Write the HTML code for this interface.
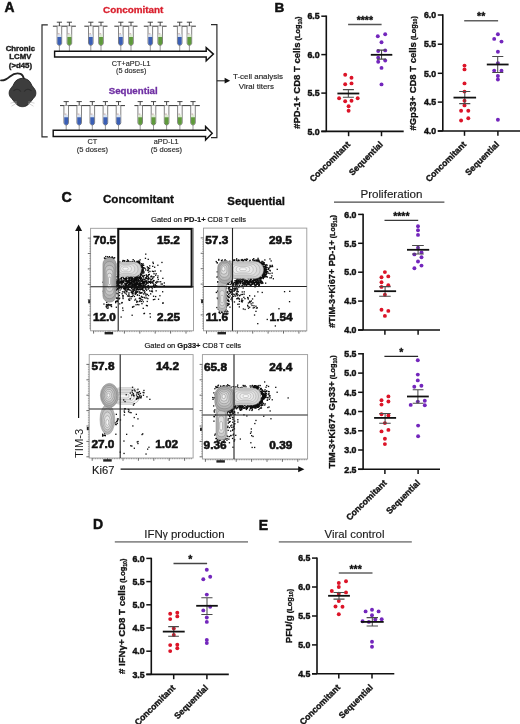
<!DOCTYPE html>
<html><head><meta charset="utf-8"><title>Figure</title>
<style>
html,body{margin:0;padding:0;background:#fff;}
body{width:520px;height:724px;overflow:hidden;}
svg{display:block;font-family:"Liberation Sans", Arial, Helvetica, sans-serif;}
</style></head><body>
<svg width="520" height="724" viewBox="0 0 520 724">
<defs>
<filter id="soft" x="-20%" y="-20%" width="140%" height="140%"><feGaussianBlur stdDeviation="0.45"/></filter>
</defs>
<rect width="520" height="724" fill="#fff"/>
<text x="4.6" y="12.4" font-size="13.8" font-weight="bold" text-anchor="start" fill="#111" stroke="#111" stroke-width="0.5" >A</text>
<text x="133.2" y="12.6" font-size="9.9" font-weight="bold" text-anchor="middle" fill="#d91f2d" stroke="#d91f2d" stroke-width="0.32" >Concomitant</text>
<text x="133.2" y="93.9" font-size="9.7" font-weight="bold" text-anchor="middle" fill="#6f2fa3" stroke="#6f2fa3" stroke-width="0.32" >Sequential</text>
<text x="20.4" y="50.6" font-size="7.8" font-weight="bold" text-anchor="middle" fill="#1a1a1a" stroke="#1a1a1a" stroke-width="0.4" >Chronic</text>
<text x="20.4" y="59.3" font-size="7.8" font-weight="bold" text-anchor="middle" fill="#1a1a1a" stroke="#1a1a1a" stroke-width="0.4" >LCMV</text>
<text x="20.4" y="67.8" font-size="7.8" font-weight="bold" text-anchor="middle" fill="#1a1a1a" stroke="#1a1a1a" stroke-width="0.4" >(&gt;d45)</text>
<path d="M1,80.4 C4,80.9 7,79 10,76.5 C13,74 17,72.6 20.5,73.8 C22,74.4 23.3,76 24,79" fill="none" stroke="#222" stroke-width="1.8" stroke-linecap="round"/>
<path d="M22.5,78.3 C26.5,78.3 29.8,80.5 31.2,84 C32,86.5 34.6,88 35.6,91 C36.4,93.8 35.6,96.6 33.5,98.2 C31.5,100.6 29.6,103.6 27,105.4 C25.5,106.4 23.8,106.7 22.5,106.7 C21.2,106.7 19.5,106.4 18,105.4 C15.4,103.6 13.5,100.6 11.5,98.2 C9.4,96.6 8.6,93.8 9.4,91 C10.4,88 13,86.5 13.8,84 C15.2,80.5 18.5,78.3 22.5,78.3 Z" fill="#3d3d3d" stroke="#1f1f1f" stroke-width="0.8"/>
<path d="M13.5,91 C15.5,88.5 19,88.8 20.8,91.5 M31.5,91 C29.5,88.5 26,88.8 24.2,91.5" fill="none" stroke="#2c2c2c" stroke-width="1.1"/>
<path d="M16.5,101.8 L10.5,103.2 M17,103 L11.5,106.2 M28.5,101.8 L34.5,103.2 M28,103 L33.5,106.2" stroke="#b8b8b8" stroke-width="0.6" fill="none"/>
<path d="M47.8,24.8 H42 V136.8 H47.7" fill="none" stroke="#2b2b2b" stroke-width="1.2"/>
<path d="M211,24.6 H216.9 V137.7 H211" fill="none" stroke="#2b2b2b" stroke-width="1.2"/>
<path d="M216.9,80.8 H225.5" stroke="#222" stroke-width="1.1"/>
<path d="M224.6,77.8 L230.2,80.7 L224.6,83.6 Z" fill="#111"/>
<text x="258.0" y="79.3" font-size="7.95" text-anchor="middle" fill="#222" stroke="#222" stroke-width="0.14" >T-cell analysis</text>
<text x="256.4" y="88.9" font-size="7.95" text-anchor="middle" fill="#222" stroke="#222" stroke-width="0.14" >Viral titers</text>
<path d="M52.9,26.2 H75.9" stroke="#333" stroke-width="1"/>
<path d="M56.8,22.2 H62.0 M59.4,22.2 V26.2" stroke="#333" stroke-width="0.9" fill="none"/>
<path d="M57.1,26.2 V43.3 Q57.1,44.8 59.4,45.599999999999994 Q61.699999999999996,44.8 61.699999999999996,43.3 V26.2" fill="#fbfbfb" stroke="#5a5a5a" stroke-width="0.75"/>
<rect x="57.50" y="34.40" width="3.80" height="2.8" fill="#d6e2f2"/>
<path d="M57.45,37.0 V43.3 Q57.45,44.599999999999994 59.4,45.3 Q61.349999999999994,44.599999999999994 61.349999999999994,43.3 V37.0 Z" fill="#3b5fb5"/>
<path d="M57.9,33.8 H59.6" stroke="#8a4a4a" stroke-width="0.5"/>
<path d="M59.4,45.599999999999994 V51" stroke="#555" stroke-width="0.6"/>
<path d="M66.80000000000001,22.2 H72.0 M69.4,22.2 V26.2" stroke="#333" stroke-width="0.9" fill="none"/>
<path d="M67.10000000000001,26.2 V43.3 Q67.10000000000001,44.8 69.4,45.599999999999994 Q71.7,44.8 71.7,43.3 V26.2" fill="#fbfbfb" stroke="#5a5a5a" stroke-width="0.75"/>
<rect x="67.50" y="34.40" width="3.80" height="2.8" fill="#dcebd2"/>
<path d="M67.45,37.0 V43.3 Q67.45,44.599999999999994 69.4,45.3 Q71.35000000000001,44.599999999999994 71.35000000000001,43.3 V37.0 Z" fill="#5f9a3c"/>
<path d="M67.9,33.8 H69.60000000000001" stroke="#8a4a4a" stroke-width="0.5"/>
<path d="M69.4,45.599999999999994 V51" stroke="#555" stroke-width="0.6"/>
<path d="M84.3,26.2 H107.5" stroke="#333" stroke-width="1"/>
<path d="M88.2,22.2 H93.39999999999999 M90.8,22.2 V26.2" stroke="#333" stroke-width="0.9" fill="none"/>
<path d="M88.5,26.2 V43.3 Q88.5,44.8 90.8,45.599999999999994 Q93.1,44.8 93.1,43.3 V26.2" fill="#fbfbfb" stroke="#5a5a5a" stroke-width="0.75"/>
<rect x="88.90" y="34.40" width="3.80" height="2.8" fill="#d6e2f2"/>
<path d="M88.85,37.0 V43.3 Q88.85,44.599999999999994 90.8,45.3 Q92.75,44.599999999999994 92.75,43.3 V37.0 Z" fill="#3b5fb5"/>
<path d="M89.3,33.8 H91.0" stroke="#8a4a4a" stroke-width="0.5"/>
<path d="M90.8,45.599999999999994 V51" stroke="#555" stroke-width="0.6"/>
<path d="M98.4,22.2 H103.6 M101.0,22.2 V26.2" stroke="#333" stroke-width="0.9" fill="none"/>
<path d="M98.7,26.2 V43.3 Q98.7,44.8 101.0,45.599999999999994 Q103.3,44.8 103.3,43.3 V26.2" fill="#fbfbfb" stroke="#5a5a5a" stroke-width="0.75"/>
<rect x="99.10" y="34.40" width="3.80" height="2.8" fill="#dcebd2"/>
<path d="M99.05,37.0 V43.3 Q99.05,44.599999999999994 101.0,45.3 Q102.95,44.599999999999994 102.95,43.3 V37.0 Z" fill="#5f9a3c"/>
<path d="M99.5,33.8 H101.2" stroke="#8a4a4a" stroke-width="0.5"/>
<path d="M101.0,45.599999999999994 V51" stroke="#555" stroke-width="0.6"/>
<path d="M114.3,26.2 H137.5" stroke="#333" stroke-width="1"/>
<path d="M118.2,22.2 H123.39999999999999 M120.8,22.2 V26.2" stroke="#333" stroke-width="0.9" fill="none"/>
<path d="M118.5,26.2 V43.3 Q118.5,44.8 120.8,45.599999999999994 Q123.1,44.8 123.1,43.3 V26.2" fill="#fbfbfb" stroke="#5a5a5a" stroke-width="0.75"/>
<rect x="118.90" y="34.40" width="3.80" height="2.8" fill="#d6e2f2"/>
<path d="M118.85,37.0 V43.3 Q118.85,44.599999999999994 120.8,45.3 Q122.75,44.599999999999994 122.75,43.3 V37.0 Z" fill="#3b5fb5"/>
<path d="M119.3,33.8 H121.0" stroke="#8a4a4a" stroke-width="0.5"/>
<path d="M120.8,45.599999999999994 V51" stroke="#555" stroke-width="0.6"/>
<path d="M128.4,22.2 H133.6 M131.0,22.2 V26.2" stroke="#333" stroke-width="0.9" fill="none"/>
<path d="M128.7,26.2 V43.3 Q128.7,44.8 131.0,45.599999999999994 Q133.3,44.8 133.3,43.3 V26.2" fill="#fbfbfb" stroke="#5a5a5a" stroke-width="0.75"/>
<rect x="129.10" y="34.40" width="3.80" height="2.8" fill="#dcebd2"/>
<path d="M129.04999999999998,37.0 V43.3 Q129.04999999999998,44.599999999999994 131.0,45.3 Q132.95000000000002,44.599999999999994 132.95000000000002,43.3 V37.0 Z" fill="#5f9a3c"/>
<path d="M129.5,33.8 H131.2" stroke="#8a4a4a" stroke-width="0.5"/>
<path d="M131.0,45.599999999999994 V51" stroke="#555" stroke-width="0.6"/>
<path d="M143.8,26.2 H166.7" stroke="#333" stroke-width="1"/>
<path d="M147.70000000000002,22.2 H152.9 M150.3,22.2 V26.2" stroke="#333" stroke-width="0.9" fill="none"/>
<path d="M148.0,26.2 V43.3 Q148.0,44.8 150.3,45.599999999999994 Q152.60000000000002,44.8 152.60000000000002,43.3 V26.2" fill="#fbfbfb" stroke="#5a5a5a" stroke-width="0.75"/>
<rect x="148.40" y="34.40" width="3.80" height="2.8" fill="#d6e2f2"/>
<path d="M148.35,37.0 V43.3 Q148.35,44.599999999999994 150.3,45.3 Q152.25000000000003,44.599999999999994 152.25000000000003,43.3 V37.0 Z" fill="#3b5fb5"/>
<path d="M148.8,33.8 H150.5" stroke="#8a4a4a" stroke-width="0.5"/>
<path d="M150.3,45.599999999999994 V51" stroke="#555" stroke-width="0.6"/>
<path d="M157.6,22.2 H162.79999999999998 M160.2,22.2 V26.2" stroke="#333" stroke-width="0.9" fill="none"/>
<path d="M157.89999999999998,26.2 V43.3 Q157.89999999999998,44.8 160.2,45.599999999999994 Q162.5,44.8 162.5,43.3 V26.2" fill="#fbfbfb" stroke="#5a5a5a" stroke-width="0.75"/>
<rect x="158.30" y="34.40" width="3.80" height="2.8" fill="#dcebd2"/>
<path d="M158.24999999999997,37.0 V43.3 Q158.24999999999997,44.599999999999994 160.2,45.3 Q162.15,44.599999999999994 162.15,43.3 V37.0 Z" fill="#5f9a3c"/>
<path d="M158.7,33.8 H160.39999999999998" stroke="#8a4a4a" stroke-width="0.5"/>
<path d="M160.2,45.599999999999994 V51" stroke="#555" stroke-width="0.6"/>
<path d="M173.2,26.2 H195.9" stroke="#333" stroke-width="1"/>
<path d="M177.1,22.2 H182.29999999999998 M179.7,22.2 V26.2" stroke="#333" stroke-width="0.9" fill="none"/>
<path d="M177.39999999999998,26.2 V43.3 Q177.39999999999998,44.8 179.7,45.599999999999994 Q182.0,44.8 182.0,43.3 V26.2" fill="#fbfbfb" stroke="#5a5a5a" stroke-width="0.75"/>
<rect x="177.80" y="34.40" width="3.80" height="2.8" fill="#d6e2f2"/>
<path d="M177.74999999999997,37.0 V43.3 Q177.74999999999997,44.599999999999994 179.7,45.3 Q181.65,44.599999999999994 181.65,43.3 V37.0 Z" fill="#3b5fb5"/>
<path d="M178.2,33.8 H179.89999999999998" stroke="#8a4a4a" stroke-width="0.5"/>
<path d="M179.7,45.599999999999994 V51" stroke="#555" stroke-width="0.6"/>
<path d="M186.8,22.2 H192.0 M189.4,22.2 V26.2" stroke="#333" stroke-width="0.9" fill="none"/>
<path d="M187.1,26.2 V43.3 Q187.1,44.8 189.4,45.599999999999994 Q191.70000000000002,44.8 191.70000000000002,43.3 V26.2" fill="#fbfbfb" stroke="#5a5a5a" stroke-width="0.75"/>
<rect x="187.50" y="34.40" width="3.80" height="2.8" fill="#dcebd2"/>
<path d="M187.45,37.0 V43.3 Q187.45,44.599999999999994 189.4,45.3 Q191.35000000000002,44.599999999999994 191.35000000000002,43.3 V37.0 Z" fill="#5f9a3c"/>
<path d="M187.9,33.8 H189.6" stroke="#8a4a4a" stroke-width="0.5"/>
<path d="M189.4,45.599999999999994 V51" stroke="#555" stroke-width="0.6"/>
<path d="M60,105.6 H125" stroke="#333" stroke-width="1"/>
<path d="M134.4,105.6 H199.8" stroke="#333" stroke-width="1"/>
<path d="M63.6,101.6 H68.8 M66.2,101.6 V105.6" stroke="#333" stroke-width="0.9" fill="none"/>
<path d="M63.900000000000006,105.6 V122.9 Q63.900000000000006,124.4 66.2,125.2 Q68.5,124.4 68.5,122.9 V105.6" fill="#fbfbfb" stroke="#5a5a5a" stroke-width="0.75"/>
<rect x="64.30" y="114.70" width="3.80" height="2.8" fill="#d6e2f2"/>
<path d="M64.25,117.3 V122.9 Q64.25,124.2 66.2,124.9 Q68.15,124.2 68.15,122.9 V117.3 Z" fill="#3b5fb5"/>
<path d="M64.7,114.1 H66.4" stroke="#8a4a4a" stroke-width="0.5"/>
<path d="M66.2,125.2 V130" stroke="#555" stroke-width="0.6"/>
<path d="M76.60000000000001,101.6 H81.8 M79.2,101.6 V105.6" stroke="#333" stroke-width="0.9" fill="none"/>
<path d="M76.9,105.6 V122.9 Q76.9,124.4 79.2,125.2 Q81.5,124.4 81.5,122.9 V105.6" fill="#fbfbfb" stroke="#5a5a5a" stroke-width="0.75"/>
<rect x="77.30" y="114.70" width="3.80" height="2.8" fill="#d6e2f2"/>
<path d="M77.25,117.3 V122.9 Q77.25,124.2 79.2,124.9 Q81.15,124.2 81.15,122.9 V117.3 Z" fill="#3b5fb5"/>
<path d="M77.7,114.1 H79.4" stroke="#8a4a4a" stroke-width="0.5"/>
<path d="M79.2,125.2 V130" stroke="#555" stroke-width="0.6"/>
<path d="M89.7,101.6 H94.89999999999999 M92.3,101.6 V105.6" stroke="#333" stroke-width="0.9" fill="none"/>
<path d="M90.0,105.6 V122.9 Q90.0,124.4 92.3,125.2 Q94.6,124.4 94.6,122.9 V105.6" fill="#fbfbfb" stroke="#5a5a5a" stroke-width="0.75"/>
<rect x="90.40" y="114.70" width="3.80" height="2.8" fill="#d6e2f2"/>
<path d="M90.35,117.3 V122.9 Q90.35,124.2 92.3,124.9 Q94.25,124.2 94.25,122.9 V117.3 Z" fill="#3b5fb5"/>
<path d="M90.8,114.1 H92.5" stroke="#8a4a4a" stroke-width="0.5"/>
<path d="M92.3,125.2 V130" stroke="#555" stroke-width="0.6"/>
<path d="M102.80000000000001,101.6 H108.0 M105.4,101.6 V105.6" stroke="#333" stroke-width="0.9" fill="none"/>
<path d="M103.10000000000001,105.6 V122.9 Q103.10000000000001,124.4 105.4,125.2 Q107.7,124.4 107.7,122.9 V105.6" fill="#fbfbfb" stroke="#5a5a5a" stroke-width="0.75"/>
<rect x="103.50" y="114.70" width="3.80" height="2.8" fill="#d6e2f2"/>
<path d="M103.45,117.3 V122.9 Q103.45,124.2 105.4,124.9 Q107.35000000000001,124.2 107.35000000000001,122.9 V117.3 Z" fill="#3b5fb5"/>
<path d="M103.9,114.1 H105.60000000000001" stroke="#8a4a4a" stroke-width="0.5"/>
<path d="M105.4,125.2 V130" stroke="#555" stroke-width="0.6"/>
<path d="M115.9,101.6 H121.1 M118.5,101.6 V105.6" stroke="#333" stroke-width="0.9" fill="none"/>
<path d="M116.2,105.6 V122.9 Q116.2,124.4 118.5,125.2 Q120.8,124.4 120.8,122.9 V105.6" fill="#fbfbfb" stroke="#5a5a5a" stroke-width="0.75"/>
<rect x="116.60" y="114.70" width="3.80" height="2.8" fill="#d6e2f2"/>
<path d="M116.55,117.3 V122.9 Q116.55,124.2 118.5,124.9 Q120.45,124.2 120.45,122.9 V117.3 Z" fill="#3b5fb5"/>
<path d="M117.0,114.1 H118.7" stroke="#8a4a4a" stroke-width="0.5"/>
<path d="M118.5,125.2 V130" stroke="#555" stroke-width="0.6"/>
<path d="M137.6,101.6 H142.79999999999998 M140.2,101.6 V105.6" stroke="#333" stroke-width="0.9" fill="none"/>
<path d="M137.89999999999998,105.6 V122.9 Q137.89999999999998,124.4 140.2,125.2 Q142.5,124.4 142.5,122.9 V105.6" fill="#fbfbfb" stroke="#5a5a5a" stroke-width="0.75"/>
<rect x="138.30" y="114.70" width="3.80" height="2.8" fill="#dcebd2"/>
<path d="M138.24999999999997,117.3 V122.9 Q138.24999999999997,124.2 140.2,124.9 Q142.15,124.2 142.15,122.9 V117.3 Z" fill="#5f9a3c"/>
<path d="M138.7,114.1 H140.39999999999998" stroke="#8a4a4a" stroke-width="0.5"/>
<path d="M140.2,125.2 V130" stroke="#555" stroke-width="0.6"/>
<path d="M150.9,101.6 H156.1 M153.5,101.6 V105.6" stroke="#333" stroke-width="0.9" fill="none"/>
<path d="M151.2,105.6 V122.9 Q151.2,124.4 153.5,125.2 Q155.8,124.4 155.8,122.9 V105.6" fill="#fbfbfb" stroke="#5a5a5a" stroke-width="0.75"/>
<rect x="151.60" y="114.70" width="3.80" height="2.8" fill="#dcebd2"/>
<path d="M151.54999999999998,117.3 V122.9 Q151.54999999999998,124.2 153.5,124.9 Q155.45000000000002,124.2 155.45000000000002,122.9 V117.3 Z" fill="#5f9a3c"/>
<path d="M152.0,114.1 H153.7" stroke="#8a4a4a" stroke-width="0.5"/>
<path d="M153.5,125.2 V130" stroke="#555" stroke-width="0.6"/>
<path d="M164.0,101.6 H169.2 M166.6,101.6 V105.6" stroke="#333" stroke-width="0.9" fill="none"/>
<path d="M164.29999999999998,105.6 V122.9 Q164.29999999999998,124.4 166.6,125.2 Q168.9,124.4 168.9,122.9 V105.6" fill="#fbfbfb" stroke="#5a5a5a" stroke-width="0.75"/>
<rect x="164.70" y="114.70" width="3.80" height="2.8" fill="#dcebd2"/>
<path d="M164.64999999999998,117.3 V122.9 Q164.64999999999998,124.2 166.6,124.9 Q168.55,124.2 168.55,122.9 V117.3 Z" fill="#5f9a3c"/>
<path d="M165.1,114.1 H166.79999999999998" stroke="#8a4a4a" stroke-width="0.5"/>
<path d="M166.6,125.2 V130" stroke="#555" stroke-width="0.6"/>
<path d="M177.3,101.6 H182.5 M179.9,101.6 V105.6" stroke="#333" stroke-width="0.9" fill="none"/>
<path d="M177.6,105.6 V122.9 Q177.6,124.4 179.9,125.2 Q182.20000000000002,124.4 182.20000000000002,122.9 V105.6" fill="#fbfbfb" stroke="#5a5a5a" stroke-width="0.75"/>
<rect x="178.00" y="114.70" width="3.80" height="2.8" fill="#dcebd2"/>
<path d="M177.95,117.3 V122.9 Q177.95,124.2 179.9,124.9 Q181.85000000000002,124.2 181.85000000000002,122.9 V117.3 Z" fill="#5f9a3c"/>
<path d="M178.4,114.1 H180.1" stroke="#8a4a4a" stroke-width="0.5"/>
<path d="M179.9,125.2 V130" stroke="#555" stroke-width="0.6"/>
<path d="M190.4,101.6 H195.6 M193.0,101.6 V105.6" stroke="#333" stroke-width="0.9" fill="none"/>
<path d="M190.7,105.6 V122.9 Q190.7,124.4 193.0,125.2 Q195.3,124.4 195.3,122.9 V105.6" fill="#fbfbfb" stroke="#5a5a5a" stroke-width="0.75"/>
<rect x="191.10" y="114.70" width="3.80" height="2.8" fill="#dcebd2"/>
<path d="M191.04999999999998,117.3 V122.9 Q191.04999999999998,124.2 193.0,124.9 Q194.95000000000002,124.2 194.95000000000002,122.9 V117.3 Z" fill="#5f9a3c"/>
<path d="M191.5,114.1 H193.2" stroke="#8a4a4a" stroke-width="0.5"/>
<path d="M193.0,125.2 V130" stroke="#555" stroke-width="0.6"/>
<path d="M54.6,51.2 H206.2 V47.6 L213.4,54.1 L206.2,60.8 V57.0 H54.6 Z" fill="#fff" stroke="#111" stroke-width="1.45" stroke-linejoin="miter"/>
<path d="M53.2,130.2 H205.6 V126.6 L212.2,133.3 L205.6,140.0 V136.4 H53.2 Z" fill="#fff" stroke="#111" stroke-width="1.45" stroke-linejoin="miter"/>
<text x="131.2" y="65.5" font-size="7.3" text-anchor="middle" fill="#2a2a2a" stroke="#2a2a2a" stroke-width="0.14" >CT+aPD-L1</text>
<text x="131.2" y="73.2" font-size="7.3" text-anchor="middle" fill="#2a2a2a" stroke="#2a2a2a" stroke-width="0.14" >(5 doses)</text>
<text x="92.3" y="144.2" font-size="7.3" text-anchor="middle" fill="#2a2a2a" stroke="#2a2a2a" stroke-width="0.14" >CT</text>
<text x="92.4" y="152.3" font-size="7.55" text-anchor="middle" fill="#2a2a2a" stroke="#2a2a2a" stroke-width="0.14" >(5 doses)</text>
<text x="166.2" y="144.4" font-size="7.3" text-anchor="middle" fill="#2a2a2a" stroke="#2a2a2a" stroke-width="0.14" >aPD-L1</text>
<text x="166.4" y="152.3" font-size="7.55" text-anchor="middle" fill="#2a2a2a" stroke="#2a2a2a" stroke-width="0.14" >(5 doses)</text>
<text x="274.4" y="12.2" font-size="13.6" font-weight="bold" text-anchor="start" fill="#111" stroke="#111" stroke-width="0.5" >B</text>
<path d="M326.3,15.5 V131.4 M321.3,131.4 H403.7" stroke="#111" stroke-width="1.6" fill="none"/>
<path d="M321.3,16.2 H326.3" stroke="#111" stroke-width="1.5"/>
<text x="319.7" y="19.4" font-size="8.8" font-weight="bold" text-anchor="end" fill="#111" stroke="#111" stroke-width="0.45" >6.5</text>
<path d="M321.3,54.6 H326.3" stroke="#111" stroke-width="1.5"/>
<text x="319.7" y="57.800000000000004" font-size="8.8" font-weight="bold" text-anchor="end" fill="#111" stroke="#111" stroke-width="0.45" >6.0</text>
<path d="M321.3,93.1 H326.3" stroke="#111" stroke-width="1.5"/>
<text x="319.7" y="96.3" font-size="8.8" font-weight="bold" text-anchor="end" fill="#111" stroke="#111" stroke-width="0.45" >5.5</text>
<path d="M321.3,131.4 H326.3" stroke="#111" stroke-width="1.5"/>
<text x="319.7" y="134.6" font-size="8.8" font-weight="bold" text-anchor="end" fill="#111" stroke="#111" stroke-width="0.45" >5.0</text>
<path d="M348.6,131.4 V136.20000000000002" stroke="#111" stroke-width="1.5"/>
<path d="M381.5,131.4 V136.20000000000002" stroke="#111" stroke-width="1.5"/>
<path d="M348.1,24.5 H381.6" stroke="#555" stroke-width="1.4"/>
<text x="364.85" y="24.00" font-size="10.5" font-weight="bold" text-anchor="middle" fill="#0a0a0a" stroke="#0a0a0a" stroke-width="0.3" stroke-linejoin="round">****</text>
<circle cx="345.2" cy="74.8" r="1.95" fill="#dc1428"/>
<circle cx="351.5" cy="77.8" r="1.95" fill="#dc1428"/>
<circle cx="345.2" cy="84.2" r="1.95" fill="#dc1428"/>
<circle cx="351.5" cy="83.4" r="1.95" fill="#dc1428"/>
<circle cx="339.1" cy="98.2" r="1.95" fill="#dc1428"/>
<circle cx="357.7" cy="98.2" r="1.95" fill="#dc1428"/>
<circle cx="345.2" cy="101.3" r="1.95" fill="#dc1428"/>
<circle cx="351.5" cy="100.7" r="1.95" fill="#dc1428"/>
<circle cx="348.6" cy="106.3" r="1.95" fill="#dc1428"/>
<circle cx="348.6" cy="110.8" r="1.95" fill="#dc1428"/>
<circle cx="377.8" cy="36.2" r="1.95" fill="#7326bc"/>
<circle cx="385.2" cy="34.2" r="1.95" fill="#7326bc"/>
<circle cx="381.5" cy="42.3" r="1.95" fill="#7326bc"/>
<circle cx="378.2" cy="51.0" r="1.95" fill="#7326bc"/>
<circle cx="385.2" cy="50.4" r="1.95" fill="#7326bc"/>
<circle cx="378.2" cy="57.8" r="1.95" fill="#7326bc"/>
<circle cx="385.2" cy="60.5" r="1.95" fill="#7326bc"/>
<circle cx="378.2" cy="61.8" r="1.95" fill="#7326bc"/>
<circle cx="381.5" cy="67.9" r="1.95" fill="#7326bc"/>
<circle cx="381.5" cy="84.4" r="1.95" fill="#7326bc"/>
<path d="M348.35,89.6 V97.3 M342.9,89.6 H353.9 M342.9,97.3 H353.9" stroke="#4a4a4a" stroke-width="1.05" fill="none"/>
<path d="M337.4,93.5 H359.3" stroke="#111" stroke-width="1.8"/>
<path d="M381.55,50.1 V59.1 M377.0,50.1 H386.0 M377.0,59.1 H386.0" stroke="#4a4a4a" stroke-width="1.05" fill="none"/>
<path d="M370.8,54.8 H392.3" stroke="#111" stroke-width="1.8"/>
<text transform="translate(300.2,128.8) rotate(-90)" font-size="9.5" font-weight="bold" fill="#111" stroke="#111" stroke-width="0.3">#PD-1+ CD8 T cells<tspan font-size="7.32"> (Log</tspan><tspan font-size="5.13" dy="1.8">10</tspan><tspan font-size="7.32" dy="-1.8">)</tspan></text>
<text transform="translate(350.70,145.00) rotate(-45)" font-size="8.7" font-weight="bold" text-anchor="end" fill="#111" stroke="#111" stroke-width="0.35">Concomitant</text>
<text transform="translate(383.50,145.00) rotate(-45)" font-size="8.7" font-weight="bold" text-anchor="end" fill="#111" stroke="#111" stroke-width="0.35">Sequential</text>
<path d="M442.8,14.3 V131.0 M437.8,131.0 H520" stroke="#111" stroke-width="1.6" fill="none"/>
<path d="M437.8,15.0 H442.8" stroke="#111" stroke-width="1.5"/>
<text x="436.2" y="18.2" font-size="8.8" font-weight="bold" text-anchor="end" fill="#111" stroke="#111" stroke-width="0.45" >6.0</text>
<path d="M437.8,44.2 H442.8" stroke="#111" stroke-width="1.5"/>
<text x="436.2" y="47.400000000000006" font-size="8.8" font-weight="bold" text-anchor="end" fill="#111" stroke="#111" stroke-width="0.45" >5.5</text>
<path d="M437.8,73.3 H442.8" stroke="#111" stroke-width="1.5"/>
<text x="436.2" y="76.5" font-size="8.8" font-weight="bold" text-anchor="end" fill="#111" stroke="#111" stroke-width="0.45" >5.0</text>
<path d="M437.8,102.1 H442.8" stroke="#111" stroke-width="1.5"/>
<text x="436.2" y="105.3" font-size="8.8" font-weight="bold" text-anchor="end" fill="#111" stroke="#111" stroke-width="0.45" >4.5</text>
<path d="M437.8,131.0 H442.8" stroke="#111" stroke-width="1.5"/>
<text x="436.2" y="134.2" font-size="8.8" font-weight="bold" text-anchor="end" fill="#111" stroke="#111" stroke-width="0.45" >4.0</text>
<path d="M464.5,131.0 V135.8" stroke="#111" stroke-width="1.5"/>
<path d="M497.9,131.0 V135.8" stroke="#111" stroke-width="1.5"/>
<path d="M464.2,20.7 H498.1" stroke="#606060" stroke-width="1.4"/>
<text x="481.15" y="20.20" font-size="10.5" font-weight="bold" text-anchor="middle" fill="#0a0a0a" stroke="#0a0a0a" stroke-width="0.3" stroke-linejoin="round">**</text>
<circle cx="464.5" cy="65.6" r="1.95" fill="#dc1428"/>
<circle cx="464.5" cy="69.4" r="1.95" fill="#dc1428"/>
<circle cx="464.5" cy="83.4" r="1.95" fill="#dc1428"/>
<circle cx="464.5" cy="91.6" r="1.95" fill="#dc1428"/>
<circle cx="464.5" cy="100.7" r="1.95" fill="#dc1428"/>
<circle cx="464.5" cy="105.4" r="1.95" fill="#dc1428"/>
<circle cx="461.1" cy="110.8" r="1.95" fill="#dc1428"/>
<circle cx="468.3" cy="110.8" r="1.95" fill="#dc1428"/>
<circle cx="468.3" cy="118.2" r="1.95" fill="#dc1428"/>
<circle cx="461.1" cy="120.5" r="1.95" fill="#dc1428"/>
<circle cx="497.9" cy="34.2" r="1.95" fill="#7326bc"/>
<circle cx="494.2" cy="38.9" r="1.95" fill="#7326bc"/>
<circle cx="501.5" cy="41.6" r="1.95" fill="#7326bc"/>
<circle cx="497.9" cy="51.8" r="1.95" fill="#7326bc"/>
<circle cx="497.9" cy="63.1" r="1.95" fill="#7326bc"/>
<circle cx="494.2" cy="70.6" r="1.95" fill="#7326bc"/>
<circle cx="501.5" cy="70.8" r="1.95" fill="#7326bc"/>
<circle cx="497.9" cy="76.0" r="1.95" fill="#7326bc"/>
<circle cx="497.9" cy="79.5" r="1.95" fill="#7326bc"/>
<circle cx="497.9" cy="119.8" r="1.95" fill="#7326bc"/>
<path d="M464.8,91.5 V103.6 M459.2,91.5 H470.3 M459.2,103.6 H470.3" stroke="#4a4a4a" stroke-width="1.05" fill="none"/>
<path d="M453.5,97.6 H476.1" stroke="#111" stroke-width="1.8"/>
<path d="M497.70000000000005,56.4 V72.4 M492.2,56.4 H503.3 M492.2,72.4 H503.3" stroke="#4a4a4a" stroke-width="1.05" fill="none"/>
<path d="M486.8,64.5 H508.6" stroke="#111" stroke-width="1.8"/>
<text transform="translate(415.6,130.6) rotate(-90)" font-size="9.5" font-weight="bold" fill="#111" stroke="#111" stroke-width="0.3">#Gp33+ CD8 T cells<tspan font-size="7.32"> (Log</tspan><tspan font-size="5.13" dy="1.8">10</tspan><tspan font-size="7.32" dy="-1.8">)</tspan></text>
<text transform="translate(466.70,145.00) rotate(-45)" font-size="8.7" font-weight="bold" text-anchor="end" fill="#111" stroke="#111" stroke-width="0.35">Concomitant</text>
<text transform="translate(499.70,145.00) rotate(-45)" font-size="8.7" font-weight="bold" text-anchor="end" fill="#111" stroke="#111" stroke-width="0.35">Sequential</text>
<text x="61.4" y="202.4" font-size="14.2" font-weight="bold" text-anchor="start" fill="#111" stroke="#111" stroke-width="0.5" >C</text>
<text x="103.0" y="203.0" font-size="11.6" font-weight="bold" text-anchor="start" fill="#111" stroke="#111" stroke-width="0.32" >Concomitant</text>
<text x="227.3" y="204.6" font-size="11.4" font-weight="bold" text-anchor="start" fill="#111" stroke="#111" stroke-width="0.32" >Sequential</text>
<text x="151.1" y="222.3" font-size="7.5" fill="#151515" stroke="#151515" stroke-width="0.18">Gated on <tspan font-weight="bold">PD-1+</tspan> CD8 T cells</text>
<text x="144.4" y="347.6" font-size="7.5" fill="#151515" stroke="#151515" stroke-width="0.18">Gated on <tspan font-weight="bold">Gp33+</tspan> CD8 T cells</text>
<path d="M78.6,418 V229" stroke="#111" stroke-width="1.2"/>
<path d="M78.6,224.6 L82.1,231 L75.1,231 Z" fill="#111"/>
<path d="M120.6,469.2 H299" stroke="#111" stroke-width="1.2"/>
<path d="M304.4,469.2 L298.2,466.2 L298.2,472.2 Z" fill="#111"/>
<text transform="translate(82.9,458) rotate(-90)" font-size="11.2" fill="#1a1a1a">TIM-3</text>
<text x="92.0" y="474.0" font-size="11.2" text-anchor="start" fill="#1a1a1a" stroke="#1a1a1a" stroke-width="0.14" >Ki67</text>
<rect x="90.6" y="228.3" width="102.90" height="102.50" fill="#fff" stroke="#9a9a9a" stroke-width="0.9"/>
<path d="M87.80,238.10 H90.6" stroke="#444" stroke-width="0.8"/>
<path d="M89.30,239.80 H90.6" stroke="#666" stroke-width="0.55"/>
<path d="M89.30,241.50 H90.6" stroke="#666" stroke-width="0.55"/>
<path d="M89.30,243.20 H90.6" stroke="#666" stroke-width="0.55"/>
<path d="M89.30,244.90 H90.6" stroke="#666" stroke-width="0.55"/>
<path d="M89.30,246.60 H90.6" stroke="#666" stroke-width="0.55"/>
<path d="M89.30,248.30 H90.6" stroke="#666" stroke-width="0.55"/>
<path d="M89.30,250.00 H90.6" stroke="#666" stroke-width="0.55"/>
<path d="M89.30,251.70 H90.6" stroke="#666" stroke-width="0.55"/>
<path d="M87.80,253.50 H90.6" stroke="#444" stroke-width="0.8"/>
<path d="M89.30,255.20 H90.6" stroke="#666" stroke-width="0.55"/>
<path d="M89.30,256.90 H90.6" stroke="#666" stroke-width="0.55"/>
<path d="M89.30,258.60 H90.6" stroke="#666" stroke-width="0.55"/>
<path d="M89.30,260.30 H90.6" stroke="#666" stroke-width="0.55"/>
<path d="M89.30,262.00 H90.6" stroke="#666" stroke-width="0.55"/>
<path d="M89.30,263.70 H90.6" stroke="#666" stroke-width="0.55"/>
<path d="M89.30,265.40 H90.6" stroke="#666" stroke-width="0.55"/>
<path d="M89.30,267.10 H90.6" stroke="#666" stroke-width="0.55"/>
<path d="M87.80,268.90 H90.6" stroke="#444" stroke-width="0.8"/>
<path d="M89.30,270.60 H90.6" stroke="#666" stroke-width="0.55"/>
<path d="M89.30,272.30 H90.6" stroke="#666" stroke-width="0.55"/>
<path d="M89.30,274.00 H90.6" stroke="#666" stroke-width="0.55"/>
<path d="M89.30,275.70 H90.6" stroke="#666" stroke-width="0.55"/>
<path d="M89.30,277.40 H90.6" stroke="#666" stroke-width="0.55"/>
<path d="M89.30,279.10 H90.6" stroke="#666" stroke-width="0.55"/>
<path d="M89.30,280.80 H90.6" stroke="#666" stroke-width="0.55"/>
<path d="M89.30,282.50 H90.6" stroke="#666" stroke-width="0.55"/>
<path d="M87.80,284.30 H90.6" stroke="#444" stroke-width="0.8"/>
<path d="M89.30,286.00 H90.6" stroke="#666" stroke-width="0.55"/>
<path d="M89.30,287.70 H90.6" stroke="#666" stroke-width="0.55"/>
<path d="M89.30,289.40 H90.6" stroke="#666" stroke-width="0.55"/>
<path d="M89.30,291.10 H90.6" stroke="#666" stroke-width="0.55"/>
<path d="M89.30,292.80 H90.6" stroke="#666" stroke-width="0.55"/>
<path d="M89.30,294.50 H90.6" stroke="#666" stroke-width="0.55"/>
<path d="M89.30,296.20 H90.6" stroke="#666" stroke-width="0.55"/>
<path d="M89.30,297.90 H90.6" stroke="#666" stroke-width="0.55"/>
<path d="M87.80,299.70 H90.6" stroke="#444" stroke-width="0.8"/>
<path d="M89.30,301.40 H90.6" stroke="#666" stroke-width="0.55"/>
<path d="M89.30,303.10 H90.6" stroke="#666" stroke-width="0.55"/>
<path d="M89.30,304.80 H90.6" stroke="#666" stroke-width="0.55"/>
<path d="M89.30,306.50 H90.6" stroke="#666" stroke-width="0.55"/>
<path d="M89.30,308.20 H90.6" stroke="#666" stroke-width="0.55"/>
<path d="M89.30,309.90 H90.6" stroke="#666" stroke-width="0.55"/>
<path d="M89.30,311.60 H90.6" stroke="#666" stroke-width="0.55"/>
<path d="M89.30,313.30 H90.6" stroke="#666" stroke-width="0.55"/>
<path d="M87.80,315.10 H90.6" stroke="#444" stroke-width="0.8"/>
<path d="M89.30,316.80 H90.6" stroke="#666" stroke-width="0.55"/>
<path d="M89.30,318.50 H90.6" stroke="#666" stroke-width="0.55"/>
<path d="M89.30,320.20 H90.6" stroke="#666" stroke-width="0.55"/>
<path d="M89.30,321.90 H90.6" stroke="#666" stroke-width="0.55"/>
<path d="M89.30,323.60 H90.6" stroke="#666" stroke-width="0.55"/>
<path d="M89.30,325.30 H90.6" stroke="#666" stroke-width="0.55"/>
<path d="M89.30,327.00 H90.6" stroke="#666" stroke-width="0.55"/>
<path d="M89.30,328.70 H90.6" stroke="#666" stroke-width="0.55"/>
<path d="M93.60,330.8 V333.60" stroke="#444" stroke-width="0.8"/>
<path d="M95.30,330.8 V332.10" stroke="#666" stroke-width="0.55"/>
<path d="M97.00,330.8 V332.10" stroke="#666" stroke-width="0.55"/>
<path d="M98.70,330.8 V332.10" stroke="#666" stroke-width="0.55"/>
<path d="M100.40,330.8 V332.10" stroke="#666" stroke-width="0.55"/>
<path d="M102.10,330.8 V332.10" stroke="#666" stroke-width="0.55"/>
<path d="M103.80,330.8 V332.10" stroke="#666" stroke-width="0.55"/>
<path d="M105.50,330.8 V332.10" stroke="#666" stroke-width="0.55"/>
<path d="M107.20,330.8 V332.10" stroke="#666" stroke-width="0.55"/>
<path d="M109.00,330.8 V333.60" stroke="#444" stroke-width="0.8"/>
<path d="M110.70,330.8 V332.10" stroke="#666" stroke-width="0.55"/>
<path d="M112.40,330.8 V332.10" stroke="#666" stroke-width="0.55"/>
<path d="M114.10,330.8 V332.10" stroke="#666" stroke-width="0.55"/>
<path d="M115.80,330.8 V332.10" stroke="#666" stroke-width="0.55"/>
<path d="M117.50,330.8 V332.10" stroke="#666" stroke-width="0.55"/>
<path d="M119.20,330.8 V332.10" stroke="#666" stroke-width="0.55"/>
<path d="M120.90,330.8 V332.10" stroke="#666" stroke-width="0.55"/>
<path d="M122.60,330.8 V332.10" stroke="#666" stroke-width="0.55"/>
<path d="M124.40,330.8 V333.60" stroke="#444" stroke-width="0.8"/>
<path d="M126.10,330.8 V332.10" stroke="#666" stroke-width="0.55"/>
<path d="M127.80,330.8 V332.10" stroke="#666" stroke-width="0.55"/>
<path d="M129.50,330.8 V332.10" stroke="#666" stroke-width="0.55"/>
<path d="M131.20,330.8 V332.10" stroke="#666" stroke-width="0.55"/>
<path d="M132.90,330.8 V332.10" stroke="#666" stroke-width="0.55"/>
<path d="M134.60,330.8 V332.10" stroke="#666" stroke-width="0.55"/>
<path d="M136.30,330.8 V332.10" stroke="#666" stroke-width="0.55"/>
<path d="M138.00,330.8 V332.10" stroke="#666" stroke-width="0.55"/>
<path d="M139.80,330.8 V333.60" stroke="#444" stroke-width="0.8"/>
<path d="M141.50,330.8 V332.10" stroke="#666" stroke-width="0.55"/>
<path d="M143.20,330.8 V332.10" stroke="#666" stroke-width="0.55"/>
<path d="M144.90,330.8 V332.10" stroke="#666" stroke-width="0.55"/>
<path d="M146.60,330.8 V332.10" stroke="#666" stroke-width="0.55"/>
<path d="M148.30,330.8 V332.10" stroke="#666" stroke-width="0.55"/>
<path d="M150.00,330.8 V332.10" stroke="#666" stroke-width="0.55"/>
<path d="M151.70,330.8 V332.10" stroke="#666" stroke-width="0.55"/>
<path d="M153.40,330.8 V332.10" stroke="#666" stroke-width="0.55"/>
<path d="M155.20,330.8 V333.60" stroke="#444" stroke-width="0.8"/>
<path d="M156.90,330.8 V332.10" stroke="#666" stroke-width="0.55"/>
<path d="M158.60,330.8 V332.10" stroke="#666" stroke-width="0.55"/>
<path d="M160.30,330.8 V332.10" stroke="#666" stroke-width="0.55"/>
<path d="M162.00,330.8 V332.10" stroke="#666" stroke-width="0.55"/>
<path d="M163.70,330.8 V332.10" stroke="#666" stroke-width="0.55"/>
<path d="M165.40,330.8 V332.10" stroke="#666" stroke-width="0.55"/>
<path d="M167.10,330.8 V332.10" stroke="#666" stroke-width="0.55"/>
<path d="M168.80,330.8 V332.10" stroke="#666" stroke-width="0.55"/>
<path d="M170.60,330.8 V333.60" stroke="#444" stroke-width="0.8"/>
<path d="M172.30,330.8 V332.10" stroke="#666" stroke-width="0.55"/>
<path d="M174.00,330.8 V332.10" stroke="#666" stroke-width="0.55"/>
<path d="M175.70,330.8 V332.10" stroke="#666" stroke-width="0.55"/>
<path d="M177.40,330.8 V332.10" stroke="#666" stroke-width="0.55"/>
<path d="M179.10,330.8 V332.10" stroke="#666" stroke-width="0.55"/>
<path d="M180.80,330.8 V332.10" stroke="#666" stroke-width="0.55"/>
<path d="M182.50,330.8 V332.10" stroke="#666" stroke-width="0.55"/>
<path d="M184.20,330.8 V332.10" stroke="#666" stroke-width="0.55"/>
<path d="M186.00,330.8 V333.60" stroke="#444" stroke-width="0.8"/>
<path d="M187.70,330.8 V332.10" stroke="#666" stroke-width="0.55"/>
<path d="M189.40,330.8 V332.10" stroke="#666" stroke-width="0.55"/>
<path d="M191.10,330.8 V332.10" stroke="#666" stroke-width="0.55"/>
<rect x="88.19999999999999" y="300.1" width="1.9" height="3.2" fill="#222"/>
<rect x="104.6" y="332.0" width="8.5" height="2.4" fill="#222"/>
<rect x="120.7" y="284.2" width="1.3" height="1.3" fill="#0d0d0d"/>
<rect x="141.8" y="280.3" width="1.3" height="1.3" fill="#0d0d0d"/>
<rect x="119.7" y="282.3" width="1.3" height="1.3" fill="#0d0d0d"/>
<rect x="136.9" y="287.3" width="1.3" height="1.3" fill="#0d0d0d"/>
<rect x="120.8" y="277.0" width="1.3" height="1.3" fill="#0d0d0d"/>
<rect x="139.1" y="284.6" width="1.3" height="1.3" fill="#0d0d0d"/>
<rect x="146.9" y="286.8" width="1.3" height="1.3" fill="#0d0d0d"/>
<rect x="131.4" y="281.4" width="1.3" height="1.3" fill="#0d0d0d"/>
<rect x="156.8" y="281.3" width="1.3" height="1.3" fill="#0d0d0d"/>
<rect x="124.9" y="277.7" width="1.3" height="1.3" fill="#0d0d0d"/>
<rect x="133.3" y="283.2" width="1.3" height="1.3" fill="#0d0d0d"/>
<rect x="129.1" y="282.3" width="1.3" height="1.3" fill="#0d0d0d"/>
<rect x="134.9" y="285.5" width="1.3" height="1.3" fill="#0d0d0d"/>
<rect x="142.8" y="283.5" width="1.3" height="1.3" fill="#0d0d0d"/>
<rect x="115.3" y="285.6" width="1.3" height="1.3" fill="#0d0d0d"/>
<rect x="118.9" y="281.8" width="1.3" height="1.3" fill="#0d0d0d"/>
<rect x="118.3" y="282.6" width="1.3" height="1.3" fill="#0d0d0d"/>
<rect x="125.0" y="283.5" width="1.3" height="1.3" fill="#0d0d0d"/>
<rect x="163.7" y="282.3" width="1.3" height="1.3" fill="#0d0d0d"/>
<rect x="140.4" y="276.9" width="1.3" height="1.3" fill="#0d0d0d"/>
<rect x="129.6" y="285.4" width="1.3" height="1.3" fill="#0d0d0d"/>
<rect x="131.5" y="284.1" width="1.3" height="1.3" fill="#0d0d0d"/>
<rect x="133.3" y="278.2" width="1.3" height="1.3" fill="#0d0d0d"/>
<rect x="137.7" y="279.1" width="1.3" height="1.3" fill="#0d0d0d"/>
<rect x="150.1" y="280.4" width="1.3" height="1.3" fill="#0d0d0d"/>
<rect x="138.9" y="282.6" width="1.3" height="1.3" fill="#0d0d0d"/>
<rect x="141.4" y="280.0" width="1.3" height="1.3" fill="#0d0d0d"/>
<rect x="141.8" y="282.0" width="1.3" height="1.3" fill="#0d0d0d"/>
<rect x="144.4" y="285.2" width="1.3" height="1.3" fill="#0d0d0d"/>
<rect x="133.7" y="279.2" width="1.3" height="1.3" fill="#0d0d0d"/>
<rect x="139.6" y="284.6" width="1.3" height="1.3" fill="#0d0d0d"/>
<rect x="147.9" y="280.9" width="1.3" height="1.3" fill="#0d0d0d"/>
<rect x="137.6" y="284.7" width="1.3" height="1.3" fill="#0d0d0d"/>
<rect x="135.0" y="283.4" width="1.3" height="1.3" fill="#0d0d0d"/>
<rect x="134.1" y="280.0" width="1.3" height="1.3" fill="#0d0d0d"/>
<rect x="122.7" y="280.8" width="1.3" height="1.3" fill="#0d0d0d"/>
<rect x="138.0" y="289.0" width="1.3" height="1.3" fill="#0d0d0d"/>
<rect x="141.6" y="287.1" width="1.3" height="1.3" fill="#0d0d0d"/>
<rect x="139.7" y="285.6" width="1.3" height="1.3" fill="#0d0d0d"/>
<rect x="134.1" y="285.9" width="1.3" height="1.3" fill="#0d0d0d"/>
<rect x="149.2" y="281.1" width="1.3" height="1.3" fill="#0d0d0d"/>
<rect x="125.8" y="291.0" width="1.3" height="1.3" fill="#0d0d0d"/>
<rect x="134.7" y="286.7" width="1.3" height="1.3" fill="#0d0d0d"/>
<rect x="140.7" y="277.7" width="1.3" height="1.3" fill="#0d0d0d"/>
<rect x="155.5" y="290.2" width="1.3" height="1.3" fill="#0d0d0d"/>
<rect x="134.0" y="285.8" width="1.3" height="1.3" fill="#0d0d0d"/>
<rect x="133.6" y="278.7" width="1.3" height="1.3" fill="#0d0d0d"/>
<rect x="131.3" y="284.2" width="1.3" height="1.3" fill="#0d0d0d"/>
<rect x="143.0" y="285.6" width="1.3" height="1.3" fill="#0d0d0d"/>
<rect x="132.9" y="288.4" width="1.3" height="1.3" fill="#0d0d0d"/>
<rect x="125.1" y="286.0" width="1.3" height="1.3" fill="#0d0d0d"/>
<rect x="142.9" y="281.3" width="1.3" height="1.3" fill="#0d0d0d"/>
<rect x="115.3" y="278.7" width="1.3" height="1.3" fill="#0d0d0d"/>
<rect x="134.6" y="284.8" width="1.3" height="1.3" fill="#0d0d0d"/>
<rect x="147.1" y="278.2" width="1.3" height="1.3" fill="#0d0d0d"/>
<rect x="132.4" y="285.3" width="1.3" height="1.3" fill="#0d0d0d"/>
<rect x="140.0" y="292.5" width="1.3" height="1.3" fill="#0d0d0d"/>
<rect x="141.9" y="278.6" width="1.3" height="1.3" fill="#0d0d0d"/>
<rect x="128.4" y="283.5" width="1.3" height="1.3" fill="#0d0d0d"/>
<rect x="156.0" y="285.2" width="1.3" height="1.3" fill="#0d0d0d"/>
<rect x="133.4" y="289.2" width="1.3" height="1.3" fill="#0d0d0d"/>
<rect x="131.6" y="290.6" width="1.3" height="1.3" fill="#0d0d0d"/>
<rect x="125.8" y="280.5" width="1.3" height="1.3" fill="#0d0d0d"/>
<rect x="139.2" y="288.7" width="1.3" height="1.3" fill="#0d0d0d"/>
<rect x="138.6" y="283.8" width="1.3" height="1.3" fill="#0d0d0d"/>
<rect x="115.0" y="279.5" width="1.3" height="1.3" fill="#0d0d0d"/>
<rect x="126.5" y="280.3" width="1.3" height="1.3" fill="#0d0d0d"/>
<rect x="137.9" y="281.1" width="1.3" height="1.3" fill="#0d0d0d"/>
<rect x="139.8" y="282.9" width="1.3" height="1.3" fill="#0d0d0d"/>
<rect x="129.2" y="283.1" width="1.3" height="1.3" fill="#0d0d0d"/>
<rect x="136.4" y="286.2" width="1.3" height="1.3" fill="#0d0d0d"/>
<rect x="127.8" y="281.5" width="1.3" height="1.3" fill="#0d0d0d"/>
<rect x="119.4" y="289.4" width="1.3" height="1.3" fill="#0d0d0d"/>
<rect x="146.1" y="281.8" width="1.3" height="1.3" fill="#0d0d0d"/>
<rect x="127.8" y="277.2" width="1.3" height="1.3" fill="#0d0d0d"/>
<rect x="134.0" y="283.4" width="1.3" height="1.3" fill="#0d0d0d"/>
<rect x="153.1" y="283.6" width="1.3" height="1.3" fill="#0d0d0d"/>
<rect x="145.7" y="283.4" width="1.3" height="1.3" fill="#0d0d0d"/>
<rect x="117.1" y="283.3" width="1.3" height="1.3" fill="#0d0d0d"/>
<rect x="117.1" y="297.5" width="1.3" height="1.3" fill="#0d0d0d"/>
<rect x="143.0" y="285.0" width="1.3" height="1.3" fill="#0d0d0d"/>
<rect x="131.1" y="275.9" width="1.3" height="1.3" fill="#0d0d0d"/>
<rect x="123.7" y="287.8" width="1.3" height="1.3" fill="#0d0d0d"/>
<rect x="148.0" y="277.5" width="1.3" height="1.3" fill="#0d0d0d"/>
<rect x="117.8" y="286.3" width="1.3" height="1.3" fill="#0d0d0d"/>
<rect x="140.5" y="278.3" width="1.3" height="1.3" fill="#0d0d0d"/>
<rect x="125.8" y="279.6" width="1.3" height="1.3" fill="#0d0d0d"/>
<rect x="121.1" y="279.6" width="1.3" height="1.3" fill="#0d0d0d"/>
<rect x="144.2" y="285.5" width="1.3" height="1.3" fill="#0d0d0d"/>
<rect x="151.9" y="282.2" width="1.3" height="1.3" fill="#0d0d0d"/>
<rect x="131.1" y="278.3" width="1.3" height="1.3" fill="#0d0d0d"/>
<rect x="131.2" y="276.9" width="1.3" height="1.3" fill="#0d0d0d"/>
<rect x="115.5" y="285.5" width="1.3" height="1.3" fill="#0d0d0d"/>
<rect x="146.0" y="286.1" width="1.3" height="1.3" fill="#0d0d0d"/>
<rect x="145.0" y="283.6" width="1.3" height="1.3" fill="#0d0d0d"/>
<rect x="125.5" y="282.9" width="1.3" height="1.3" fill="#0d0d0d"/>
<rect x="128.8" y="277.8" width="1.3" height="1.3" fill="#0d0d0d"/>
<rect x="116.3" y="276.2" width="1.3" height="1.3" fill="#0d0d0d"/>
<rect x="132.3" y="283.2" width="1.3" height="1.3" fill="#0d0d0d"/>
<rect x="127.8" y="288.7" width="1.3" height="1.3" fill="#0d0d0d"/>
<rect x="134.1" y="285.1" width="1.3" height="1.3" fill="#0d0d0d"/>
<rect x="143.9" y="279.0" width="1.3" height="1.3" fill="#0d0d0d"/>
<rect x="113.6" y="285.8" width="1.3" height="1.3" fill="#0d0d0d"/>
<rect x="125.8" y="288.2" width="1.3" height="1.3" fill="#0d0d0d"/>
<rect x="135.6" y="286.9" width="1.3" height="1.3" fill="#0d0d0d"/>
<rect x="139.2" y="279.7" width="1.3" height="1.3" fill="#0d0d0d"/>
<rect x="125.2" y="280.7" width="1.3" height="1.3" fill="#0d0d0d"/>
<rect x="139.6" y="286.4" width="1.3" height="1.3" fill="#0d0d0d"/>
<rect x="142.0" y="275.4" width="1.3" height="1.3" fill="#0d0d0d"/>
<rect x="131.4" y="285.1" width="1.3" height="1.3" fill="#0d0d0d"/>
<rect x="125.1" y="283.6" width="1.3" height="1.3" fill="#0d0d0d"/>
<rect x="134.5" y="286.9" width="1.3" height="1.3" fill="#0d0d0d"/>
<rect x="124.5" y="279.0" width="1.3" height="1.3" fill="#0d0d0d"/>
<rect x="125.1" y="290.1" width="1.3" height="1.3" fill="#0d0d0d"/>
<rect x="142.7" y="282.0" width="1.3" height="1.3" fill="#0d0d0d"/>
<rect x="134.5" y="283.0" width="1.3" height="1.3" fill="#0d0d0d"/>
<rect x="134.3" y="281.7" width="1.3" height="1.3" fill="#0d0d0d"/>
<rect x="129.2" y="277.1" width="1.3" height="1.3" fill="#0d0d0d"/>
<rect x="126.3" y="289.6" width="1.3" height="1.3" fill="#0d0d0d"/>
<rect x="137.4" y="282.8" width="1.3" height="1.3" fill="#0d0d0d"/>
<rect x="130.3" y="282.8" width="1.3" height="1.3" fill="#0d0d0d"/>
<rect x="135.7" y="279.8" width="1.3" height="1.3" fill="#0d0d0d"/>
<rect x="134.2" y="283.6" width="1.3" height="1.3" fill="#0d0d0d"/>
<rect x="125.2" y="279.2" width="1.3" height="1.3" fill="#0d0d0d"/>
<rect x="122.9" y="278.0" width="1.3" height="1.3" fill="#0d0d0d"/>
<rect x="140.8" y="272.4" width="1.3" height="1.3" fill="#0d0d0d"/>
<rect x="129.8" y="279.9" width="1.3" height="1.3" fill="#0d0d0d"/>
<rect x="126.5" y="283.0" width="1.3" height="1.3" fill="#0d0d0d"/>
<rect x="143.1" y="282.9" width="1.3" height="1.3" fill="#0d0d0d"/>
<rect x="131.0" y="279.9" width="1.3" height="1.3" fill="#0d0d0d"/>
<rect x="131.1" y="286.5" width="1.3" height="1.3" fill="#0d0d0d"/>
<rect x="128.6" y="277.6" width="1.3" height="1.3" fill="#0d0d0d"/>
<rect x="120.3" y="277.8" width="1.3" height="1.3" fill="#0d0d0d"/>
<rect x="119.1" y="287.3" width="1.3" height="1.3" fill="#0d0d0d"/>
<rect x="135.7" y="281.5" width="1.3" height="1.3" fill="#0d0d0d"/>
<rect x="146.2" y="279.7" width="1.3" height="1.3" fill="#0d0d0d"/>
<rect x="139.5" y="286.0" width="1.3" height="1.3" fill="#0d0d0d"/>
<rect x="117.7" y="275.9" width="1.3" height="1.3" fill="#0d0d0d"/>
<rect x="123.5" y="286.4" width="1.3" height="1.3" fill="#0d0d0d"/>
<rect x="144.7" y="277.3" width="1.3" height="1.3" fill="#0d0d0d"/>
<rect x="142.3" y="280.9" width="1.3" height="1.3" fill="#0d0d0d"/>
<rect x="128.6" y="280.2" width="1.3" height="1.3" fill="#0d0d0d"/>
<rect x="122.8" y="277.2" width="1.3" height="1.3" fill="#0d0d0d"/>
<rect x="137.0" y="291.5" width="1.3" height="1.3" fill="#0d0d0d"/>
<rect x="158.3" y="281.1" width="1.3" height="1.3" fill="#0d0d0d"/>
<rect x="116.0" y="280.8" width="1.3" height="1.3" fill="#0d0d0d"/>
<rect x="123.4" y="291.1" width="1.3" height="1.3" fill="#0d0d0d"/>
<rect x="137.8" y="279.4" width="1.3" height="1.3" fill="#0d0d0d"/>
<rect x="141.2" y="284.9" width="1.3" height="1.3" fill="#0d0d0d"/>
<rect x="116.9" y="280.3" width="1.3" height="1.3" fill="#0d0d0d"/>
<rect x="130.1" y="282.6" width="1.3" height="1.3" fill="#0d0d0d"/>
<rect x="133.6" y="281.1" width="1.3" height="1.3" fill="#0d0d0d"/>
<rect x="134.2" y="280.0" width="1.3" height="1.3" fill="#0d0d0d"/>
<rect x="123.8" y="289.1" width="1.3" height="1.3" fill="#0d0d0d"/>
<rect x="135.8" y="284.4" width="1.3" height="1.3" fill="#0d0d0d"/>
<rect x="117.2" y="281.8" width="1.3" height="1.3" fill="#0d0d0d"/>
<rect x="140.1" y="277.0" width="1.3" height="1.3" fill="#0d0d0d"/>
<rect x="142.8" y="280.9" width="1.3" height="1.3" fill="#0d0d0d"/>
<rect x="136.2" y="282.0" width="1.3" height="1.3" fill="#0d0d0d"/>
<rect x="134.4" y="287.7" width="1.3" height="1.3" fill="#0d0d0d"/>
<rect x="128.5" y="289.3" width="1.3" height="1.3" fill="#0d0d0d"/>
<rect x="124.9" y="278.5" width="1.3" height="1.3" fill="#0d0d0d"/>
<rect x="139.1" y="278.0" width="1.3" height="1.3" fill="#0d0d0d"/>
<rect x="128.8" y="286.5" width="1.3" height="1.3" fill="#0d0d0d"/>
<rect x="143.8" y="274.9" width="1.3" height="1.3" fill="#0d0d0d"/>
<rect x="137.2" y="290.7" width="1.3" height="1.3" fill="#0d0d0d"/>
<rect x="143.7" y="281.5" width="1.3" height="1.3" fill="#0d0d0d"/>
<rect x="126.6" y="281.3" width="1.3" height="1.3" fill="#0d0d0d"/>
<rect x="121.4" y="281.4" width="1.3" height="1.3" fill="#0d0d0d"/>
<rect x="130.6" y="281.9" width="1.3" height="1.3" fill="#0d0d0d"/>
<rect x="143.6" y="281.6" width="1.3" height="1.3" fill="#0d0d0d"/>
<rect x="118.5" y="287.1" width="1.3" height="1.3" fill="#0d0d0d"/>
<rect x="122.2" y="280.6" width="1.3" height="1.3" fill="#0d0d0d"/>
<rect x="131.1" y="281.1" width="1.3" height="1.3" fill="#0d0d0d"/>
<rect x="122.8" y="281.5" width="1.3" height="1.3" fill="#0d0d0d"/>
<rect x="153.1" y="279.9" width="1.3" height="1.3" fill="#0d0d0d"/>
<rect x="131.1" y="287.4" width="1.3" height="1.3" fill="#0d0d0d"/>
<rect x="139.4" y="285.8" width="1.3" height="1.3" fill="#0d0d0d"/>
<rect x="140.5" y="274.1" width="1.3" height="1.3" fill="#0d0d0d"/>
<rect x="124.1" y="283.1" width="1.3" height="1.3" fill="#0d0d0d"/>
<rect x="137.1" y="288.1" width="1.3" height="1.3" fill="#0d0d0d"/>
<rect x="136.8" y="281.5" width="1.3" height="1.3" fill="#0d0d0d"/>
<rect x="132.7" y="281.6" width="1.3" height="1.3" fill="#0d0d0d"/>
<rect x="134.7" y="285.4" width="1.3" height="1.3" fill="#0d0d0d"/>
<rect x="129.1" y="279.1" width="1.3" height="1.3" fill="#0d0d0d"/>
<rect x="124.2" y="287.3" width="1.3" height="1.3" fill="#0d0d0d"/>
<rect x="144.5" y="286.8" width="1.3" height="1.3" fill="#0d0d0d"/>
<rect x="140.5" y="286.1" width="1.3" height="1.3" fill="#0d0d0d"/>
<rect x="132.3" y="285.4" width="1.3" height="1.3" fill="#0d0d0d"/>
<rect x="122.4" y="281.7" width="1.3" height="1.3" fill="#0d0d0d"/>
<rect x="125.4" y="285.7" width="1.3" height="1.3" fill="#0d0d0d"/>
<rect x="126.8" y="282.1" width="1.3" height="1.3" fill="#0d0d0d"/>
<rect x="136.2" y="288.4" width="1.3" height="1.3" fill="#0d0d0d"/>
<rect x="124.8" y="278.5" width="1.3" height="1.3" fill="#0d0d0d"/>
<rect x="140.1" y="277.8" width="1.3" height="1.3" fill="#0d0d0d"/>
<rect x="136.6" y="280.1" width="1.3" height="1.3" fill="#0d0d0d"/>
<rect x="139.1" y="280.4" width="1.3" height="1.3" fill="#0d0d0d"/>
<rect x="123.8" y="291.5" width="1.3" height="1.3" fill="#0d0d0d"/>
<rect x="139.1" y="297.6" width="1.3" height="1.3" fill="#0d0d0d"/>
<rect x="136.2" y="281.1" width="1.3" height="1.3" fill="#0d0d0d"/>
<rect x="133.4" y="289.5" width="1.3" height="1.3" fill="#0d0d0d"/>
<rect x="132.1" y="284.5" width="1.3" height="1.3" fill="#0d0d0d"/>
<rect x="137.3" y="278.6" width="1.3" height="1.3" fill="#0d0d0d"/>
<rect x="133.6" y="280.4" width="1.3" height="1.3" fill="#0d0d0d"/>
<rect x="120.5" y="286.3" width="1.3" height="1.3" fill="#0d0d0d"/>
<rect x="138.7" y="282.9" width="1.3" height="1.3" fill="#0d0d0d"/>
<rect x="137.0" y="282.1" width="1.3" height="1.3" fill="#0d0d0d"/>
<rect x="116.4" y="282.3" width="1.3" height="1.3" fill="#0d0d0d"/>
<rect x="117.9" y="282.4" width="1.3" height="1.3" fill="#0d0d0d"/>
<rect x="133.7" y="284.1" width="1.3" height="1.3" fill="#0d0d0d"/>
<rect x="134.4" y="283.3" width="1.3" height="1.3" fill="#0d0d0d"/>
<rect x="121.5" y="280.9" width="1.3" height="1.3" fill="#0d0d0d"/>
<rect x="127.5" y="281.5" width="1.3" height="1.3" fill="#0d0d0d"/>
<rect x="134.9" y="285.2" width="1.3" height="1.3" fill="#0d0d0d"/>
<rect x="147.9" y="271.5" width="1.3" height="1.3" fill="#0d0d0d"/>
<rect x="136.2" y="281.7" width="1.3" height="1.3" fill="#0d0d0d"/>
<rect x="154.0" y="286.6" width="1.3" height="1.3" fill="#0d0d0d"/>
<rect x="116.6" y="284.3" width="1.3" height="1.3" fill="#0d0d0d"/>
<rect x="127.4" y="286.8" width="1.3" height="1.3" fill="#0d0d0d"/>
<rect x="122.3" y="282.1" width="1.3" height="1.3" fill="#0d0d0d"/>
<rect x="131.1" y="282.1" width="1.3" height="1.3" fill="#0d0d0d"/>
<rect x="136.7" y="286.8" width="1.3" height="1.3" fill="#0d0d0d"/>
<rect x="131.7" y="278.2" width="1.3" height="1.3" fill="#0d0d0d"/>
<rect x="134.3" y="285.0" width="1.3" height="1.3" fill="#0d0d0d"/>
<rect x="130.7" y="282.5" width="1.3" height="1.3" fill="#0d0d0d"/>
<rect x="145.7" y="277.7" width="1.3" height="1.3" fill="#0d0d0d"/>
<rect x="125.7" y="279.4" width="1.3" height="1.3" fill="#0d0d0d"/>
<rect x="123.2" y="279.6" width="1.3" height="1.3" fill="#0d0d0d"/>
<rect x="149.4" y="281.7" width="1.3" height="1.3" fill="#0d0d0d"/>
<rect x="131.3" y="292.0" width="1.3" height="1.3" fill="#0d0d0d"/>
<rect x="136.2" y="278.5" width="1.3" height="1.3" fill="#0d0d0d"/>
<rect x="147.9" y="277.2" width="1.3" height="1.3" fill="#0d0d0d"/>
<rect x="126.8" y="275.6" width="1.3" height="1.3" fill="#0d0d0d"/>
<rect x="133.3" y="278.2" width="1.3" height="1.3" fill="#0d0d0d"/>
<rect x="131.7" y="280.9" width="1.3" height="1.3" fill="#0d0d0d"/>
<rect x="126.5" y="286.6" width="1.3" height="1.3" fill="#0d0d0d"/>
<rect x="141.2" y="282.8" width="1.3" height="1.3" fill="#0d0d0d"/>
<rect x="123.8" y="277.9" width="1.3" height="1.3" fill="#0d0d0d"/>
<rect x="134.9" y="292.8" width="1.3" height="1.3" fill="#0d0d0d"/>
<rect x="128.0" y="279.2" width="1.3" height="1.3" fill="#0d0d0d"/>
<rect x="125.7" y="277.8" width="1.3" height="1.3" fill="#0d0d0d"/>
<rect x="123.1" y="281.7" width="1.3" height="1.3" fill="#0d0d0d"/>
<rect x="146.0" y="282.5" width="1.3" height="1.3" fill="#0d0d0d"/>
<rect x="127.5" y="275.6" width="1.3" height="1.3" fill="#0d0d0d"/>
<rect x="134.4" y="282.4" width="1.3" height="1.3" fill="#0d0d0d"/>
<rect x="120.7" y="277.9" width="1.3" height="1.3" fill="#0d0d0d"/>
<rect x="131.9" y="286.9" width="1.3" height="1.3" fill="#0d0d0d"/>
<rect x="138.3" y="283.4" width="1.3" height="1.3" fill="#0d0d0d"/>
<rect x="129.3" y="283.9" width="1.3" height="1.3" fill="#0d0d0d"/>
<rect x="132.2" y="291.9" width="1.3" height="1.3" fill="#0d0d0d"/>
<rect x="121.6" y="281.0" width="1.3" height="1.3" fill="#0d0d0d"/>
<rect x="144.4" y="281.4" width="1.3" height="1.3" fill="#0d0d0d"/>
<rect x="145.9" y="282.4" width="1.3" height="1.3" fill="#0d0d0d"/>
<rect x="133.7" y="281.0" width="1.3" height="1.3" fill="#0d0d0d"/>
<rect x="119.2" y="278.4" width="1.3" height="1.3" fill="#0d0d0d"/>
<rect x="153.4" y="285.3" width="1.3" height="1.3" fill="#0d0d0d"/>
<rect x="138.1" y="286.7" width="1.3" height="1.3" fill="#0d0d0d"/>
<rect x="137.8" y="286.9" width="1.3" height="1.3" fill="#0d0d0d"/>
<rect x="129.8" y="281.6" width="1.3" height="1.3" fill="#0d0d0d"/>
<rect x="141.7" y="281.0" width="1.3" height="1.3" fill="#0d0d0d"/>
<rect x="119.7" y="281.6" width="1.3" height="1.3" fill="#0d0d0d"/>
<rect x="127.2" y="285.2" width="1.3" height="1.3" fill="#0d0d0d"/>
<rect x="125.5" y="278.0" width="1.3" height="1.3" fill="#0d0d0d"/>
<rect x="129.2" y="289.2" width="1.3" height="1.3" fill="#0d0d0d"/>
<rect x="131.9" y="283.2" width="1.3" height="1.3" fill="#0d0d0d"/>
<rect x="132.4" y="283.8" width="1.3" height="1.3" fill="#0d0d0d"/>
<rect x="141.2" y="288.6" width="1.3" height="1.3" fill="#0d0d0d"/>
<rect x="116.7" y="288.4" width="1.3" height="1.3" fill="#0d0d0d"/>
<rect x="132.3" y="281.2" width="1.3" height="1.3" fill="#0d0d0d"/>
<rect x="155.1" y="281.8" width="1.3" height="1.3" fill="#0d0d0d"/>
<rect x="150.8" y="286.7" width="1.3" height="1.3" fill="#0d0d0d"/>
<rect x="122.6" y="284.6" width="1.3" height="1.3" fill="#0d0d0d"/>
<rect x="139.3" y="282.0" width="1.3" height="1.3" fill="#0d0d0d"/>
<rect x="110.2" y="281.1" width="1.3" height="1.3" fill="#0d0d0d"/>
<rect x="130.5" y="277.8" width="1.3" height="1.3" fill="#0d0d0d"/>
<rect x="149.7" y="281.5" width="1.3" height="1.3" fill="#0d0d0d"/>
<rect x="128.6" y="281.3" width="1.3" height="1.3" fill="#0d0d0d"/>
<rect x="124.9" y="279.2" width="1.3" height="1.3" fill="#0d0d0d"/>
<rect x="133.2" y="283.9" width="1.3" height="1.3" fill="#0d0d0d"/>
<rect x="127.5" y="282.2" width="1.3" height="1.3" fill="#0d0d0d"/>
<rect x="119.1" y="284.8" width="1.3" height="1.3" fill="#0d0d0d"/>
<rect x="125.2" y="283.5" width="1.3" height="1.3" fill="#0d0d0d"/>
<rect x="123.7" y="280.3" width="1.3" height="1.3" fill="#0d0d0d"/>
<rect x="134.4" y="277.3" width="1.3" height="1.3" fill="#0d0d0d"/>
<rect x="155.8" y="282.4" width="1.3" height="1.3" fill="#0d0d0d"/>
<rect x="131.7" y="279.4" width="1.3" height="1.3" fill="#0d0d0d"/>
<rect x="147.5" y="288.5" width="1.3" height="1.3" fill="#0d0d0d"/>
<rect x="135.2" y="276.7" width="1.3" height="1.3" fill="#0d0d0d"/>
<rect x="127.6" y="285.2" width="1.3" height="1.3" fill="#0d0d0d"/>
<rect x="127.5" y="277.5" width="1.3" height="1.3" fill="#0d0d0d"/>
<rect x="121.1" y="279.2" width="1.3" height="1.3" fill="#0d0d0d"/>
<rect x="132.5" y="279.8" width="1.3" height="1.3" fill="#0d0d0d"/>
<rect x="132.5" y="294.6" width="1.3" height="1.3" fill="#0d0d0d"/>
<rect x="149.2" y="278.1" width="1.3" height="1.3" fill="#0d0d0d"/>
<rect x="135.6" y="282.9" width="1.3" height="1.3" fill="#0d0d0d"/>
<rect x="131.0" y="287.0" width="1.3" height="1.3" fill="#0d0d0d"/>
<rect x="129.2" y="281.2" width="1.3" height="1.3" fill="#0d0d0d"/>
<rect x="128.8" y="282.1" width="1.3" height="1.3" fill="#0d0d0d"/>
<rect x="144.6" y="285.9" width="1.3" height="1.3" fill="#0d0d0d"/>
<rect x="119.6" y="280.7" width="1.3" height="1.3" fill="#0d0d0d"/>
<rect x="124.8" y="286.1" width="1.3" height="1.3" fill="#0d0d0d"/>
<rect x="134.5" y="286.4" width="1.3" height="1.3" fill="#0d0d0d"/>
<rect x="136.6" y="283.5" width="1.3" height="1.3" fill="#0d0d0d"/>
<rect x="137.2" y="276.9" width="1.3" height="1.3" fill="#0d0d0d"/>
<rect x="133.1" y="279.6" width="1.3" height="1.3" fill="#0d0d0d"/>
<rect x="125.8" y="284.1" width="1.3" height="1.3" fill="#0d0d0d"/>
<rect x="135.7" y="278.7" width="1.3" height="1.3" fill="#0d0d0d"/>
<rect x="116.1" y="271.9" width="1.3" height="1.3" fill="#0d0d0d"/>
<rect x="126.9" y="287.4" width="1.3" height="1.3" fill="#0d0d0d"/>
<rect x="124.2" y="284.4" width="1.3" height="1.3" fill="#0d0d0d"/>
<rect x="148.2" y="287.6" width="1.3" height="1.3" fill="#0d0d0d"/>
<rect x="135.8" y="283.4" width="1.3" height="1.3" fill="#0d0d0d"/>
<rect x="122.3" y="280.6" width="1.3" height="1.3" fill="#0d0d0d"/>
<rect x="129.2" y="279.2" width="1.3" height="1.3" fill="#0d0d0d"/>
<rect x="133.0" y="280.9" width="1.3" height="1.3" fill="#0d0d0d"/>
<rect x="135.6" y="288.7" width="1.3" height="1.3" fill="#0d0d0d"/>
<rect x="139.4" y="284.3" width="1.3" height="1.3" fill="#0d0d0d"/>
<rect x="130.1" y="276.0" width="1.3" height="1.3" fill="#0d0d0d"/>
<rect x="131.3" y="284.9" width="1.3" height="1.3" fill="#0d0d0d"/>
<rect x="122.8" y="287.9" width="1.3" height="1.3" fill="#0d0d0d"/>
<rect x="129.2" y="284.1" width="1.3" height="1.3" fill="#0d0d0d"/>
<rect x="129.2" y="277.2" width="1.3" height="1.3" fill="#0d0d0d"/>
<rect x="152.0" y="277.6" width="1.3" height="1.3" fill="#0d0d0d"/>
<rect x="141.1" y="280.2" width="1.3" height="1.3" fill="#0d0d0d"/>
<rect x="135.0" y="279.1" width="1.3" height="1.3" fill="#0d0d0d"/>
<rect x="128.4" y="286.5" width="1.3" height="1.3" fill="#0d0d0d"/>
<rect x="150.8" y="278.9" width="1.3" height="1.3" fill="#0d0d0d"/>
<rect x="132.4" y="286.6" width="1.3" height="1.3" fill="#0d0d0d"/>
<rect x="126.4" y="285.6" width="1.3" height="1.3" fill="#0d0d0d"/>
<rect x="124.9" y="285.1" width="1.3" height="1.3" fill="#0d0d0d"/>
<rect x="136.5" y="287.8" width="1.3" height="1.3" fill="#0d0d0d"/>
<rect x="135.8" y="277.4" width="1.3" height="1.3" fill="#0d0d0d"/>
<rect x="138.7" y="277.8" width="1.3" height="1.3" fill="#0d0d0d"/>
<rect x="139.5" y="289.0" width="1.3" height="1.3" fill="#0d0d0d"/>
<rect x="138.0" y="280.2" width="1.3" height="1.3" fill="#0d0d0d"/>
<rect x="143.7" y="283.3" width="1.3" height="1.3" fill="#0d0d0d"/>
<rect x="120.5" y="281.0" width="1.3" height="1.3" fill="#0d0d0d"/>
<rect x="145.8" y="281.2" width="1.3" height="1.3" fill="#0d0d0d"/>
<rect x="133.5" y="281.1" width="1.3" height="1.3" fill="#0d0d0d"/>
<rect x="116.3" y="280.4" width="1.3" height="1.3" fill="#0d0d0d"/>
<rect x="135.7" y="283.4" width="1.3" height="1.3" fill="#0d0d0d"/>
<rect x="144.0" y="285.6" width="1.3" height="1.3" fill="#0d0d0d"/>
<rect x="142.1" y="288.1" width="1.3" height="1.3" fill="#0d0d0d"/>
<rect x="128.1" y="280.0" width="1.3" height="1.3" fill="#0d0d0d"/>
<rect x="135.3" y="289.7" width="1.3" height="1.3" fill="#0d0d0d"/>
<rect x="116.3" y="281.6" width="1.3" height="1.3" fill="#0d0d0d"/>
<rect x="125.6" y="285.0" width="1.3" height="1.3" fill="#0d0d0d"/>
<rect x="146.3" y="281.3" width="1.3" height="1.3" fill="#0d0d0d"/>
<rect x="120.6" y="282.8" width="1.3" height="1.3" fill="#0d0d0d"/>
<rect x="129.6" y="275.9" width="1.3" height="1.3" fill="#0d0d0d"/>
<rect x="140.8" y="280.3" width="1.3" height="1.3" fill="#0d0d0d"/>
<rect x="138.8" y="276.9" width="1.3" height="1.3" fill="#0d0d0d"/>
<rect x="142.8" y="276.4" width="1.3" height="1.3" fill="#0d0d0d"/>
<rect x="142.4" y="274.8" width="1.3" height="1.3" fill="#0d0d0d"/>
<rect x="145.5" y="280.9" width="1.3" height="1.3" fill="#0d0d0d"/>
<rect x="117.6" y="281.5" width="1.3" height="1.3" fill="#0d0d0d"/>
<rect x="135.6" y="278.3" width="1.3" height="1.3" fill="#0d0d0d"/>
<rect x="127.7" y="283.7" width="1.3" height="1.3" fill="#0d0d0d"/>
<rect x="128.3" y="284.4" width="1.3" height="1.3" fill="#0d0d0d"/>
<rect x="135.2" y="286.9" width="1.3" height="1.3" fill="#0d0d0d"/>
<rect x="125.8" y="293.5" width="1.3" height="1.3" fill="#0d0d0d"/>
<rect x="140.0" y="283.9" width="1.3" height="1.3" fill="#0d0d0d"/>
<rect x="142.7" y="286.7" width="1.3" height="1.3" fill="#0d0d0d"/>
<rect x="133.3" y="279.9" width="1.3" height="1.3" fill="#0d0d0d"/>
<rect x="142.1" y="284.4" width="1.3" height="1.3" fill="#0d0d0d"/>
<rect x="114.4" y="277.8" width="1.3" height="1.3" fill="#0d0d0d"/>
<rect x="136.8" y="283.0" width="1.3" height="1.3" fill="#0d0d0d"/>
<rect x="135.0" y="285.3" width="1.3" height="1.3" fill="#0d0d0d"/>
<rect x="133.7" y="289.4" width="1.3" height="1.3" fill="#0d0d0d"/>
<rect x="126.7" y="280.8" width="1.3" height="1.3" fill="#0d0d0d"/>
<rect x="135.4" y="285.8" width="1.3" height="1.3" fill="#0d0d0d"/>
<rect x="139.8" y="288.9" width="1.3" height="1.3" fill="#0d0d0d"/>
<rect x="127.8" y="287.6" width="1.3" height="1.3" fill="#0d0d0d"/>
<rect x="136.8" y="278.1" width="1.3" height="1.3" fill="#0d0d0d"/>
<rect x="131.0" y="291.5" width="1.3" height="1.3" fill="#0d0d0d"/>
<rect x="139.8" y="280.5" width="1.3" height="1.3" fill="#0d0d0d"/>
<rect x="109.6" y="279.4" width="1.3" height="1.3" fill="#0d0d0d"/>
<rect x="125.7" y="282.9" width="1.3" height="1.3" fill="#0d0d0d"/>
<rect x="154.3" y="285.8" width="1.3" height="1.3" fill="#0d0d0d"/>
<rect x="135.3" y="278.5" width="1.3" height="1.3" fill="#0d0d0d"/>
<rect x="121.1" y="281.7" width="1.3" height="1.3" fill="#0d0d0d"/>
<rect x="127.9" y="295.5" width="1.3" height="1.3" fill="#0d0d0d"/>
<rect x="128.5" y="279.9" width="1.3" height="1.3" fill="#0d0d0d"/>
<rect x="143.1" y="282.9" width="1.3" height="1.3" fill="#0d0d0d"/>
<rect x="120.6" y="288.1" width="1.3" height="1.3" fill="#0d0d0d"/>
<rect x="129.4" y="276.8" width="1.3" height="1.3" fill="#0d0d0d"/>
<rect x="135.4" y="284.6" width="1.3" height="1.3" fill="#0d0d0d"/>
<rect x="129.1" y="285.5" width="1.3" height="1.3" fill="#0d0d0d"/>
<rect x="140.1" y="278.8" width="1.3" height="1.3" fill="#0d0d0d"/>
<rect x="112.8" y="272.3" width="1.3" height="1.3" fill="#0d0d0d"/>
<rect x="131.1" y="287.8" width="1.3" height="1.3" fill="#0d0d0d"/>
<rect x="141.9" y="288.5" width="1.3" height="1.3" fill="#0d0d0d"/>
<rect x="150.0" y="282.6" width="1.3" height="1.3" fill="#0d0d0d"/>
<rect x="142.4" y="276.0" width="1.3" height="1.3" fill="#0d0d0d"/>
<rect x="138.9" y="284.2" width="1.3" height="1.3" fill="#0d0d0d"/>
<rect x="131.5" y="280.6" width="1.3" height="1.3" fill="#0d0d0d"/>
<rect x="121.7" y="283.2" width="1.3" height="1.3" fill="#0d0d0d"/>
<rect x="144.5" y="281.0" width="1.3" height="1.3" fill="#0d0d0d"/>
<rect x="137.4" y="279.7" width="1.3" height="1.3" fill="#0d0d0d"/>
<rect x="134.8" y="278.2" width="1.3" height="1.3" fill="#0d0d0d"/>
<rect x="135.9" y="281.6" width="1.3" height="1.3" fill="#0d0d0d"/>
<rect x="135.3" y="279.9" width="1.3" height="1.3" fill="#0d0d0d"/>
<rect x="121.2" y="281.1" width="1.3" height="1.3" fill="#0d0d0d"/>
<rect x="142.2" y="289.3" width="1.3" height="1.3" fill="#0d0d0d"/>
<rect x="129.3" y="286.0" width="1.3" height="1.3" fill="#0d0d0d"/>
<rect x="139.6" y="284.2" width="1.3" height="1.3" fill="#0d0d0d"/>
<rect x="117.6" y="283.9" width="1.3" height="1.3" fill="#0d0d0d"/>
<rect x="123.1" y="287.6" width="1.3" height="1.3" fill="#0d0d0d"/>
<rect x="139.8" y="285.2" width="1.3" height="1.3" fill="#0d0d0d"/>
<rect x="108.3" y="285.2" width="1.3" height="1.3" fill="#0d0d0d"/>
<rect x="139.0" y="277.1" width="1.3" height="1.3" fill="#0d0d0d"/>
<rect x="141.6" y="282.9" width="1.3" height="1.3" fill="#0d0d0d"/>
<rect x="130.6" y="279.5" width="1.3" height="1.3" fill="#0d0d0d"/>
<rect x="122.7" y="280.7" width="1.3" height="1.3" fill="#0d0d0d"/>
<rect x="161.7" y="283.4" width="1.3" height="1.3" fill="#0d0d0d"/>
<rect x="134.3" y="279.8" width="1.3" height="1.3" fill="#0d0d0d"/>
<rect x="126.5" y="280.2" width="1.3" height="1.3" fill="#0d0d0d"/>
<rect x="123.9" y="286.3" width="1.3" height="1.3" fill="#0d0d0d"/>
<rect x="129.8" y="286.3" width="1.3" height="1.3" fill="#0d0d0d"/>
<rect x="121.4" y="286.5" width="1.3" height="1.3" fill="#0d0d0d"/>
<rect x="132.1" y="285.4" width="1.3" height="1.3" fill="#0d0d0d"/>
<rect x="131.4" y="278.7" width="1.3" height="1.3" fill="#0d0d0d"/>
<rect x="143.8" y="280.7" width="1.3" height="1.3" fill="#0d0d0d"/>
<rect x="131.0" y="278.7" width="1.3" height="1.3" fill="#0d0d0d"/>
<rect x="134.3" y="280.9" width="1.3" height="1.3" fill="#0d0d0d"/>
<rect x="135.0" y="284.0" width="1.3" height="1.3" fill="#0d0d0d"/>
<rect x="125.8" y="276.5" width="1.3" height="1.3" fill="#0d0d0d"/>
<rect x="136.5" y="286.5" width="1.3" height="1.3" fill="#0d0d0d"/>
<rect x="139.0" y="277.6" width="1.3" height="1.3" fill="#0d0d0d"/>
<rect x="138.1" y="284.2" width="1.3" height="1.3" fill="#0d0d0d"/>
<rect x="135.0" y="284.4" width="1.3" height="1.3" fill="#0d0d0d"/>
<rect x="129.3" y="283.5" width="1.3" height="1.3" fill="#0d0d0d"/>
<rect x="141.2" y="280.4" width="1.3" height="1.3" fill="#0d0d0d"/>
<rect x="118.7" y="282.1" width="1.3" height="1.3" fill="#0d0d0d"/>
<rect x="125.9" y="285.1" width="1.3" height="1.3" fill="#0d0d0d"/>
<rect x="130.9" y="282.9" width="1.3" height="1.3" fill="#0d0d0d"/>
<rect x="120.4" y="286.4" width="1.3" height="1.3" fill="#0d0d0d"/>
<rect x="149.0" y="281.7" width="1.3" height="1.3" fill="#0d0d0d"/>
<rect x="125.4" y="277.6" width="1.3" height="1.3" fill="#0d0d0d"/>
<rect x="140.8" y="283.0" width="1.3" height="1.3" fill="#0d0d0d"/>
<rect x="124.8" y="287.8" width="1.3" height="1.3" fill="#0d0d0d"/>
<rect x="139.6" y="285.1" width="1.3" height="1.3" fill="#0d0d0d"/>
<rect x="115.6" y="282.1" width="1.3" height="1.3" fill="#0d0d0d"/>
<rect x="138.3" y="277.3" width="1.3" height="1.3" fill="#0d0d0d"/>
<rect x="141.2" y="288.7" width="1.3" height="1.3" fill="#0d0d0d"/>
<rect x="142.2" y="279.4" width="1.3" height="1.3" fill="#0d0d0d"/>
<rect x="125.6" y="286.6" width="1.3" height="1.3" fill="#0d0d0d"/>
<rect x="141.8" y="287.8" width="1.3" height="1.3" fill="#0d0d0d"/>
<rect x="143.8" y="282.1" width="1.3" height="1.3" fill="#0d0d0d"/>
<rect x="139.8" y="292.3" width="1.3" height="1.3" fill="#0d0d0d"/>
<rect x="127.9" y="280.5" width="1.3" height="1.3" fill="#0d0d0d"/>
<rect x="138.5" y="284.2" width="1.3" height="1.3" fill="#0d0d0d"/>
<rect x="119.3" y="279.5" width="1.3" height="1.3" fill="#0d0d0d"/>
<rect x="121.9" y="291.2" width="1.3" height="1.3" fill="#0d0d0d"/>
<rect x="125.5" y="286.2" width="1.3" height="1.3" fill="#0d0d0d"/>
<rect x="150.6" y="290.7" width="1.3" height="1.3" fill="#0d0d0d"/>
<rect x="145.9" y="289.6" width="1.3" height="1.3" fill="#0d0d0d"/>
<rect x="120.6" y="281.1" width="1.3" height="1.3" fill="#0d0d0d"/>
<rect x="125.4" y="281.3" width="1.3" height="1.3" fill="#0d0d0d"/>
<rect x="157.3" y="275.3" width="1.3" height="1.3" fill="#0d0d0d"/>
<rect x="137.7" y="277.2" width="1.3" height="1.3" fill="#0d0d0d"/>
<rect x="145.1" y="288.1" width="1.3" height="1.3" fill="#0d0d0d"/>
<rect x="133.2" y="305.8" width="1.3" height="1.3" fill="#0d0d0d"/>
<rect x="139.1" y="300.8" width="1.3" height="1.3" fill="#0d0d0d"/>
<rect x="141.5" y="288.7" width="1.3" height="1.3" fill="#0d0d0d"/>
<rect x="134.5" y="291.6" width="1.3" height="1.3" fill="#0d0d0d"/>
<rect x="144.5" y="293.2" width="1.3" height="1.3" fill="#0d0d0d"/>
<rect x="162.0" y="291.1" width="1.3" height="1.3" fill="#0d0d0d"/>
<rect x="133.7" y="287.7" width="1.3" height="1.3" fill="#0d0d0d"/>
<rect x="130.6" y="283.0" width="1.3" height="1.3" fill="#0d0d0d"/>
<rect x="128.5" y="298.2" width="1.3" height="1.3" fill="#0d0d0d"/>
<rect x="139.0" y="291.2" width="1.3" height="1.3" fill="#0d0d0d"/>
<rect x="141.9" y="299.3" width="1.3" height="1.3" fill="#0d0d0d"/>
<rect x="144.5" y="297.4" width="1.3" height="1.3" fill="#0d0d0d"/>
<rect x="132.8" y="290.7" width="1.3" height="1.3" fill="#0d0d0d"/>
<rect x="130.6" y="291.7" width="1.3" height="1.3" fill="#0d0d0d"/>
<rect x="130.2" y="289.9" width="1.3" height="1.3" fill="#0d0d0d"/>
<rect x="136.6" y="290.9" width="1.3" height="1.3" fill="#0d0d0d"/>
<rect x="135.7" y="289.2" width="1.3" height="1.3" fill="#0d0d0d"/>
<rect x="151.4" y="290.1" width="1.3" height="1.3" fill="#0d0d0d"/>
<rect x="128.2" y="293.6" width="1.3" height="1.3" fill="#0d0d0d"/>
<rect x="127.5" y="285.4" width="1.3" height="1.3" fill="#0d0d0d"/>
<rect x="139.2" y="281.5" width="1.3" height="1.3" fill="#0d0d0d"/>
<rect x="106.2" y="294.2" width="1.3" height="1.3" fill="#0d0d0d"/>
<rect x="148.7" y="281.5" width="1.3" height="1.3" fill="#0d0d0d"/>
<rect x="129.4" y="296.1" width="1.3" height="1.3" fill="#0d0d0d"/>
<rect x="118.5" y="286.7" width="1.3" height="1.3" fill="#0d0d0d"/>
<rect x="126.3" y="291.1" width="1.3" height="1.3" fill="#0d0d0d"/>
<rect x="118.6" y="298.2" width="1.3" height="1.3" fill="#0d0d0d"/>
<rect x="136.9" y="294.3" width="1.3" height="1.3" fill="#0d0d0d"/>
<rect x="135.1" y="278.6" width="1.3" height="1.3" fill="#0d0d0d"/>
<rect x="136.8" y="283.6" width="1.3" height="1.3" fill="#0d0d0d"/>
<rect x="138.5" y="286.8" width="1.3" height="1.3" fill="#0d0d0d"/>
<rect x="135.2" y="291.0" width="1.3" height="1.3" fill="#0d0d0d"/>
<rect x="146.1" y="297.3" width="1.3" height="1.3" fill="#0d0d0d"/>
<rect x="128.3" y="292.2" width="1.3" height="1.3" fill="#0d0d0d"/>
<rect x="152.9" y="295.6" width="1.3" height="1.3" fill="#0d0d0d"/>
<rect x="131.1" y="291.6" width="1.3" height="1.3" fill="#0d0d0d"/>
<rect x="134.9" y="298.5" width="1.3" height="1.3" fill="#0d0d0d"/>
<rect x="138.7" y="294.8" width="1.3" height="1.3" fill="#0d0d0d"/>
<rect x="160.5" y="283.4" width="1.3" height="1.3" fill="#0d0d0d"/>
<rect x="128.2" y="281.1" width="1.3" height="1.3" fill="#0d0d0d"/>
<rect x="122.4" y="297.9" width="1.3" height="1.3" fill="#0d0d0d"/>
<rect x="141.3" y="303.0" width="1.3" height="1.3" fill="#0d0d0d"/>
<rect x="118.6" y="286.6" width="1.3" height="1.3" fill="#0d0d0d"/>
<rect x="152.8" y="299.0" width="1.3" height="1.3" fill="#0d0d0d"/>
<rect x="147.2" y="298.0" width="1.3" height="1.3" fill="#0d0d0d"/>
<rect x="138.7" y="292.3" width="1.3" height="1.3" fill="#0d0d0d"/>
<rect x="138.7" y="297.8" width="1.3" height="1.3" fill="#0d0d0d"/>
<rect x="136.7" y="294.4" width="1.3" height="1.3" fill="#0d0d0d"/>
<rect x="152.9" y="285.0" width="1.3" height="1.3" fill="#0d0d0d"/>
<rect x="130.8" y="296.0" width="1.3" height="1.3" fill="#0d0d0d"/>
<rect x="135.7" y="291.3" width="1.3" height="1.3" fill="#0d0d0d"/>
<rect x="159.3" y="295.1" width="1.3" height="1.3" fill="#0d0d0d"/>
<rect x="134.2" y="299.5" width="1.3" height="1.3" fill="#0d0d0d"/>
<rect x="163.5" y="285.1" width="1.3" height="1.3" fill="#0d0d0d"/>
<rect x="131.6" y="293.1" width="1.3" height="1.3" fill="#0d0d0d"/>
<rect x="132.0" y="306.5" width="1.3" height="1.3" fill="#0d0d0d"/>
<rect x="143.6" y="289.8" width="1.3" height="1.3" fill="#0d0d0d"/>
<rect x="143.3" y="287.2" width="1.3" height="1.3" fill="#0d0d0d"/>
<rect x="132.3" y="293.0" width="1.3" height="1.3" fill="#0d0d0d"/>
<rect x="162.2" y="277.7" width="1.3" height="1.3" fill="#0d0d0d"/>
<rect x="142.6" y="301.1" width="1.3" height="1.3" fill="#0d0d0d"/>
<rect x="145.8" y="304.8" width="1.3" height="1.3" fill="#0d0d0d"/>
<rect x="142.9" y="293.3" width="1.3" height="1.3" fill="#0d0d0d"/>
<rect x="137.0" y="286.8" width="1.3" height="1.3" fill="#0d0d0d"/>
<rect x="154.7" y="284.7" width="1.3" height="1.3" fill="#0d0d0d"/>
<rect x="137.1" y="288.9" width="1.3" height="1.3" fill="#0d0d0d"/>
<rect x="130.5" y="277.9" width="1.3" height="1.3" fill="#0d0d0d"/>
<rect x="134.5" y="293.2" width="1.3" height="1.3" fill="#0d0d0d"/>
<rect x="139.8" y="297.8" width="1.3" height="1.3" fill="#0d0d0d"/>
<rect x="136.7" y="288.2" width="1.3" height="1.3" fill="#0d0d0d"/>
<rect x="141.4" y="296.7" width="1.3" height="1.3" fill="#0d0d0d"/>
<rect x="129.3" y="282.5" width="1.3" height="1.3" fill="#0d0d0d"/>
<rect x="128.1" y="299.2" width="1.3" height="1.3" fill="#0d0d0d"/>
<rect x="148.3" y="286.6" width="1.3" height="1.3" fill="#0d0d0d"/>
<rect x="139.5" y="297.8" width="1.3" height="1.3" fill="#0d0d0d"/>
<rect x="151.6" y="288.1" width="1.3" height="1.3" fill="#0d0d0d"/>
<rect x="136.0" y="301.5" width="1.3" height="1.3" fill="#0d0d0d"/>
<rect x="162.5" y="302.3" width="1.3" height="1.3" fill="#0d0d0d"/>
<rect x="126.9" y="295.3" width="1.3" height="1.3" fill="#0d0d0d"/>
<rect x="135.4" y="292.0" width="1.3" height="1.3" fill="#0d0d0d"/>
<rect x="131.7" y="289.2" width="1.3" height="1.3" fill="#0d0d0d"/>
<rect x="138.2" y="304.1" width="1.3" height="1.3" fill="#0d0d0d"/>
<rect x="145.3" y="295.1" width="1.3" height="1.3" fill="#0d0d0d"/>
<rect x="138.6" y="287.5" width="1.3" height="1.3" fill="#0d0d0d"/>
<rect x="136.1" y="300.4" width="1.3" height="1.3" fill="#0d0d0d"/>
<rect x="146.7" y="305.1" width="1.3" height="1.3" fill="#0d0d0d"/>
<rect x="141.0" y="292.2" width="1.3" height="1.3" fill="#0d0d0d"/>
<rect x="122.2" y="294.9" width="1.3" height="1.3" fill="#0d0d0d"/>
<rect x="121.1" y="302.3" width="1.3" height="1.3" fill="#0d0d0d"/>
<rect x="132.1" y="292.4" width="1.3" height="1.3" fill="#0d0d0d"/>
<rect x="124.8" y="289.1" width="1.3" height="1.3" fill="#0d0d0d"/>
<rect x="129.0" y="299.7" width="1.3" height="1.3" fill="#0d0d0d"/>
<rect x="140.8" y="284.7" width="1.3" height="1.3" fill="#0d0d0d"/>
<rect x="119.0" y="291.9" width="1.3" height="1.3" fill="#0d0d0d"/>
<rect x="133.5" y="285.1" width="1.3" height="1.3" fill="#0d0d0d"/>
<rect x="144.2" y="291.1" width="1.3" height="1.3" fill="#0d0d0d"/>
<rect x="139.5" y="288.5" width="1.3" height="1.3" fill="#0d0d0d"/>
<rect x="132.6" y="289.4" width="1.3" height="1.3" fill="#0d0d0d"/>
<rect x="122.3" y="296.4" width="1.3" height="1.3" fill="#0d0d0d"/>
<rect x="142.4" y="281.1" width="1.3" height="1.3" fill="#0d0d0d"/>
<rect x="139.4" y="299.9" width="1.3" height="1.3" fill="#0d0d0d"/>
<rect x="140.7" y="300.8" width="1.3" height="1.3" fill="#0d0d0d"/>
<rect x="135.7" y="292.4" width="1.3" height="1.3" fill="#0d0d0d"/>
<rect x="125.4" y="286.5" width="1.3" height="1.3" fill="#0d0d0d"/>
<rect x="120.1" y="286.5" width="1.3" height="1.3" fill="#0d0d0d"/>
<rect x="140.8" y="295.7" width="1.3" height="1.3" fill="#0d0d0d"/>
<rect x="150.0" y="293.2" width="1.3" height="1.3" fill="#0d0d0d"/>
<rect x="128.5" y="295.2" width="1.3" height="1.3" fill="#0d0d0d"/>
<rect x="136.9" y="303.9" width="1.3" height="1.3" fill="#0d0d0d"/>
<rect x="157.9" y="298.6" width="1.3" height="1.3" fill="#0d0d0d"/>
<rect x="127.0" y="288.9" width="1.3" height="1.3" fill="#0d0d0d"/>
<rect x="140.3" y="287.7" width="1.3" height="1.3" fill="#0d0d0d"/>
<rect x="143.6" y="296.8" width="1.3" height="1.3" fill="#0d0d0d"/>
<rect x="146.7" y="293.8" width="1.3" height="1.3" fill="#0d0d0d"/>
<rect x="129.5" y="286.9" width="1.3" height="1.3" fill="#0d0d0d"/>
<rect x="137.1" y="301.0" width="1.3" height="1.3" fill="#0d0d0d"/>
<rect x="154.1" y="298.7" width="1.3" height="1.3" fill="#0d0d0d"/>
<rect x="142.0" y="296.7" width="1.3" height="1.3" fill="#0d0d0d"/>
<rect x="146.6" y="300.8" width="1.3" height="1.3" fill="#0d0d0d"/>
<rect x="146.9" y="282.4" width="1.3" height="1.3" fill="#0d0d0d"/>
<rect x="147.9" y="294.9" width="1.3" height="1.3" fill="#0d0d0d"/>
<rect x="133.8" y="295.8" width="1.3" height="1.3" fill="#0d0d0d"/>
<rect x="141.2" y="292.0" width="1.3" height="1.3" fill="#0d0d0d"/>
<rect x="121.5" y="293.1" width="1.3" height="1.3" fill="#0d0d0d"/>
<rect x="143.9" y="292.0" width="1.3" height="1.3" fill="#0d0d0d"/>
<rect x="122.5" y="295.3" width="1.3" height="1.3" fill="#0d0d0d"/>
<rect x="145.5" y="293.5" width="1.3" height="1.3" fill="#0d0d0d"/>
<rect x="142.6" y="290.1" width="1.3" height="1.3" fill="#0d0d0d"/>
<rect x="131.8" y="295.8" width="1.3" height="1.3" fill="#0d0d0d"/>
<rect x="134.8" y="293.5" width="1.3" height="1.3" fill="#0d0d0d"/>
<rect x="134.3" y="273.5" width="1.3" height="1.3" fill="#0d0d0d"/>
<rect x="138.2" y="263.2" width="1.3" height="1.3" fill="#0d0d0d"/>
<rect x="134.7" y="276.8" width="1.3" height="1.3" fill="#0d0d0d"/>
<rect x="142.4" y="271.5" width="1.3" height="1.3" fill="#0d0d0d"/>
<rect x="134.1" y="263.4" width="1.3" height="1.3" fill="#0d0d0d"/>
<rect x="142.3" y="269.6" width="1.3" height="1.3" fill="#0d0d0d"/>
<rect x="135.6" y="276.9" width="1.3" height="1.3" fill="#0d0d0d"/>
<rect x="141.3" y="267.0" width="1.3" height="1.3" fill="#0d0d0d"/>
<rect x="138.8" y="264.4" width="1.3" height="1.3" fill="#0d0d0d"/>
<rect x="143.5" y="267.3" width="1.3" height="1.3" fill="#0d0d0d"/>
<rect x="138.0" y="263.2" width="1.3" height="1.3" fill="#0d0d0d"/>
<rect x="140.6" y="265.9" width="1.3" height="1.3" fill="#0d0d0d"/>
<rect x="136.7" y="265.8" width="1.3" height="1.3" fill="#0d0d0d"/>
<rect x="138.9" y="264.5" width="1.3" height="1.3" fill="#0d0d0d"/>
<rect x="140.9" y="263.1" width="1.3" height="1.3" fill="#0d0d0d"/>
<rect x="133.9" y="262.7" width="1.3" height="1.3" fill="#0d0d0d"/>
<rect x="135.5" y="277.7" width="1.3" height="1.3" fill="#0d0d0d"/>
<rect x="134.4" y="262.1" width="1.3" height="1.3" fill="#0d0d0d"/>
<rect x="137.1" y="261.9" width="1.3" height="1.3" fill="#0d0d0d"/>
<rect x="140.4" y="266.7" width="1.3" height="1.3" fill="#0d0d0d"/>
<rect x="139.0" y="261.5" width="1.3" height="1.3" fill="#0d0d0d"/>
<rect x="138.0" y="265.1" width="1.3" height="1.3" fill="#0d0d0d"/>
<rect x="141.6" y="265.3" width="1.3" height="1.3" fill="#0d0d0d"/>
<rect x="140.6" y="265.7" width="1.3" height="1.3" fill="#0d0d0d"/>
<rect x="138.2" y="270.5" width="1.3" height="1.3" fill="#0d0d0d"/>
<rect x="138.3" y="261.4" width="1.3" height="1.3" fill="#0d0d0d"/>
<rect x="138.2" y="269.5" width="1.3" height="1.3" fill="#0d0d0d"/>
<rect x="138.5" y="262.8" width="1.3" height="1.3" fill="#0d0d0d"/>
<rect x="142.3" y="266.8" width="1.3" height="1.3" fill="#0d0d0d"/>
<rect x="141.2" y="269.4" width="1.3" height="1.3" fill="#0d0d0d"/>
<rect x="142.4" y="270.0" width="1.3" height="1.3" fill="#0d0d0d"/>
<rect x="135.3" y="263.0" width="1.3" height="1.3" fill="#0d0d0d"/>
<rect x="140.5" y="268.7" width="1.3" height="1.3" fill="#0d0d0d"/>
<rect x="133.5" y="262.3" width="1.3" height="1.3" fill="#0d0d0d"/>
<rect x="142.7" y="267.1" width="1.3" height="1.3" fill="#0d0d0d"/>
<rect x="140.8" y="269.0" width="1.3" height="1.3" fill="#0d0d0d"/>
<rect x="142.0" y="264.1" width="1.3" height="1.3" fill="#0d0d0d"/>
<rect x="141.0" y="273.9" width="1.3" height="1.3" fill="#0d0d0d"/>
<rect x="133.8" y="277.4" width="1.3" height="1.3" fill="#0d0d0d"/>
<rect x="137.4" y="272.6" width="1.3" height="1.3" fill="#0d0d0d"/>
<rect x="140.6" y="269.5" width="1.3" height="1.3" fill="#0d0d0d"/>
<rect x="141.2" y="265.8" width="1.3" height="1.3" fill="#0d0d0d"/>
<rect x="140.8" y="270.1" width="1.3" height="1.3" fill="#0d0d0d"/>
<rect x="137.7" y="263.2" width="1.3" height="1.3" fill="#0d0d0d"/>
<rect x="140.8" y="263.3" width="1.3" height="1.3" fill="#0d0d0d"/>
<rect x="136.9" y="263.4" width="1.3" height="1.3" fill="#0d0d0d"/>
<rect x="138.2" y="270.4" width="1.3" height="1.3" fill="#0d0d0d"/>
<rect x="138.6" y="267.6" width="1.3" height="1.3" fill="#0d0d0d"/>
<rect x="139.0" y="271.1" width="1.3" height="1.3" fill="#0d0d0d"/>
<rect x="139.0" y="276.6" width="1.3" height="1.3" fill="#0d0d0d"/>
<rect x="140.4" y="271.0" width="1.3" height="1.3" fill="#0d0d0d"/>
<rect x="141.4" y="270.6" width="1.3" height="1.3" fill="#0d0d0d"/>
<rect x="137.1" y="262.4" width="1.3" height="1.3" fill="#0d0d0d"/>
<rect x="137.5" y="262.9" width="1.3" height="1.3" fill="#0d0d0d"/>
<rect x="141.5" y="265.8" width="1.3" height="1.3" fill="#0d0d0d"/>
<rect x="137.4" y="275.0" width="1.3" height="1.3" fill="#0d0d0d"/>
<rect x="141.8" y="267.4" width="1.3" height="1.3" fill="#0d0d0d"/>
<rect x="139.0" y="262.2" width="1.3" height="1.3" fill="#0d0d0d"/>
<rect x="140.6" y="271.6" width="1.3" height="1.3" fill="#0d0d0d"/>
<rect x="140.6" y="264.8" width="1.3" height="1.3" fill="#0d0d0d"/>
<rect x="139.3" y="275.6" width="1.3" height="1.3" fill="#0d0d0d"/>
<rect x="139.0" y="263.4" width="1.3" height="1.3" fill="#0d0d0d"/>
<rect x="136.2" y="275.7" width="1.3" height="1.3" fill="#0d0d0d"/>
<rect x="140.1" y="265.7" width="1.3" height="1.3" fill="#0d0d0d"/>
<rect x="136.6" y="276.7" width="1.3" height="1.3" fill="#0d0d0d"/>
<rect x="134.5" y="263.8" width="1.3" height="1.3" fill="#0d0d0d"/>
<rect x="136.6" y="262.2" width="1.3" height="1.3" fill="#0d0d0d"/>
<rect x="140.4" y="269.2" width="1.3" height="1.3" fill="#0d0d0d"/>
<rect x="137.3" y="276.5" width="1.3" height="1.3" fill="#0d0d0d"/>
<rect x="140.4" y="273.9" width="1.3" height="1.3" fill="#0d0d0d"/>
<rect x="141.5" y="268.9" width="1.3" height="1.3" fill="#0d0d0d"/>
<rect x="137.5" y="261.3" width="1.3" height="1.3" fill="#0d0d0d"/>
<rect x="136.6" y="262.1" width="1.3" height="1.3" fill="#0d0d0d"/>
<rect x="136.4" y="261.2" width="1.3" height="1.3" fill="#0d0d0d"/>
<rect x="140.6" y="269.1" width="1.3" height="1.3" fill="#0d0d0d"/>
<rect x="136.5" y="260.7" width="1.3" height="1.3" fill="#0d0d0d"/>
<rect x="132.9" y="263.1" width="1.3" height="1.3" fill="#0d0d0d"/>
<rect x="135.5" y="275.5" width="1.3" height="1.3" fill="#0d0d0d"/>
<rect x="142.7" y="267.0" width="1.3" height="1.3" fill="#0d0d0d"/>
<rect x="140.2" y="274.9" width="1.3" height="1.3" fill="#0d0d0d"/>
<rect x="131.5" y="276.9" width="1.3" height="1.3" fill="#0d0d0d"/>
<rect x="138.8" y="262.6" width="1.3" height="1.3" fill="#0d0d0d"/>
<rect x="134.2" y="263.5" width="1.3" height="1.3" fill="#0d0d0d"/>
<rect x="142.4" y="269.0" width="1.3" height="1.3" fill="#0d0d0d"/>
<rect x="131.6" y="260.9" width="1.3" height="1.3" fill="#0d0d0d"/>
<rect x="137.3" y="275.2" width="1.3" height="1.3" fill="#0d0d0d"/>
<rect x="139.6" y="274.0" width="1.3" height="1.3" fill="#0d0d0d"/>
<rect x="140.7" y="265.3" width="1.3" height="1.3" fill="#0d0d0d"/>
<rect x="133.6" y="260.9" width="1.3" height="1.3" fill="#0d0d0d"/>
<rect x="139.2" y="263.5" width="1.3" height="1.3" fill="#0d0d0d"/>
<rect x="139.9" y="272.7" width="1.3" height="1.3" fill="#0d0d0d"/>
<rect x="141.4" y="265.5" width="1.3" height="1.3" fill="#0d0d0d"/>
<rect x="138.5" y="261.0" width="1.3" height="1.3" fill="#0d0d0d"/>
<rect x="138.6" y="263.0" width="1.3" height="1.3" fill="#0d0d0d"/>
<rect x="142.9" y="267.2" width="1.3" height="1.3" fill="#0d0d0d"/>
<rect x="136.6" y="263.9" width="1.3" height="1.3" fill="#0d0d0d"/>
<rect x="135.6" y="277.7" width="1.3" height="1.3" fill="#0d0d0d"/>
<rect x="130.9" y="277.6" width="1.3" height="1.3" fill="#0d0d0d"/>
<rect x="140.8" y="265.7" width="1.3" height="1.3" fill="#0d0d0d"/>
<rect x="141.5" y="272.1" width="1.3" height="1.3" fill="#0d0d0d"/>
<rect x="141.5" y="265.4" width="1.3" height="1.3" fill="#0d0d0d"/>
<rect x="140.2" y="265.1" width="1.3" height="1.3" fill="#0d0d0d"/>
<rect x="137.9" y="273.8" width="1.3" height="1.3" fill="#0d0d0d"/>
<rect x="143.3" y="272.1" width="1.3" height="1.3" fill="#0d0d0d"/>
<rect x="140.5" y="266.2" width="1.3" height="1.3" fill="#0d0d0d"/>
<rect x="137.3" y="262.0" width="1.3" height="1.3" fill="#0d0d0d"/>
<rect x="133.7" y="260.2" width="1.3" height="1.3" fill="#0d0d0d"/>
<rect x="141.8" y="270.4" width="1.3" height="1.3" fill="#0d0d0d"/>
<rect x="134.1" y="274.7" width="1.3" height="1.3" fill="#0d0d0d"/>
<rect x="131.8" y="277.7" width="1.3" height="1.3" fill="#0d0d0d"/>
<rect x="133.2" y="276.0" width="1.3" height="1.3" fill="#0d0d0d"/>
<rect x="143.2" y="270.9" width="1.3" height="1.3" fill="#0d0d0d"/>
<rect x="141.9" y="268.9" width="1.3" height="1.3" fill="#0d0d0d"/>
<rect x="139.8" y="275.9" width="1.3" height="1.3" fill="#0d0d0d"/>
<rect x="142.0" y="268.7" width="1.3" height="1.3" fill="#0d0d0d"/>
<rect x="142.3" y="272.7" width="1.3" height="1.3" fill="#0d0d0d"/>
<rect x="141.5" y="271.1" width="1.3" height="1.3" fill="#0d0d0d"/>
<rect x="135.8" y="273.1" width="1.3" height="1.3" fill="#0d0d0d"/>
<rect x="136.9" y="262.7" width="1.3" height="1.3" fill="#0d0d0d"/>
<rect x="142.4" y="263.1" width="1.3" height="1.3" fill="#0d0d0d"/>
<rect x="151.2" y="275.9" width="1.3" height="1.3" fill="#0d0d0d"/>
<rect x="143.4" y="280.9" width="1.3" height="1.3" fill="#0d0d0d"/>
<rect x="143.0" y="264.7" width="1.3" height="1.3" fill="#0d0d0d"/>
<rect x="160.0" y="281.1" width="1.3" height="1.3" fill="#0d0d0d"/>
<rect x="150.9" y="281.5" width="1.3" height="1.3" fill="#0d0d0d"/>
<rect x="154.0" y="266.6" width="1.3" height="1.3" fill="#0d0d0d"/>
<rect x="151.3" y="281.8" width="1.3" height="1.3" fill="#0d0d0d"/>
<rect x="148.7" y="273.8" width="1.3" height="1.3" fill="#0d0d0d"/>
<rect x="147.5" y="277.8" width="1.3" height="1.3" fill="#0d0d0d"/>
<rect x="147.1" y="269.8" width="1.3" height="1.3" fill="#0d0d0d"/>
<rect x="144.4" y="267.8" width="1.3" height="1.3" fill="#0d0d0d"/>
<rect x="150.2" y="276.2" width="1.3" height="1.3" fill="#0d0d0d"/>
<rect x="147.8" y="267.0" width="1.3" height="1.3" fill="#0d0d0d"/>
<rect x="150.7" y="275.5" width="1.3" height="1.3" fill="#0d0d0d"/>
<rect x="154.5" y="270.4" width="1.3" height="1.3" fill="#0d0d0d"/>
<rect x="147.7" y="276.4" width="1.3" height="1.3" fill="#0d0d0d"/>
<rect x="155.5" y="273.1" width="1.3" height="1.3" fill="#0d0d0d"/>
<rect x="149.0" y="267.7" width="1.3" height="1.3" fill="#0d0d0d"/>
<rect x="147.8" y="279.1" width="1.3" height="1.3" fill="#0d0d0d"/>
<rect x="152.8" y="280.1" width="1.3" height="1.3" fill="#0d0d0d"/>
<rect x="142.8" y="278.4" width="1.3" height="1.3" fill="#0d0d0d"/>
<rect x="145.6" y="276.9" width="1.3" height="1.3" fill="#0d0d0d"/>
<rect x="145.8" y="281.0" width="1.3" height="1.3" fill="#0d0d0d"/>
<rect x="149.8" y="281.2" width="1.3" height="1.3" fill="#0d0d0d"/>
<rect x="147.6" y="285.2" width="1.3" height="1.3" fill="#0d0d0d"/>
<rect x="147.6" y="284.8" width="1.3" height="1.3" fill="#0d0d0d"/>
<rect x="147.4" y="267.4" width="1.3" height="1.3" fill="#0d0d0d"/>
<rect x="153.0" y="270.9" width="1.3" height="1.3" fill="#0d0d0d"/>
<rect x="149.1" y="265.2" width="1.3" height="1.3" fill="#0d0d0d"/>
<rect x="148.0" y="274.0" width="1.3" height="1.3" fill="#0d0d0d"/>
<rect x="146.5" y="275.7" width="1.3" height="1.3" fill="#0d0d0d"/>
<rect x="140.1" y="278.8" width="1.3" height="1.3" fill="#0d0d0d"/>
<rect x="147.7" y="282.3" width="1.3" height="1.3" fill="#0d0d0d"/>
<rect x="147.9" y="269.4" width="1.3" height="1.3" fill="#0d0d0d"/>
<rect x="147.5" y="275.0" width="1.3" height="1.3" fill="#0d0d0d"/>
<rect x="151.8" y="270.6" width="1.3" height="1.3" fill="#0d0d0d"/>
<rect x="146.1" y="276.0" width="1.3" height="1.3" fill="#0d0d0d"/>
<rect x="152.7" y="262.8" width="1.3" height="1.3" fill="#0d0d0d"/>
<rect x="145.1" y="269.3" width="1.3" height="1.3" fill="#0d0d0d"/>
<rect x="156.3" y="280.8" width="1.3" height="1.3" fill="#0d0d0d"/>
<rect x="152.6" y="276.4" width="1.3" height="1.3" fill="#0d0d0d"/>
<rect x="144.8" y="280.2" width="1.3" height="1.3" fill="#0d0d0d"/>
<rect x="147.6" y="268.5" width="1.3" height="1.3" fill="#0d0d0d"/>
<rect x="157.2" y="264.6" width="1.3" height="1.3" fill="#0d0d0d"/>
<rect x="155.0" y="274.6" width="1.3" height="1.3" fill="#0d0d0d"/>
<rect x="145.6" y="274.4" width="1.3" height="1.3" fill="#0d0d0d"/>
<rect x="145.9" y="274.5" width="1.3" height="1.3" fill="#0d0d0d"/>
<rect x="146.7" y="266.2" width="1.3" height="1.3" fill="#0d0d0d"/>
<rect x="160.1" y="270.3" width="1.3" height="1.3" fill="#0d0d0d"/>
<rect x="153.4" y="273.1" width="1.3" height="1.3" fill="#0d0d0d"/>
<rect x="152.1" y="265.7" width="1.3" height="1.3" fill="#0d0d0d"/>
<rect x="145.1" y="253.5" width="1.3" height="1.3" fill="#0d0d0d"/>
<rect x="153.4" y="276.1" width="1.3" height="1.3" fill="#0d0d0d"/>
<rect x="144.6" y="278.4" width="1.3" height="1.3" fill="#0d0d0d"/>
<rect x="151.8" y="291.1" width="1.3" height="1.3" fill="#0d0d0d"/>
<rect x="150.3" y="278.9" width="1.3" height="1.3" fill="#0d0d0d"/>
<rect x="151.8" y="278.1" width="1.3" height="1.3" fill="#0d0d0d"/>
<rect x="149.3" y="270.8" width="1.3" height="1.3" fill="#0d0d0d"/>
<rect x="152.2" y="280.9" width="1.3" height="1.3" fill="#0d0d0d"/>
<rect x="133.6" y="262.8" width="1.3" height="1.3" fill="#0d0d0d"/>
<rect x="135.2" y="261.7" width="1.3" height="1.3" fill="#0d0d0d"/>
<rect x="138.3" y="260.2" width="1.3" height="1.3" fill="#0d0d0d"/>
<rect x="123.9" y="260.7" width="1.3" height="1.3" fill="#0d0d0d"/>
<rect x="134.3" y="262.1" width="1.3" height="1.3" fill="#0d0d0d"/>
<rect x="130.1" y="261.3" width="1.3" height="1.3" fill="#0d0d0d"/>
<rect x="123.9" y="260.2" width="1.3" height="1.3" fill="#0d0d0d"/>
<rect x="118.8" y="262.0" width="1.3" height="1.3" fill="#0d0d0d"/>
<rect x="127.7" y="260.6" width="1.3" height="1.3" fill="#0d0d0d"/>
<rect x="122.0" y="260.7" width="1.3" height="1.3" fill="#0d0d0d"/>
<rect x="132.5" y="259.0" width="1.3" height="1.3" fill="#0d0d0d"/>
<rect x="118.6" y="262.5" width="1.3" height="1.3" fill="#0d0d0d"/>
<rect x="133.7" y="262.0" width="1.3" height="1.3" fill="#0d0d0d"/>
<rect x="119.0" y="263.4" width="1.3" height="1.3" fill="#0d0d0d"/>
<rect x="137.0" y="261.2" width="1.3" height="1.3" fill="#0d0d0d"/>
<rect x="124.8" y="262.4" width="1.3" height="1.3" fill="#0d0d0d"/>
<rect x="126.9" y="259.2" width="1.3" height="1.3" fill="#0d0d0d"/>
<rect x="127.7" y="260.9" width="1.3" height="1.3" fill="#0d0d0d"/>
<rect x="123.9" y="260.2" width="1.3" height="1.3" fill="#0d0d0d"/>
<rect x="125.9" y="261.1" width="1.3" height="1.3" fill="#0d0d0d"/>
<rect x="129.1" y="261.5" width="1.3" height="1.3" fill="#0d0d0d"/>
<rect x="128.0" y="260.7" width="1.3" height="1.3" fill="#0d0d0d"/>
<rect x="118.9" y="261.6" width="1.3" height="1.3" fill="#0d0d0d"/>
<rect x="122.4" y="259.8" width="1.3" height="1.3" fill="#0d0d0d"/>
<rect x="126.4" y="260.9" width="1.3" height="1.3" fill="#0d0d0d"/>
<rect x="137.6" y="262.0" width="1.3" height="1.3" fill="#0d0d0d"/>
<rect x="122.9" y="260.1" width="1.3" height="1.3" fill="#0d0d0d"/>
<rect x="126.6" y="260.8" width="1.3" height="1.3" fill="#0d0d0d"/>
<rect x="119.4" y="261.7" width="1.3" height="1.3" fill="#0d0d0d"/>
<rect x="127.4" y="260.2" width="1.3" height="1.3" fill="#0d0d0d"/>
<rect x="130.4" y="298.1" width="1.3" height="1.3" fill="#0d0d0d"/>
<rect x="120.5" y="316.4" width="1.3" height="1.3" fill="#0d0d0d"/>
<rect x="157.1" y="277.0" width="1.3" height="1.3" fill="#0d0d0d"/>
<rect x="131.9" y="306.5" width="1.3" height="1.3" fill="#0d0d0d"/>
<rect x="155.0" y="295.9" width="1.3" height="1.3" fill="#0d0d0d"/>
<rect x="119.1" y="303.2" width="1.3" height="1.3" fill="#0d0d0d"/>
<rect x="118.7" y="294.8" width="1.3" height="1.3" fill="#0d0d0d"/>
<rect x="143.4" y="313.0" width="1.3" height="1.3" fill="#0d0d0d"/>
<rect x="147.6" y="258.7" width="1.3" height="1.3" fill="#0d0d0d"/>
<rect x="162.1" y="302.5" width="1.3" height="1.3" fill="#0d0d0d"/>
<rect x="144.8" y="257.7" width="1.3" height="1.3" fill="#0d0d0d"/>
<rect x="152.5" y="282.5" width="1.3" height="1.3" fill="#0d0d0d"/>
<rect x="149.7" y="316.4" width="1.3" height="1.3" fill="#0d0d0d"/>
<rect x="161.3" y="261.8" width="1.3" height="1.3" fill="#0d0d0d"/>
<rect x="154.6" y="283.8" width="1.3" height="1.3" fill="#0d0d0d"/>
<rect x="153.2" y="280.0" width="1.3" height="1.3" fill="#0d0d0d"/>
<rect x="138.3" y="283.6" width="1.3" height="1.3" fill="#0d0d0d"/>
<rect x="122.1" y="276.5" width="1.3" height="1.3" fill="#0d0d0d"/>
<rect x="152.3" y="261.6" width="1.3" height="1.3" fill="#0d0d0d"/>
<rect x="122.0" y="307.4" width="1.3" height="1.3" fill="#0d0d0d"/>
<rect x="149.0" y="290.2" width="1.3" height="1.3" fill="#0d0d0d"/>
<rect x="131.5" y="314.6" width="1.3" height="1.3" fill="#0d0d0d"/>
<rect x="143.8" y="312.7" width="1.3" height="1.3" fill="#0d0d0d"/>
<rect x="126.7" y="282.2" width="1.3" height="1.3" fill="#0d0d0d"/>
<rect x="142.6" y="307.7" width="1.3" height="1.3" fill="#0d0d0d"/>
<rect x="122.4" y="309.8" width="1.3" height="1.3" fill="#0d0d0d"/>
<rect x="139.5" y="259.2" width="1.3" height="1.3" fill="#0d0d0d"/>
<rect x="137.5" y="280.0" width="1.3" height="1.3" fill="#0d0d0d"/>
<rect x="149.4" y="313.0" width="1.3" height="1.3" fill="#0d0d0d"/>
<rect x="140.5" y="298.7" width="1.3" height="1.3" fill="#0d0d0d"/>
<rect x="135.4" y="304.1" width="1.3" height="1.3" fill="#0d0d0d"/>
<rect x="121.5" y="301.9" width="1.3" height="1.3" fill="#0d0d0d"/>
<rect x="124.5" y="292.5" width="1.3" height="1.3" fill="#0d0d0d"/>
<rect x="126.3" y="278.1" width="1.3" height="1.3" fill="#0d0d0d"/>
<rect x="124.4" y="278.3" width="1.3" height="1.3" fill="#0d0d0d"/>
<rect x="145.3" y="288.5" width="1.3" height="1.3" fill="#0d0d0d"/>
<rect x="135.4" y="291.8" width="1.3" height="1.3" fill="#0d0d0d"/>
<rect x="157.6" y="278.8" width="1.3" height="1.3" fill="#0d0d0d"/>
<rect x="145.0" y="286.2" width="1.3" height="1.3" fill="#0d0d0d"/>
<rect x="109.4" y="304.7" width="1.3" height="1.3" fill="#0d0d0d"/>
<rect x="107.4" y="303.8" width="1.3" height="1.3" fill="#0d0d0d"/>
<rect x="107.6" y="307.3" width="1.3" height="1.3" fill="#0d0d0d"/>
<rect x="106.6" y="304.3" width="1.3" height="1.3" fill="#0d0d0d"/>
<rect x="110.9" y="305.9" width="1.3" height="1.3" fill="#0d0d0d"/>
<rect x="105.8" y="306.5" width="1.3" height="1.3" fill="#0d0d0d"/>
<rect x="105.6" y="305.7" width="1.3" height="1.3" fill="#0d0d0d"/>
<rect x="103.3" y="303.4" width="1.3" height="1.3" fill="#0d0d0d"/>
<rect x="109.5" y="304.0" width="1.3" height="1.3" fill="#0d0d0d"/>
<rect x="106.5" y="304.9" width="1.3" height="1.3" fill="#0d0d0d"/>
<rect x="107.9" y="304.2" width="1.3" height="1.3" fill="#0d0d0d"/>
<rect x="106.6" y="307.6" width="1.3" height="1.3" fill="#0d0d0d"/>
<rect x="110.6" y="305.4" width="1.3" height="1.3" fill="#0d0d0d"/>
<rect x="105.8" y="304.1" width="1.3" height="1.3" fill="#0d0d0d"/>
<rect x="107.3" y="305.6" width="1.3" height="1.3" fill="#0d0d0d"/>
<rect x="110.8" y="304.1" width="1.3" height="1.3" fill="#0d0d0d"/>
<rect x="108.1" y="304.2" width="1.3" height="1.3" fill="#0d0d0d"/>
<rect x="108.1" y="303.8" width="1.3" height="1.3" fill="#0d0d0d"/>
<rect x="116.8" y="300.8" width="1.3" height="1.3" fill="#0d0d0d"/>
<rect x="115.9" y="288.8" width="1.3" height="1.3" fill="#0d0d0d"/>
<rect x="116.5" y="280.8" width="1.3" height="1.3" fill="#0d0d0d"/>
<rect x="118.5" y="280.6" width="1.3" height="1.3" fill="#0d0d0d"/>
<rect x="115.9" y="284.3" width="1.3" height="1.3" fill="#0d0d0d"/>
<rect x="118.2" y="287.5" width="1.3" height="1.3" fill="#0d0d0d"/>
<rect x="115.7" y="306.6" width="1.3" height="1.3" fill="#0d0d0d"/>
<rect x="116.2" y="285.1" width="1.3" height="1.3" fill="#0d0d0d"/>
<rect x="116.4" y="293.0" width="1.3" height="1.3" fill="#0d0d0d"/>
<rect x="115.5" y="289.9" width="1.3" height="1.3" fill="#0d0d0d"/>
<rect x="116.1" y="297.2" width="1.3" height="1.3" fill="#0d0d0d"/>
<rect x="117.3" y="298.1" width="1.3" height="1.3" fill="#0d0d0d"/>
<rect x="116.2" y="297.8" width="1.3" height="1.3" fill="#0d0d0d"/>
<rect x="116.1" y="300.8" width="1.3" height="1.3" fill="#0d0d0d"/>
<rect x="116.8" y="288.0" width="1.3" height="1.3" fill="#0d0d0d"/>
<rect x="117.8" y="279.2" width="1.3" height="1.3" fill="#0d0d0d"/>
<rect x="115.2" y="285.0" width="1.3" height="1.3" fill="#0d0d0d"/>
<rect x="116.2" y="281.5" width="1.3" height="1.3" fill="#0d0d0d"/>
<rect x="114.9" y="276.2" width="1.3" height="1.3" fill="#0d0d0d"/>
<rect x="116.5" y="285.2" width="1.3" height="1.3" fill="#0d0d0d"/>
<rect x="119.0" y="297.6" width="1.3" height="1.3" fill="#0d0d0d"/>
<rect x="115.0" y="302.0" width="1.3" height="1.3" fill="#0d0d0d"/>
<rect x="116.5" y="300.1" width="1.3" height="1.3" fill="#0d0d0d"/>
<rect x="115.0" y="300.8" width="1.3" height="1.3" fill="#0d0d0d"/>
<rect x="117.7" y="288.1" width="1.3" height="1.3" fill="#0d0d0d"/>
<rect x="105.2" y="299.6" width="1.3" height="1.3" fill="#0d0d0d"/>
<rect x="114.9" y="270.9" width="1.3" height="1.3" fill="#0d0d0d"/>
<rect x="113.9" y="292.6" width="1.3" height="1.3" fill="#0d0d0d"/>
<rect x="106.6" y="300.1" width="1.3" height="1.3" fill="#0d0d0d"/>
<rect x="116.0" y="288.9" width="1.3" height="1.3" fill="#0d0d0d"/>
<rect x="107.1" y="257.6" width="1.3" height="1.3" fill="#0d0d0d"/>
<rect x="114.3" y="289.8" width="1.3" height="1.3" fill="#0d0d0d"/>
<rect x="104.2" y="297.2" width="1.3" height="1.3" fill="#0d0d0d"/>
<rect x="102.7" y="290.6" width="1.3" height="1.3" fill="#0d0d0d"/>
<rect x="103.6" y="271.2" width="1.3" height="1.3" fill="#0d0d0d"/>
<rect x="106.1" y="301.8" width="1.3" height="1.3" fill="#0d0d0d"/>
<rect x="117.2" y="275.4" width="1.3" height="1.3" fill="#0d0d0d"/>
<rect x="115.9" y="270.5" width="1.3" height="1.3" fill="#0d0d0d"/>
<rect x="105.4" y="257.9" width="1.3" height="1.3" fill="#0d0d0d"/>
<rect x="112.6" y="290.7" width="1.3" height="1.3" fill="#0d0d0d"/>
<rect x="115.3" y="292.4" width="1.3" height="1.3" fill="#0d0d0d"/>
<rect x="116.0" y="282.8" width="1.3" height="1.3" fill="#0d0d0d"/>
<rect x="103.0" y="267.0" width="1.3" height="1.3" fill="#0d0d0d"/>
<rect x="115.5" y="286.6" width="1.3" height="1.3" fill="#0d0d0d"/>
<rect x="102.9" y="292.3" width="1.3" height="1.3" fill="#0d0d0d"/>
<rect x="109.6" y="258.1" width="1.3" height="1.3" fill="#0d0d0d"/>
<rect x="105.0" y="297.9" width="1.3" height="1.3" fill="#0d0d0d"/>
<rect x="114.0" y="264.5" width="1.3" height="1.3" fill="#0d0d0d"/>
<rect x="102.4" y="281.6" width="1.3" height="1.3" fill="#0d0d0d"/>
<rect x="110.5" y="257.7" width="1.3" height="1.3" fill="#0d0d0d"/>
<rect x="113.2" y="257.3" width="1.3" height="1.3" fill="#0d0d0d"/>
<rect x="106.8" y="256.1" width="1.3" height="1.3" fill="#0d0d0d"/>
<rect x="110.2" y="257.4" width="1.3" height="1.3" fill="#0d0d0d"/>
<rect x="104.2" y="257.9" width="1.3" height="1.3" fill="#0d0d0d"/>
<rect x="108.8" y="256.0" width="1.3" height="1.3" fill="#0d0d0d"/>
<rect x="105.1" y="255.9" width="1.3" height="1.3" fill="#0d0d0d"/>
<rect x="111.7" y="257.3" width="1.3" height="1.3" fill="#0d0d0d"/>
<rect x="110.4" y="257.1" width="1.3" height="1.3" fill="#0d0d0d"/>
<rect x="108.7" y="257.1" width="1.3" height="1.3" fill="#0d0d0d"/>
<rect x="105.3" y="258.1" width="1.3" height="1.3" fill="#0d0d0d"/>
<rect x="112.8" y="258.1" width="1.3" height="1.3" fill="#0d0d0d"/>
<rect x="111.6" y="256.8" width="1.3" height="1.3" fill="#0d0d0d"/>
<rect x="111.5" y="256.3" width="1.3" height="1.3" fill="#0d0d0d"/>
<rect x="108.1" y="257.2" width="1.3" height="1.3" fill="#0d0d0d"/>
<rect x="114.0" y="257.1" width="1.3" height="1.3" fill="#0d0d0d"/>
<rect x="103.8" y="257.3" width="1.3" height="1.3" fill="#0d0d0d"/>
<rect x="108.4" y="256.8" width="1.3" height="1.3" fill="#0d0d0d"/>
<g filter="url(#soft)">
<rect x="114.00" y="262.00" width="27.30" height="14.60" rx="7.00" fill="rgb(212,212,212)" stroke="#9a9a9a" stroke-width="0.45"/>
<rect x="116.20" y="263.30" width="21.84" height="11.68" rx="5.60" fill="rgb(221,221,221)" stroke="#9a9a9a" stroke-width="0.45"/>
<rect x="118.40" y="264.60" width="16.38" height="8.76" rx="4.20" fill="rgb(230,230,230)" stroke="#9a9a9a" stroke-width="0.45"/>
<rect x="120.60" y="265.90" width="10.92" height="5.84" rx="2.80" fill="rgb(239,239,239)" stroke="#9a9a9a" stroke-width="0.45"/>
<rect x="122.80" y="267.20" width="5.46" height="2.92" rx="1.40" fill="rgb(248,248,248)" stroke="#9a9a9a" stroke-width="0.45"/>
</g>
<g filter="url(#soft)">
<rect x="102.90" y="257.60" width="13.20" height="44.60" rx="6.40" fill="rgb(168,168,168)" stroke="#777777" stroke-width="0.45"/>
<rect x="104.02" y="261.50" width="11.00" height="37.17" rx="5.33" fill="rgb(182,182,182)" stroke="#777777" stroke-width="0.45"/>
<rect x="105.13" y="265.40" width="8.80" height="29.73" rx="4.27" fill="rgb(197,197,197)" stroke="#777777" stroke-width="0.45"/>
<rect x="106.25" y="269.30" width="6.60" height="22.30" rx="3.20" fill="rgb(212,212,212)" stroke="#777777" stroke-width="0.45"/>
<rect x="107.37" y="273.20" width="4.40" height="14.87" rx="2.13" fill="rgb(227,227,227)" stroke="#777777" stroke-width="0.45"/>
<rect x="108.48" y="277.10" width="2.20" height="7.43" rx="1.07" fill="rgb(242,242,242)" stroke="#777777" stroke-width="0.45"/>
</g>
<path d="M118.2,228.3 V330.8 M90.6,286.7 H193.5" stroke="#222" stroke-width="1.1"/>
<text x="93.2" y="243.8" font-size="11.8" font-weight="bold" text-anchor="start" fill="#111" stroke="#111" stroke-width="0.6" >70.5</text>
<text x="156.89999999999998" y="243.8" font-size="11.8" font-weight="bold" text-anchor="start" fill="#111" stroke="#111" stroke-width="0.6" >15.2</text>
<text x="92.9" y="321.0" font-size="11.8" font-weight="bold" text-anchor="start" fill="#111" stroke="#111" stroke-width="0.6" >12.0</text>
<text x="157.1" y="321.0" font-size="11.8" font-weight="bold" text-anchor="start" fill="#111" stroke="#111" stroke-width="0.6" >2.25</text>
<rect x="203.5" y="228.1" width="103.30" height="102.70" fill="#fff" stroke="#9a9a9a" stroke-width="0.9"/>
<path d="M200.70,237.90 H203.5" stroke="#444" stroke-width="0.8"/>
<path d="M202.20,239.60 H203.5" stroke="#666" stroke-width="0.55"/>
<path d="M202.20,241.30 H203.5" stroke="#666" stroke-width="0.55"/>
<path d="M202.20,243.00 H203.5" stroke="#666" stroke-width="0.55"/>
<path d="M202.20,244.70 H203.5" stroke="#666" stroke-width="0.55"/>
<path d="M202.20,246.40 H203.5" stroke="#666" stroke-width="0.55"/>
<path d="M202.20,248.10 H203.5" stroke="#666" stroke-width="0.55"/>
<path d="M202.20,249.80 H203.5" stroke="#666" stroke-width="0.55"/>
<path d="M202.20,251.50 H203.5" stroke="#666" stroke-width="0.55"/>
<path d="M200.70,253.30 H203.5" stroke="#444" stroke-width="0.8"/>
<path d="M202.20,255.00 H203.5" stroke="#666" stroke-width="0.55"/>
<path d="M202.20,256.70 H203.5" stroke="#666" stroke-width="0.55"/>
<path d="M202.20,258.40 H203.5" stroke="#666" stroke-width="0.55"/>
<path d="M202.20,260.10 H203.5" stroke="#666" stroke-width="0.55"/>
<path d="M202.20,261.80 H203.5" stroke="#666" stroke-width="0.55"/>
<path d="M202.20,263.50 H203.5" stroke="#666" stroke-width="0.55"/>
<path d="M202.20,265.20 H203.5" stroke="#666" stroke-width="0.55"/>
<path d="M202.20,266.90 H203.5" stroke="#666" stroke-width="0.55"/>
<path d="M200.70,268.70 H203.5" stroke="#444" stroke-width="0.8"/>
<path d="M202.20,270.40 H203.5" stroke="#666" stroke-width="0.55"/>
<path d="M202.20,272.10 H203.5" stroke="#666" stroke-width="0.55"/>
<path d="M202.20,273.80 H203.5" stroke="#666" stroke-width="0.55"/>
<path d="M202.20,275.50 H203.5" stroke="#666" stroke-width="0.55"/>
<path d="M202.20,277.20 H203.5" stroke="#666" stroke-width="0.55"/>
<path d="M202.20,278.90 H203.5" stroke="#666" stroke-width="0.55"/>
<path d="M202.20,280.60 H203.5" stroke="#666" stroke-width="0.55"/>
<path d="M202.20,282.30 H203.5" stroke="#666" stroke-width="0.55"/>
<path d="M200.70,284.10 H203.5" stroke="#444" stroke-width="0.8"/>
<path d="M202.20,285.80 H203.5" stroke="#666" stroke-width="0.55"/>
<path d="M202.20,287.50 H203.5" stroke="#666" stroke-width="0.55"/>
<path d="M202.20,289.20 H203.5" stroke="#666" stroke-width="0.55"/>
<path d="M202.20,290.90 H203.5" stroke="#666" stroke-width="0.55"/>
<path d="M202.20,292.60 H203.5" stroke="#666" stroke-width="0.55"/>
<path d="M202.20,294.30 H203.5" stroke="#666" stroke-width="0.55"/>
<path d="M202.20,296.00 H203.5" stroke="#666" stroke-width="0.55"/>
<path d="M202.20,297.70 H203.5" stroke="#666" stroke-width="0.55"/>
<path d="M200.70,299.50 H203.5" stroke="#444" stroke-width="0.8"/>
<path d="M202.20,301.20 H203.5" stroke="#666" stroke-width="0.55"/>
<path d="M202.20,302.90 H203.5" stroke="#666" stroke-width="0.55"/>
<path d="M202.20,304.60 H203.5" stroke="#666" stroke-width="0.55"/>
<path d="M202.20,306.30 H203.5" stroke="#666" stroke-width="0.55"/>
<path d="M202.20,308.00 H203.5" stroke="#666" stroke-width="0.55"/>
<path d="M202.20,309.70 H203.5" stroke="#666" stroke-width="0.55"/>
<path d="M202.20,311.40 H203.5" stroke="#666" stroke-width="0.55"/>
<path d="M202.20,313.10 H203.5" stroke="#666" stroke-width="0.55"/>
<path d="M200.70,314.90 H203.5" stroke="#444" stroke-width="0.8"/>
<path d="M202.20,316.60 H203.5" stroke="#666" stroke-width="0.55"/>
<path d="M202.20,318.30 H203.5" stroke="#666" stroke-width="0.55"/>
<path d="M202.20,320.00 H203.5" stroke="#666" stroke-width="0.55"/>
<path d="M202.20,321.70 H203.5" stroke="#666" stroke-width="0.55"/>
<path d="M202.20,323.40 H203.5" stroke="#666" stroke-width="0.55"/>
<path d="M202.20,325.10 H203.5" stroke="#666" stroke-width="0.55"/>
<path d="M202.20,326.80 H203.5" stroke="#666" stroke-width="0.55"/>
<path d="M202.20,328.50 H203.5" stroke="#666" stroke-width="0.55"/>
<path d="M206.50,330.8 V333.60" stroke="#444" stroke-width="0.8"/>
<path d="M208.20,330.8 V332.10" stroke="#666" stroke-width="0.55"/>
<path d="M209.90,330.8 V332.10" stroke="#666" stroke-width="0.55"/>
<path d="M211.60,330.8 V332.10" stroke="#666" stroke-width="0.55"/>
<path d="M213.30,330.8 V332.10" stroke="#666" stroke-width="0.55"/>
<path d="M215.00,330.8 V332.10" stroke="#666" stroke-width="0.55"/>
<path d="M216.70,330.8 V332.10" stroke="#666" stroke-width="0.55"/>
<path d="M218.40,330.8 V332.10" stroke="#666" stroke-width="0.55"/>
<path d="M220.10,330.8 V332.10" stroke="#666" stroke-width="0.55"/>
<path d="M221.90,330.8 V333.60" stroke="#444" stroke-width="0.8"/>
<path d="M223.60,330.8 V332.10" stroke="#666" stroke-width="0.55"/>
<path d="M225.30,330.8 V332.10" stroke="#666" stroke-width="0.55"/>
<path d="M227.00,330.8 V332.10" stroke="#666" stroke-width="0.55"/>
<path d="M228.70,330.8 V332.10" stroke="#666" stroke-width="0.55"/>
<path d="M230.40,330.8 V332.10" stroke="#666" stroke-width="0.55"/>
<path d="M232.10,330.8 V332.10" stroke="#666" stroke-width="0.55"/>
<path d="M233.80,330.8 V332.10" stroke="#666" stroke-width="0.55"/>
<path d="M235.50,330.8 V332.10" stroke="#666" stroke-width="0.55"/>
<path d="M237.30,330.8 V333.60" stroke="#444" stroke-width="0.8"/>
<path d="M239.00,330.8 V332.10" stroke="#666" stroke-width="0.55"/>
<path d="M240.70,330.8 V332.10" stroke="#666" stroke-width="0.55"/>
<path d="M242.40,330.8 V332.10" stroke="#666" stroke-width="0.55"/>
<path d="M244.10,330.8 V332.10" stroke="#666" stroke-width="0.55"/>
<path d="M245.80,330.8 V332.10" stroke="#666" stroke-width="0.55"/>
<path d="M247.50,330.8 V332.10" stroke="#666" stroke-width="0.55"/>
<path d="M249.20,330.8 V332.10" stroke="#666" stroke-width="0.55"/>
<path d="M250.90,330.8 V332.10" stroke="#666" stroke-width="0.55"/>
<path d="M252.70,330.8 V333.60" stroke="#444" stroke-width="0.8"/>
<path d="M254.40,330.8 V332.10" stroke="#666" stroke-width="0.55"/>
<path d="M256.10,330.8 V332.10" stroke="#666" stroke-width="0.55"/>
<path d="M257.80,330.8 V332.10" stroke="#666" stroke-width="0.55"/>
<path d="M259.50,330.8 V332.10" stroke="#666" stroke-width="0.55"/>
<path d="M261.20,330.8 V332.10" stroke="#666" stroke-width="0.55"/>
<path d="M262.90,330.8 V332.10" stroke="#666" stroke-width="0.55"/>
<path d="M264.60,330.8 V332.10" stroke="#666" stroke-width="0.55"/>
<path d="M266.30,330.8 V332.10" stroke="#666" stroke-width="0.55"/>
<path d="M268.10,330.8 V333.60" stroke="#444" stroke-width="0.8"/>
<path d="M269.80,330.8 V332.10" stroke="#666" stroke-width="0.55"/>
<path d="M271.50,330.8 V332.10" stroke="#666" stroke-width="0.55"/>
<path d="M273.20,330.8 V332.10" stroke="#666" stroke-width="0.55"/>
<path d="M274.90,330.8 V332.10" stroke="#666" stroke-width="0.55"/>
<path d="M276.60,330.8 V332.10" stroke="#666" stroke-width="0.55"/>
<path d="M278.30,330.8 V332.10" stroke="#666" stroke-width="0.55"/>
<path d="M280.00,330.8 V332.10" stroke="#666" stroke-width="0.55"/>
<path d="M281.70,330.8 V332.10" stroke="#666" stroke-width="0.55"/>
<path d="M283.50,330.8 V333.60" stroke="#444" stroke-width="0.8"/>
<path d="M285.20,330.8 V332.10" stroke="#666" stroke-width="0.55"/>
<path d="M286.90,330.8 V332.10" stroke="#666" stroke-width="0.55"/>
<path d="M288.60,330.8 V332.10" stroke="#666" stroke-width="0.55"/>
<path d="M290.30,330.8 V332.10" stroke="#666" stroke-width="0.55"/>
<path d="M292.00,330.8 V332.10" stroke="#666" stroke-width="0.55"/>
<path d="M293.70,330.8 V332.10" stroke="#666" stroke-width="0.55"/>
<path d="M295.40,330.8 V332.10" stroke="#666" stroke-width="0.55"/>
<path d="M297.10,330.8 V332.10" stroke="#666" stroke-width="0.55"/>
<path d="M298.90,330.8 V333.60" stroke="#444" stroke-width="0.8"/>
<path d="M300.60,330.8 V332.10" stroke="#666" stroke-width="0.55"/>
<path d="M302.30,330.8 V332.10" stroke="#666" stroke-width="0.55"/>
<path d="M304.00,330.8 V332.10" stroke="#666" stroke-width="0.55"/>
<path d="M305.70,330.8 V332.10" stroke="#666" stroke-width="0.55"/>
<rect x="201.1" y="300.0" width="1.9" height="3.2" fill="#222"/>
<rect x="217.5" y="332.0" width="8.5" height="2.4" fill="#222"/>
<rect x="263.5" y="262.1" width="1.3" height="1.3" fill="#0d0d0d"/>
<rect x="258.0" y="260.3" width="1.3" height="1.3" fill="#0d0d0d"/>
<rect x="262.4" y="262.6" width="1.3" height="1.3" fill="#0d0d0d"/>
<rect x="256.2" y="275.8" width="1.3" height="1.3" fill="#0d0d0d"/>
<rect x="257.9" y="259.6" width="1.3" height="1.3" fill="#0d0d0d"/>
<rect x="261.3" y="260.8" width="1.3" height="1.3" fill="#0d0d0d"/>
<rect x="262.7" y="276.0" width="1.3" height="1.3" fill="#0d0d0d"/>
<rect x="263.6" y="275.7" width="1.3" height="1.3" fill="#0d0d0d"/>
<rect x="262.7" y="276.0" width="1.3" height="1.3" fill="#0d0d0d"/>
<rect x="259.7" y="276.6" width="1.3" height="1.3" fill="#0d0d0d"/>
<rect x="267.0" y="271.0" width="1.3" height="1.3" fill="#0d0d0d"/>
<rect x="262.8" y="271.0" width="1.3" height="1.3" fill="#0d0d0d"/>
<rect x="261.6" y="265.6" width="1.3" height="1.3" fill="#0d0d0d"/>
<rect x="262.7" y="271.9" width="1.3" height="1.3" fill="#0d0d0d"/>
<rect x="267.7" y="272.5" width="1.3" height="1.3" fill="#0d0d0d"/>
<rect x="261.9" y="269.2" width="1.3" height="1.3" fill="#0d0d0d"/>
<rect x="263.9" y="270.2" width="1.3" height="1.3" fill="#0d0d0d"/>
<rect x="258.9" y="261.5" width="1.3" height="1.3" fill="#0d0d0d"/>
<rect x="263.6" y="266.0" width="1.3" height="1.3" fill="#0d0d0d"/>
<rect x="260.2" y="276.1" width="1.3" height="1.3" fill="#0d0d0d"/>
<rect x="254.9" y="261.9" width="1.3" height="1.3" fill="#0d0d0d"/>
<rect x="265.1" y="267.3" width="1.3" height="1.3" fill="#0d0d0d"/>
<rect x="266.0" y="271.8" width="1.3" height="1.3" fill="#0d0d0d"/>
<rect x="261.5" y="274.6" width="1.3" height="1.3" fill="#0d0d0d"/>
<rect x="257.9" y="275.3" width="1.3" height="1.3" fill="#0d0d0d"/>
<rect x="263.6" y="268.7" width="1.3" height="1.3" fill="#0d0d0d"/>
<rect x="261.9" y="275.0" width="1.3" height="1.3" fill="#0d0d0d"/>
<rect x="255.9" y="279.0" width="1.3" height="1.3" fill="#0d0d0d"/>
<rect x="262.3" y="262.7" width="1.3" height="1.3" fill="#0d0d0d"/>
<rect x="257.3" y="261.1" width="1.3" height="1.3" fill="#0d0d0d"/>
<rect x="264.0" y="274.6" width="1.3" height="1.3" fill="#0d0d0d"/>
<rect x="263.9" y="265.9" width="1.3" height="1.3" fill="#0d0d0d"/>
<rect x="262.9" y="270.6" width="1.3" height="1.3" fill="#0d0d0d"/>
<rect x="264.3" y="269.4" width="1.3" height="1.3" fill="#0d0d0d"/>
<rect x="256.8" y="260.1" width="1.3" height="1.3" fill="#0d0d0d"/>
<rect x="264.7" y="274.0" width="1.3" height="1.3" fill="#0d0d0d"/>
<rect x="256.2" y="260.7" width="1.3" height="1.3" fill="#0d0d0d"/>
<rect x="253.1" y="258.0" width="1.3" height="1.3" fill="#0d0d0d"/>
<rect x="260.7" y="262.7" width="1.3" height="1.3" fill="#0d0d0d"/>
<rect x="259.1" y="277.6" width="1.3" height="1.3" fill="#0d0d0d"/>
<rect x="264.5" y="275.3" width="1.3" height="1.3" fill="#0d0d0d"/>
<rect x="262.7" y="272.8" width="1.3" height="1.3" fill="#0d0d0d"/>
<rect x="260.2" y="262.8" width="1.3" height="1.3" fill="#0d0d0d"/>
<rect x="263.6" y="267.7" width="1.3" height="1.3" fill="#0d0d0d"/>
<rect x="258.4" y="263.5" width="1.3" height="1.3" fill="#0d0d0d"/>
<rect x="263.3" y="265.8" width="1.3" height="1.3" fill="#0d0d0d"/>
<rect x="256.1" y="261.3" width="1.3" height="1.3" fill="#0d0d0d"/>
<rect x="257.1" y="279.8" width="1.3" height="1.3" fill="#0d0d0d"/>
<rect x="261.9" y="271.9" width="1.3" height="1.3" fill="#0d0d0d"/>
<rect x="256.0" y="276.4" width="1.3" height="1.3" fill="#0d0d0d"/>
<rect x="258.8" y="261.3" width="1.3" height="1.3" fill="#0d0d0d"/>
<rect x="258.1" y="277.7" width="1.3" height="1.3" fill="#0d0d0d"/>
<rect x="260.3" y="278.5" width="1.3" height="1.3" fill="#0d0d0d"/>
<rect x="263.9" y="274.2" width="1.3" height="1.3" fill="#0d0d0d"/>
<rect x="262.8" y="265.6" width="1.3" height="1.3" fill="#0d0d0d"/>
<rect x="257.3" y="278.6" width="1.3" height="1.3" fill="#0d0d0d"/>
<rect x="257.2" y="261.4" width="1.3" height="1.3" fill="#0d0d0d"/>
<rect x="263.4" y="269.5" width="1.3" height="1.3" fill="#0d0d0d"/>
<rect x="260.4" y="263.8" width="1.3" height="1.3" fill="#0d0d0d"/>
<rect x="266.5" y="266.8" width="1.3" height="1.3" fill="#0d0d0d"/>
<rect x="261.6" y="263.2" width="1.3" height="1.3" fill="#0d0d0d"/>
<rect x="262.8" y="262.6" width="1.3" height="1.3" fill="#0d0d0d"/>
<rect x="256.3" y="261.4" width="1.3" height="1.3" fill="#0d0d0d"/>
<rect x="256.7" y="261.8" width="1.3" height="1.3" fill="#0d0d0d"/>
<rect x="262.4" y="272.3" width="1.3" height="1.3" fill="#0d0d0d"/>
<rect x="263.5" y="272.8" width="1.3" height="1.3" fill="#0d0d0d"/>
<rect x="262.9" y="264.0" width="1.3" height="1.3" fill="#0d0d0d"/>
<rect x="264.4" y="267.4" width="1.3" height="1.3" fill="#0d0d0d"/>
<rect x="263.4" y="273.1" width="1.3" height="1.3" fill="#0d0d0d"/>
<rect x="263.7" y="272.8" width="1.3" height="1.3" fill="#0d0d0d"/>
<rect x="256.6" y="279.4" width="1.3" height="1.3" fill="#0d0d0d"/>
<rect x="257.8" y="263.4" width="1.3" height="1.3" fill="#0d0d0d"/>
<rect x="259.9" y="279.6" width="1.3" height="1.3" fill="#0d0d0d"/>
<rect x="259.4" y="262.4" width="1.3" height="1.3" fill="#0d0d0d"/>
<rect x="264.0" y="273.9" width="1.3" height="1.3" fill="#0d0d0d"/>
<rect x="258.4" y="279.2" width="1.3" height="1.3" fill="#0d0d0d"/>
<rect x="260.7" y="263.1" width="1.3" height="1.3" fill="#0d0d0d"/>
<rect x="255.8" y="260.0" width="1.3" height="1.3" fill="#0d0d0d"/>
<rect x="258.0" y="259.5" width="1.3" height="1.3" fill="#0d0d0d"/>
<rect x="257.7" y="262.5" width="1.3" height="1.3" fill="#0d0d0d"/>
<rect x="253.6" y="261.3" width="1.3" height="1.3" fill="#0d0d0d"/>
<rect x="256.3" y="278.4" width="1.3" height="1.3" fill="#0d0d0d"/>
<rect x="262.9" y="266.1" width="1.3" height="1.3" fill="#0d0d0d"/>
<rect x="264.3" y="270.9" width="1.3" height="1.3" fill="#0d0d0d"/>
<rect x="261.9" y="274.4" width="1.3" height="1.3" fill="#0d0d0d"/>
<rect x="259.8" y="277.9" width="1.3" height="1.3" fill="#0d0d0d"/>
<rect x="257.4" y="276.5" width="1.3" height="1.3" fill="#0d0d0d"/>
<rect x="261.4" y="265.9" width="1.3" height="1.3" fill="#0d0d0d"/>
<rect x="260.3" y="277.1" width="1.3" height="1.3" fill="#0d0d0d"/>
<rect x="265.8" y="273.3" width="1.3" height="1.3" fill="#0d0d0d"/>
<rect x="265.9" y="268.8" width="1.3" height="1.3" fill="#0d0d0d"/>
<rect x="262.2" y="260.9" width="1.3" height="1.3" fill="#0d0d0d"/>
<rect x="265.3" y="267.1" width="1.3" height="1.3" fill="#0d0d0d"/>
<rect x="263.4" y="268.1" width="1.3" height="1.3" fill="#0d0d0d"/>
<rect x="259.6" y="263.5" width="1.3" height="1.3" fill="#0d0d0d"/>
<rect x="259.3" y="279.2" width="1.3" height="1.3" fill="#0d0d0d"/>
<rect x="260.4" y="261.8" width="1.3" height="1.3" fill="#0d0d0d"/>
<rect x="262.0" y="274.4" width="1.3" height="1.3" fill="#0d0d0d"/>
<rect x="263.1" y="272.8" width="1.3" height="1.3" fill="#0d0d0d"/>
<rect x="264.4" y="269.4" width="1.3" height="1.3" fill="#0d0d0d"/>
<rect x="258.2" y="260.2" width="1.3" height="1.3" fill="#0d0d0d"/>
<rect x="264.5" y="275.8" width="1.3" height="1.3" fill="#0d0d0d"/>
<rect x="265.3" y="269.4" width="1.3" height="1.3" fill="#0d0d0d"/>
<rect x="258.6" y="263.7" width="1.3" height="1.3" fill="#0d0d0d"/>
<rect x="258.3" y="261.6" width="1.3" height="1.3" fill="#0d0d0d"/>
<rect x="262.8" y="265.9" width="1.3" height="1.3" fill="#0d0d0d"/>
<rect x="262.6" y="262.2" width="1.3" height="1.3" fill="#0d0d0d"/>
<rect x="260.9" y="277.0" width="1.3" height="1.3" fill="#0d0d0d"/>
<rect x="262.7" y="266.1" width="1.3" height="1.3" fill="#0d0d0d"/>
<rect x="262.4" y="275.4" width="1.3" height="1.3" fill="#0d0d0d"/>
<rect x="264.5" y="266.1" width="1.3" height="1.3" fill="#0d0d0d"/>
<rect x="259.5" y="264.7" width="1.3" height="1.3" fill="#0d0d0d"/>
<rect x="262.6" y="263.2" width="1.3" height="1.3" fill="#0d0d0d"/>
<rect x="256.7" y="262.1" width="1.3" height="1.3" fill="#0d0d0d"/>
<rect x="261.5" y="273.3" width="1.3" height="1.3" fill="#0d0d0d"/>
<rect x="263.6" y="268.5" width="1.3" height="1.3" fill="#0d0d0d"/>
<rect x="261.3" y="263.3" width="1.3" height="1.3" fill="#0d0d0d"/>
<rect x="256.1" y="260.5" width="1.3" height="1.3" fill="#0d0d0d"/>
<rect x="264.4" y="270.3" width="1.3" height="1.3" fill="#0d0d0d"/>
<rect x="262.5" y="273.0" width="1.3" height="1.3" fill="#0d0d0d"/>
<rect x="255.3" y="262.6" width="1.3" height="1.3" fill="#0d0d0d"/>
<rect x="256.2" y="262.1" width="1.3" height="1.3" fill="#0d0d0d"/>
<rect x="256.0" y="261.1" width="1.3" height="1.3" fill="#0d0d0d"/>
<rect x="261.7" y="262.6" width="1.3" height="1.3" fill="#0d0d0d"/>
<rect x="265.3" y="270.4" width="1.3" height="1.3" fill="#0d0d0d"/>
<rect x="261.6" y="264.0" width="1.3" height="1.3" fill="#0d0d0d"/>
<rect x="262.3" y="276.1" width="1.3" height="1.3" fill="#0d0d0d"/>
<rect x="264.0" y="275.2" width="1.3" height="1.3" fill="#0d0d0d"/>
<rect x="262.0" y="273.8" width="1.3" height="1.3" fill="#0d0d0d"/>
<rect x="255.5" y="277.7" width="1.3" height="1.3" fill="#0d0d0d"/>
<rect x="256.3" y="262.5" width="1.3" height="1.3" fill="#0d0d0d"/>
<rect x="264.4" y="269.7" width="1.3" height="1.3" fill="#0d0d0d"/>
<rect x="262.5" y="269.2" width="1.3" height="1.3" fill="#0d0d0d"/>
<rect x="258.9" y="276.3" width="1.3" height="1.3" fill="#0d0d0d"/>
<rect x="254.4" y="277.6" width="1.3" height="1.3" fill="#0d0d0d"/>
<rect x="264.2" y="266.1" width="1.3" height="1.3" fill="#0d0d0d"/>
<rect x="263.9" y="274.9" width="1.3" height="1.3" fill="#0d0d0d"/>
<rect x="265.3" y="266.1" width="1.3" height="1.3" fill="#0d0d0d"/>
<rect x="262.2" y="275.0" width="1.3" height="1.3" fill="#0d0d0d"/>
<rect x="260.4" y="265.4" width="1.3" height="1.3" fill="#0d0d0d"/>
<rect x="265.0" y="268.9" width="1.3" height="1.3" fill="#0d0d0d"/>
<rect x="260.6" y="262.5" width="1.3" height="1.3" fill="#0d0d0d"/>
<rect x="257.4" y="257.7" width="1.3" height="1.3" fill="#0d0d0d"/>
<rect x="265.8" y="271.5" width="1.3" height="1.3" fill="#0d0d0d"/>
<rect x="255.1" y="260.6" width="1.3" height="1.3" fill="#0d0d0d"/>
<rect x="257.6" y="280.5" width="1.3" height="1.3" fill="#0d0d0d"/>
<rect x="261.3" y="277.5" width="1.3" height="1.3" fill="#0d0d0d"/>
<rect x="262.5" y="269.5" width="1.3" height="1.3" fill="#0d0d0d"/>
<rect x="263.9" y="272.5" width="1.3" height="1.3" fill="#0d0d0d"/>
<rect x="259.5" y="276.5" width="1.3" height="1.3" fill="#0d0d0d"/>
<rect x="262.7" y="266.3" width="1.3" height="1.3" fill="#0d0d0d"/>
<rect x="260.8" y="264.5" width="1.3" height="1.3" fill="#0d0d0d"/>
<rect x="265.2" y="272.2" width="1.3" height="1.3" fill="#0d0d0d"/>
<rect x="262.0" y="266.6" width="1.3" height="1.3" fill="#0d0d0d"/>
<rect x="256.2" y="261.2" width="1.3" height="1.3" fill="#0d0d0d"/>
<rect x="264.3" y="268.3" width="1.3" height="1.3" fill="#0d0d0d"/>
<rect x="262.8" y="276.8" width="1.3" height="1.3" fill="#0d0d0d"/>
<rect x="264.3" y="271.8" width="1.3" height="1.3" fill="#0d0d0d"/>
<rect x="263.7" y="263.6" width="1.3" height="1.3" fill="#0d0d0d"/>
<rect x="258.9" y="276.6" width="1.3" height="1.3" fill="#0d0d0d"/>
<rect x="259.3" y="278.0" width="1.3" height="1.3" fill="#0d0d0d"/>
<rect x="262.7" y="274.0" width="1.3" height="1.3" fill="#0d0d0d"/>
<rect x="264.5" y="270.1" width="1.3" height="1.3" fill="#0d0d0d"/>
<rect x="261.1" y="277.2" width="1.3" height="1.3" fill="#0d0d0d"/>
<rect x="263.1" y="276.8" width="1.3" height="1.3" fill="#0d0d0d"/>
<rect x="260.4" y="273.9" width="1.3" height="1.3" fill="#0d0d0d"/>
<rect x="260.5" y="262.5" width="1.3" height="1.3" fill="#0d0d0d"/>
<rect x="256.8" y="261.8" width="1.3" height="1.3" fill="#0d0d0d"/>
<rect x="259.1" y="261.8" width="1.3" height="1.3" fill="#0d0d0d"/>
<rect x="262.0" y="276.4" width="1.3" height="1.3" fill="#0d0d0d"/>
<rect x="264.9" y="264.9" width="1.3" height="1.3" fill="#0d0d0d"/>
<rect x="269.3" y="258.3" width="1.3" height="1.3" fill="#0d0d0d"/>
<rect x="269.1" y="269.6" width="1.3" height="1.3" fill="#0d0d0d"/>
<rect x="265.9" y="270.7" width="1.3" height="1.3" fill="#0d0d0d"/>
<rect x="266.4" y="264.6" width="1.3" height="1.3" fill="#0d0d0d"/>
<rect x="269.4" y="264.8" width="1.3" height="1.3" fill="#0d0d0d"/>
<rect x="267.6" y="268.9" width="1.3" height="1.3" fill="#0d0d0d"/>
<rect x="265.0" y="266.3" width="1.3" height="1.3" fill="#0d0d0d"/>
<rect x="268.0" y="267.9" width="1.3" height="1.3" fill="#0d0d0d"/>
<rect x="271.2" y="275.2" width="1.3" height="1.3" fill="#0d0d0d"/>
<rect x="265.9" y="276.0" width="1.3" height="1.3" fill="#0d0d0d"/>
<rect x="260.2" y="280.2" width="1.3" height="1.3" fill="#0d0d0d"/>
<rect x="263.3" y="262.4" width="1.3" height="1.3" fill="#0d0d0d"/>
<rect x="270.5" y="260.3" width="1.3" height="1.3" fill="#0d0d0d"/>
<rect x="265.0" y="272.0" width="1.3" height="1.3" fill="#0d0d0d"/>
<rect x="269.9" y="265.8" width="1.3" height="1.3" fill="#0d0d0d"/>
<rect x="271.6" y="264.7" width="1.3" height="1.3" fill="#0d0d0d"/>
<rect x="271.5" y="272.5" width="1.3" height="1.3" fill="#0d0d0d"/>
<rect x="267.6" y="268.6" width="1.3" height="1.3" fill="#0d0d0d"/>
<rect x="264.2" y="276.4" width="1.3" height="1.3" fill="#0d0d0d"/>
<rect x="263.7" y="270.0" width="1.3" height="1.3" fill="#0d0d0d"/>
<rect x="269.3" y="272.9" width="1.3" height="1.3" fill="#0d0d0d"/>
<rect x="269.2" y="266.3" width="1.3" height="1.3" fill="#0d0d0d"/>
<rect x="263.4" y="271.4" width="1.3" height="1.3" fill="#0d0d0d"/>
<rect x="266.7" y="276.4" width="1.3" height="1.3" fill="#0d0d0d"/>
<rect x="268.4" y="267.2" width="1.3" height="1.3" fill="#0d0d0d"/>
<rect x="262.3" y="270.1" width="1.3" height="1.3" fill="#0d0d0d"/>
<rect x="270.3" y="265.9" width="1.3" height="1.3" fill="#0d0d0d"/>
<rect x="264.4" y="264.0" width="1.3" height="1.3" fill="#0d0d0d"/>
<rect x="264.2" y="259.3" width="1.3" height="1.3" fill="#0d0d0d"/>
<rect x="276.6" y="268.7" width="1.3" height="1.3" fill="#0d0d0d"/>
<rect x="270.7" y="277.1" width="1.3" height="1.3" fill="#0d0d0d"/>
<rect x="265.5" y="273.5" width="1.3" height="1.3" fill="#0d0d0d"/>
<rect x="272.7" y="278.1" width="1.3" height="1.3" fill="#0d0d0d"/>
<rect x="270.2" y="265.8" width="1.3" height="1.3" fill="#0d0d0d"/>
<rect x="265.3" y="270.4" width="1.3" height="1.3" fill="#0d0d0d"/>
<rect x="271.9" y="265.9" width="1.3" height="1.3" fill="#0d0d0d"/>
<rect x="269.3" y="277.2" width="1.3" height="1.3" fill="#0d0d0d"/>
<rect x="269.7" y="270.2" width="1.3" height="1.3" fill="#0d0d0d"/>
<rect x="265.4" y="274.4" width="1.3" height="1.3" fill="#0d0d0d"/>
<rect x="266.3" y="272.5" width="1.3" height="1.3" fill="#0d0d0d"/>
<rect x="265.8" y="267.1" width="1.3" height="1.3" fill="#0d0d0d"/>
<rect x="265.9" y="264.2" width="1.3" height="1.3" fill="#0d0d0d"/>
<rect x="254.0" y="278.5" width="1.3" height="1.3" fill="#0d0d0d"/>
<rect x="248.8" y="280.6" width="1.3" height="1.3" fill="#0d0d0d"/>
<rect x="249.9" y="277.8" width="1.3" height="1.3" fill="#0d0d0d"/>
<rect x="245.2" y="281.7" width="1.3" height="1.3" fill="#0d0d0d"/>
<rect x="258.6" y="284.0" width="1.3" height="1.3" fill="#0d0d0d"/>
<rect x="248.8" y="281.5" width="1.3" height="1.3" fill="#0d0d0d"/>
<rect x="245.8" y="284.0" width="1.3" height="1.3" fill="#0d0d0d"/>
<rect x="257.7" y="283.0" width="1.3" height="1.3" fill="#0d0d0d"/>
<rect x="256.8" y="278.2" width="1.3" height="1.3" fill="#0d0d0d"/>
<rect x="254.4" y="286.2" width="1.3" height="1.3" fill="#0d0d0d"/>
<rect x="246.6" y="280.3" width="1.3" height="1.3" fill="#0d0d0d"/>
<rect x="258.6" y="277.4" width="1.3" height="1.3" fill="#0d0d0d"/>
<rect x="256.8" y="279.0" width="1.3" height="1.3" fill="#0d0d0d"/>
<rect x="250.1" y="279.1" width="1.3" height="1.3" fill="#0d0d0d"/>
<rect x="259.6" y="281.8" width="1.3" height="1.3" fill="#0d0d0d"/>
<rect x="240.0" y="281.7" width="1.3" height="1.3" fill="#0d0d0d"/>
<rect x="258.6" y="285.2" width="1.3" height="1.3" fill="#0d0d0d"/>
<rect x="247.9" y="281.2" width="1.3" height="1.3" fill="#0d0d0d"/>
<rect x="259.9" y="282.1" width="1.3" height="1.3" fill="#0d0d0d"/>
<rect x="240.4" y="286.1" width="1.3" height="1.3" fill="#0d0d0d"/>
<rect x="230.8" y="282.5" width="1.3" height="1.3" fill="#0d0d0d"/>
<rect x="261.1" y="282.8" width="1.3" height="1.3" fill="#0d0d0d"/>
<rect x="248.5" y="284.0" width="1.3" height="1.3" fill="#0d0d0d"/>
<rect x="237.0" y="281.8" width="1.3" height="1.3" fill="#0d0d0d"/>
<rect x="245.8" y="284.2" width="1.3" height="1.3" fill="#0d0d0d"/>
<rect x="250.6" y="282.1" width="1.3" height="1.3" fill="#0d0d0d"/>
<rect x="258.1" y="284.9" width="1.3" height="1.3" fill="#0d0d0d"/>
<rect x="235.0" y="287.8" width="1.3" height="1.3" fill="#0d0d0d"/>
<rect x="250.0" y="280.8" width="1.3" height="1.3" fill="#0d0d0d"/>
<rect x="262.6" y="276.3" width="1.3" height="1.3" fill="#0d0d0d"/>
<rect x="235.1" y="282.6" width="1.3" height="1.3" fill="#0d0d0d"/>
<rect x="240.3" y="279.3" width="1.3" height="1.3" fill="#0d0d0d"/>
<rect x="244.1" y="285.4" width="1.3" height="1.3" fill="#0d0d0d"/>
<rect x="247.1" y="283.9" width="1.3" height="1.3" fill="#0d0d0d"/>
<rect x="253.7" y="281.9" width="1.3" height="1.3" fill="#0d0d0d"/>
<rect x="247.1" y="280.5" width="1.3" height="1.3" fill="#0d0d0d"/>
<rect x="248.9" y="283.8" width="1.3" height="1.3" fill="#0d0d0d"/>
<rect x="245.0" y="281.9" width="1.3" height="1.3" fill="#0d0d0d"/>
<rect x="251.3" y="282.2" width="1.3" height="1.3" fill="#0d0d0d"/>
<rect x="249.7" y="277.8" width="1.3" height="1.3" fill="#0d0d0d"/>
<rect x="250.4" y="278.3" width="1.3" height="1.3" fill="#0d0d0d"/>
<rect x="252.7" y="281.6" width="1.3" height="1.3" fill="#0d0d0d"/>
<rect x="242.6" y="279.2" width="1.3" height="1.3" fill="#0d0d0d"/>
<rect x="255.3" y="281.0" width="1.3" height="1.3" fill="#0d0d0d"/>
<rect x="242.7" y="277.7" width="1.3" height="1.3" fill="#0d0d0d"/>
<rect x="261.1" y="280.8" width="1.3" height="1.3" fill="#0d0d0d"/>
<rect x="238.9" y="284.6" width="1.3" height="1.3" fill="#0d0d0d"/>
<rect x="245.7" y="285.4" width="1.3" height="1.3" fill="#0d0d0d"/>
<rect x="244.4" y="280.3" width="1.3" height="1.3" fill="#0d0d0d"/>
<rect x="254.3" y="283.7" width="1.3" height="1.3" fill="#0d0d0d"/>
<rect x="238.4" y="280.5" width="1.3" height="1.3" fill="#0d0d0d"/>
<rect x="241.4" y="280.8" width="1.3" height="1.3" fill="#0d0d0d"/>
<rect x="234.8" y="280.4" width="1.3" height="1.3" fill="#0d0d0d"/>
<rect x="252.8" y="278.4" width="1.3" height="1.3" fill="#0d0d0d"/>
<rect x="256.0" y="283.1" width="1.3" height="1.3" fill="#0d0d0d"/>
<rect x="253.5" y="283.7" width="1.3" height="1.3" fill="#0d0d0d"/>
<rect x="238.9" y="278.4" width="1.3" height="1.3" fill="#0d0d0d"/>
<rect x="257.0" y="281.8" width="1.3" height="1.3" fill="#0d0d0d"/>
<rect x="250.5" y="284.1" width="1.3" height="1.3" fill="#0d0d0d"/>
<rect x="234.4" y="281.8" width="1.3" height="1.3" fill="#0d0d0d"/>
<rect x="246.0" y="279.7" width="1.3" height="1.3" fill="#0d0d0d"/>
<rect x="238.3" y="281.9" width="1.3" height="1.3" fill="#0d0d0d"/>
<rect x="249.7" y="284.7" width="1.3" height="1.3" fill="#0d0d0d"/>
<rect x="254.6" y="285.1" width="1.3" height="1.3" fill="#0d0d0d"/>
<rect x="242.1" y="282.5" width="1.3" height="1.3" fill="#0d0d0d"/>
<rect x="245.8" y="281.2" width="1.3" height="1.3" fill="#0d0d0d"/>
<rect x="241.5" y="284.9" width="1.3" height="1.3" fill="#0d0d0d"/>
<rect x="260.0" y="282.0" width="1.3" height="1.3" fill="#0d0d0d"/>
<rect x="221.4" y="279.3" width="1.3" height="1.3" fill="#0d0d0d"/>
<rect x="238.5" y="285.6" width="1.3" height="1.3" fill="#0d0d0d"/>
<rect x="256.4" y="281.3" width="1.3" height="1.3" fill="#0d0d0d"/>
<rect x="253.1" y="282.6" width="1.3" height="1.3" fill="#0d0d0d"/>
<rect x="245.4" y="281.6" width="1.3" height="1.3" fill="#0d0d0d"/>
<rect x="237.6" y="279.6" width="1.3" height="1.3" fill="#0d0d0d"/>
<rect x="244.8" y="279.4" width="1.3" height="1.3" fill="#0d0d0d"/>
<rect x="249.7" y="281.2" width="1.3" height="1.3" fill="#0d0d0d"/>
<rect x="238.3" y="282.6" width="1.3" height="1.3" fill="#0d0d0d"/>
<rect x="239.2" y="281.1" width="1.3" height="1.3" fill="#0d0d0d"/>
<rect x="237.5" y="283.3" width="1.3" height="1.3" fill="#0d0d0d"/>
<rect x="247.4" y="281.4" width="1.3" height="1.3" fill="#0d0d0d"/>
<rect x="244.2" y="282.9" width="1.3" height="1.3" fill="#0d0d0d"/>
<rect x="241.8" y="277.8" width="1.3" height="1.3" fill="#0d0d0d"/>
<rect x="261.9" y="282.1" width="1.3" height="1.3" fill="#0d0d0d"/>
<rect x="253.1" y="279.9" width="1.3" height="1.3" fill="#0d0d0d"/>
<rect x="231.4" y="279.3" width="1.3" height="1.3" fill="#0d0d0d"/>
<rect x="251.4" y="280.9" width="1.3" height="1.3" fill="#0d0d0d"/>
<rect x="244.3" y="280.7" width="1.3" height="1.3" fill="#0d0d0d"/>
<rect x="231.6" y="285.5" width="1.3" height="1.3" fill="#0d0d0d"/>
<rect x="237.2" y="279.6" width="1.3" height="1.3" fill="#0d0d0d"/>
<rect x="235.5" y="282.5" width="1.3" height="1.3" fill="#0d0d0d"/>
<rect x="257.3" y="282.2" width="1.3" height="1.3" fill="#0d0d0d"/>
<rect x="249.8" y="281.2" width="1.3" height="1.3" fill="#0d0d0d"/>
<rect x="258.3" y="282.3" width="1.3" height="1.3" fill="#0d0d0d"/>
<rect x="249.8" y="279.5" width="1.3" height="1.3" fill="#0d0d0d"/>
<rect x="257.2" y="283.3" width="1.3" height="1.3" fill="#0d0d0d"/>
<rect x="241.5" y="280.3" width="1.3" height="1.3" fill="#0d0d0d"/>
<rect x="250.0" y="279.0" width="1.3" height="1.3" fill="#0d0d0d"/>
<rect x="246.9" y="280.0" width="1.3" height="1.3" fill="#0d0d0d"/>
<rect x="236.3" y="284.2" width="1.3" height="1.3" fill="#0d0d0d"/>
<rect x="236.3" y="277.8" width="1.3" height="1.3" fill="#0d0d0d"/>
<rect x="259.6" y="280.4" width="1.3" height="1.3" fill="#0d0d0d"/>
<rect x="256.0" y="281.8" width="1.3" height="1.3" fill="#0d0d0d"/>
<rect x="237.0" y="278.2" width="1.3" height="1.3" fill="#0d0d0d"/>
<rect x="244.0" y="282.4" width="1.3" height="1.3" fill="#0d0d0d"/>
<rect x="239.9" y="280.9" width="1.3" height="1.3" fill="#0d0d0d"/>
<rect x="238.5" y="281.5" width="1.3" height="1.3" fill="#0d0d0d"/>
<rect x="247.1" y="281.3" width="1.3" height="1.3" fill="#0d0d0d"/>
<rect x="227.1" y="280.0" width="1.3" height="1.3" fill="#0d0d0d"/>
<rect x="242.0" y="280.6" width="1.3" height="1.3" fill="#0d0d0d"/>
<rect x="228.4" y="280.4" width="1.3" height="1.3" fill="#0d0d0d"/>
<rect x="231.3" y="278.0" width="1.3" height="1.3" fill="#0d0d0d"/>
<rect x="249.1" y="279.6" width="1.3" height="1.3" fill="#0d0d0d"/>
<rect x="255.7" y="284.1" width="1.3" height="1.3" fill="#0d0d0d"/>
<rect x="227.9" y="282.2" width="1.3" height="1.3" fill="#0d0d0d"/>
<rect x="231.1" y="282.9" width="1.3" height="1.3" fill="#0d0d0d"/>
<rect x="255.2" y="284.7" width="1.3" height="1.3" fill="#0d0d0d"/>
<rect x="256.8" y="278.5" width="1.3" height="1.3" fill="#0d0d0d"/>
<rect x="247.6" y="278.3" width="1.3" height="1.3" fill="#0d0d0d"/>
<rect x="249.4" y="283.5" width="1.3" height="1.3" fill="#0d0d0d"/>
<rect x="243.8" y="283.5" width="1.3" height="1.3" fill="#0d0d0d"/>
<rect x="237.6" y="280.5" width="1.3" height="1.3" fill="#0d0d0d"/>
<rect x="234.5" y="277.6" width="1.3" height="1.3" fill="#0d0d0d"/>
<rect x="246.2" y="281.6" width="1.3" height="1.3" fill="#0d0d0d"/>
<rect x="235.7" y="279.7" width="1.3" height="1.3" fill="#0d0d0d"/>
<rect x="231.3" y="283.2" width="1.3" height="1.3" fill="#0d0d0d"/>
<rect x="250.6" y="280.5" width="1.3" height="1.3" fill="#0d0d0d"/>
<rect x="241.7" y="280.6" width="1.3" height="1.3" fill="#0d0d0d"/>
<rect x="237.1" y="282.4" width="1.3" height="1.3" fill="#0d0d0d"/>
<rect x="253.3" y="279.6" width="1.3" height="1.3" fill="#0d0d0d"/>
<rect x="241.9" y="278.4" width="1.3" height="1.3" fill="#0d0d0d"/>
<rect x="240.4" y="281.3" width="1.3" height="1.3" fill="#0d0d0d"/>
<rect x="242.5" y="287.4" width="1.3" height="1.3" fill="#0d0d0d"/>
<rect x="241.5" y="281.0" width="1.3" height="1.3" fill="#0d0d0d"/>
<rect x="242.2" y="282.6" width="1.3" height="1.3" fill="#0d0d0d"/>
<rect x="251.9" y="283.2" width="1.3" height="1.3" fill="#0d0d0d"/>
<rect x="244.9" y="282.1" width="1.3" height="1.3" fill="#0d0d0d"/>
<rect x="223.5" y="281.8" width="1.3" height="1.3" fill="#0d0d0d"/>
<rect x="236.0" y="282.2" width="1.3" height="1.3" fill="#0d0d0d"/>
<rect x="239.9" y="282.9" width="1.3" height="1.3" fill="#0d0d0d"/>
<rect x="242.4" y="283.0" width="1.3" height="1.3" fill="#0d0d0d"/>
<rect x="226.3" y="283.8" width="1.3" height="1.3" fill="#0d0d0d"/>
<rect x="232.3" y="285.2" width="1.3" height="1.3" fill="#0d0d0d"/>
<rect x="231.8" y="281.7" width="1.3" height="1.3" fill="#0d0d0d"/>
<rect x="235.9" y="281.9" width="1.3" height="1.3" fill="#0d0d0d"/>
<rect x="254.9" y="279.6" width="1.3" height="1.3" fill="#0d0d0d"/>
<rect x="248.3" y="283.5" width="1.3" height="1.3" fill="#0d0d0d"/>
<rect x="235.7" y="283.5" width="1.3" height="1.3" fill="#0d0d0d"/>
<rect x="240.0" y="282.9" width="1.3" height="1.3" fill="#0d0d0d"/>
<rect x="235.3" y="288.5" width="1.3" height="1.3" fill="#0d0d0d"/>
<rect x="249.5" y="280.9" width="1.3" height="1.3" fill="#0d0d0d"/>
<rect x="230.5" y="280.8" width="1.3" height="1.3" fill="#0d0d0d"/>
<rect x="233.7" y="281.9" width="1.3" height="1.3" fill="#0d0d0d"/>
<rect x="236.3" y="279.2" width="1.3" height="1.3" fill="#0d0d0d"/>
<rect x="246.8" y="282.3" width="1.3" height="1.3" fill="#0d0d0d"/>
<rect x="245.0" y="282.3" width="1.3" height="1.3" fill="#0d0d0d"/>
<rect x="244.4" y="282.3" width="1.3" height="1.3" fill="#0d0d0d"/>
<rect x="256.3" y="283.7" width="1.3" height="1.3" fill="#0d0d0d"/>
<rect x="250.4" y="285.1" width="1.3" height="1.3" fill="#0d0d0d"/>
<rect x="229.6" y="283.8" width="1.3" height="1.3" fill="#0d0d0d"/>
<rect x="227.4" y="280.0" width="1.3" height="1.3" fill="#0d0d0d"/>
<rect x="236.5" y="282.7" width="1.3" height="1.3" fill="#0d0d0d"/>
<rect x="258.4" y="280.1" width="1.3" height="1.3" fill="#0d0d0d"/>
<rect x="228.0" y="283.7" width="1.3" height="1.3" fill="#0d0d0d"/>
<rect x="243.5" y="278.4" width="1.3" height="1.3" fill="#0d0d0d"/>
<rect x="265.0" y="282.5" width="1.3" height="1.3" fill="#0d0d0d"/>
<rect x="246.7" y="281.9" width="1.3" height="1.3" fill="#0d0d0d"/>
<rect x="242.0" y="282.9" width="1.3" height="1.3" fill="#0d0d0d"/>
<rect x="246.0" y="284.3" width="1.3" height="1.3" fill="#0d0d0d"/>
<rect x="231.0" y="281.6" width="1.3" height="1.3" fill="#0d0d0d"/>
<rect x="255.1" y="279.0" width="1.3" height="1.3" fill="#0d0d0d"/>
<rect x="252.1" y="279.8" width="1.3" height="1.3" fill="#0d0d0d"/>
<rect x="254.3" y="284.6" width="1.3" height="1.3" fill="#0d0d0d"/>
<rect x="251.1" y="281.6" width="1.3" height="1.3" fill="#0d0d0d"/>
<rect x="238.3" y="280.2" width="1.3" height="1.3" fill="#0d0d0d"/>
<rect x="247.8" y="281.6" width="1.3" height="1.3" fill="#0d0d0d"/>
<rect x="236.5" y="281.9" width="1.3" height="1.3" fill="#0d0d0d"/>
<rect x="234.7" y="284.4" width="1.3" height="1.3" fill="#0d0d0d"/>
<rect x="253.0" y="281.7" width="1.3" height="1.3" fill="#0d0d0d"/>
<rect x="255.7" y="281.1" width="1.3" height="1.3" fill="#0d0d0d"/>
<rect x="258.5" y="281.9" width="1.3" height="1.3" fill="#0d0d0d"/>
<rect x="262.7" y="277.9" width="1.3" height="1.3" fill="#0d0d0d"/>
<rect x="244.6" y="283.7" width="1.3" height="1.3" fill="#0d0d0d"/>
<rect x="242.5" y="279.6" width="1.3" height="1.3" fill="#0d0d0d"/>
<rect x="243.4" y="282.1" width="1.3" height="1.3" fill="#0d0d0d"/>
<rect x="247.0" y="282.8" width="1.3" height="1.3" fill="#0d0d0d"/>
<rect x="235.1" y="284.2" width="1.3" height="1.3" fill="#0d0d0d"/>
<rect x="248.1" y="283.4" width="1.3" height="1.3" fill="#0d0d0d"/>
<rect x="253.8" y="282.8" width="1.3" height="1.3" fill="#0d0d0d"/>
<rect x="234.4" y="280.0" width="1.3" height="1.3" fill="#0d0d0d"/>
<rect x="238.2" y="279.4" width="1.3" height="1.3" fill="#0d0d0d"/>
<rect x="239.7" y="277.8" width="1.3" height="1.3" fill="#0d0d0d"/>
<rect x="245.5" y="281.6" width="1.3" height="1.3" fill="#0d0d0d"/>
<rect x="255.2" y="280.5" width="1.3" height="1.3" fill="#0d0d0d"/>
<rect x="261.4" y="281.5" width="1.3" height="1.3" fill="#0d0d0d"/>
<rect x="242.5" y="281.8" width="1.3" height="1.3" fill="#0d0d0d"/>
<rect x="258.8" y="283.9" width="1.3" height="1.3" fill="#0d0d0d"/>
<rect x="248.4" y="281.7" width="1.3" height="1.3" fill="#0d0d0d"/>
<rect x="241.2" y="278.7" width="1.3" height="1.3" fill="#0d0d0d"/>
<rect x="243.8" y="280.9" width="1.3" height="1.3" fill="#0d0d0d"/>
<rect x="260.6" y="280.7" width="1.3" height="1.3" fill="#0d0d0d"/>
<rect x="257.7" y="281.9" width="1.3" height="1.3" fill="#0d0d0d"/>
<rect x="242.2" y="283.1" width="1.3" height="1.3" fill="#0d0d0d"/>
<rect x="262.2" y="282.5" width="1.3" height="1.3" fill="#0d0d0d"/>
<rect x="249.0" y="281.2" width="1.3" height="1.3" fill="#0d0d0d"/>
<rect x="246.6" y="281.4" width="1.3" height="1.3" fill="#0d0d0d"/>
<rect x="244.4" y="282.1" width="1.3" height="1.3" fill="#0d0d0d"/>
<rect x="247.9" y="282.9" width="1.3" height="1.3" fill="#0d0d0d"/>
<rect x="235.9" y="280.7" width="1.3" height="1.3" fill="#0d0d0d"/>
<rect x="261.0" y="280.9" width="1.3" height="1.3" fill="#0d0d0d"/>
<rect x="248.6" y="282.0" width="1.3" height="1.3" fill="#0d0d0d"/>
<rect x="242.2" y="285.8" width="1.3" height="1.3" fill="#0d0d0d"/>
<rect x="251.2" y="277.5" width="1.3" height="1.3" fill="#0d0d0d"/>
<rect x="255.6" y="278.9" width="1.3" height="1.3" fill="#0d0d0d"/>
<rect x="228.4" y="280.0" width="1.3" height="1.3" fill="#0d0d0d"/>
<rect x="253.1" y="277.8" width="1.3" height="1.3" fill="#0d0d0d"/>
<rect x="253.9" y="279.7" width="1.3" height="1.3" fill="#0d0d0d"/>
<rect x="256.7" y="283.3" width="1.3" height="1.3" fill="#0d0d0d"/>
<rect x="252.6" y="280.6" width="1.3" height="1.3" fill="#0d0d0d"/>
<rect x="256.4" y="280.3" width="1.3" height="1.3" fill="#0d0d0d"/>
<rect x="235.9" y="282.7" width="1.3" height="1.3" fill="#0d0d0d"/>
<rect x="235.5" y="281.7" width="1.3" height="1.3" fill="#0d0d0d"/>
<rect x="244.1" y="279.9" width="1.3" height="1.3" fill="#0d0d0d"/>
<rect x="232.7" y="283.0" width="1.3" height="1.3" fill="#0d0d0d"/>
<rect x="260.5" y="281.0" width="1.3" height="1.3" fill="#0d0d0d"/>
<rect x="236.7" y="280.9" width="1.3" height="1.3" fill="#0d0d0d"/>
<rect x="254.7" y="281.9" width="1.3" height="1.3" fill="#0d0d0d"/>
<rect x="241.9" y="285.5" width="1.3" height="1.3" fill="#0d0d0d"/>
<rect x="245.0" y="281.5" width="1.3" height="1.3" fill="#0d0d0d"/>
<rect x="253.1" y="280.2" width="1.3" height="1.3" fill="#0d0d0d"/>
<rect x="248.1" y="282.5" width="1.3" height="1.3" fill="#0d0d0d"/>
<rect x="251.8" y="282.4" width="1.3" height="1.3" fill="#0d0d0d"/>
<rect x="258.3" y="283.4" width="1.3" height="1.3" fill="#0d0d0d"/>
<rect x="251.9" y="283.5" width="1.3" height="1.3" fill="#0d0d0d"/>
<rect x="239.7" y="279.6" width="1.3" height="1.3" fill="#0d0d0d"/>
<rect x="242.7" y="284.1" width="1.3" height="1.3" fill="#0d0d0d"/>
<rect x="233.3" y="282.4" width="1.3" height="1.3" fill="#0d0d0d"/>
<rect x="238.4" y="280.6" width="1.3" height="1.3" fill="#0d0d0d"/>
<rect x="237.5" y="277.6" width="1.3" height="1.3" fill="#0d0d0d"/>
<rect x="258.3" y="281.0" width="1.3" height="1.3" fill="#0d0d0d"/>
<rect x="245.3" y="281.7" width="1.3" height="1.3" fill="#0d0d0d"/>
<rect x="219.3" y="284.6" width="1.3" height="1.3" fill="#0d0d0d"/>
<rect x="260.2" y="281.4" width="1.3" height="1.3" fill="#0d0d0d"/>
<rect x="247.6" y="283.1" width="1.3" height="1.3" fill="#0d0d0d"/>
<rect x="251.0" y="283.7" width="1.3" height="1.3" fill="#0d0d0d"/>
<rect x="251.6" y="281.2" width="1.3" height="1.3" fill="#0d0d0d"/>
<rect x="250.2" y="279.0" width="1.3" height="1.3" fill="#0d0d0d"/>
<rect x="244.2" y="284.2" width="1.3" height="1.3" fill="#0d0d0d"/>
<rect x="258.1" y="282.7" width="1.3" height="1.3" fill="#0d0d0d"/>
<rect x="252.3" y="280.5" width="1.3" height="1.3" fill="#0d0d0d"/>
<rect x="253.1" y="281.3" width="1.3" height="1.3" fill="#0d0d0d"/>
<rect x="236.5" y="284.5" width="1.3" height="1.3" fill="#0d0d0d"/>
<rect x="245.9" y="282.3" width="1.3" height="1.3" fill="#0d0d0d"/>
<rect x="238.2" y="260.0" width="1.3" height="1.3" fill="#0d0d0d"/>
<rect x="225.9" y="260.5" width="1.3" height="1.3" fill="#0d0d0d"/>
<rect x="242.6" y="260.5" width="1.3" height="1.3" fill="#0d0d0d"/>
<rect x="232.4" y="259.6" width="1.3" height="1.3" fill="#0d0d0d"/>
<rect x="252.0" y="259.3" width="1.3" height="1.3" fill="#0d0d0d"/>
<rect x="249.5" y="259.7" width="1.3" height="1.3" fill="#0d0d0d"/>
<rect x="240.9" y="259.5" width="1.3" height="1.3" fill="#0d0d0d"/>
<rect x="218.1" y="258.8" width="1.3" height="1.3" fill="#0d0d0d"/>
<rect x="244.2" y="258.8" width="1.3" height="1.3" fill="#0d0d0d"/>
<rect x="245.9" y="258.4" width="1.3" height="1.3" fill="#0d0d0d"/>
<rect x="257.4" y="259.8" width="1.3" height="1.3" fill="#0d0d0d"/>
<rect x="240.6" y="259.4" width="1.3" height="1.3" fill="#0d0d0d"/>
<rect x="238.1" y="259.3" width="1.3" height="1.3" fill="#0d0d0d"/>
<rect x="236.9" y="260.6" width="1.3" height="1.3" fill="#0d0d0d"/>
<rect x="244.9" y="259.3" width="1.3" height="1.3" fill="#0d0d0d"/>
<rect x="229.2" y="260.6" width="1.3" height="1.3" fill="#0d0d0d"/>
<rect x="236.0" y="258.2" width="1.3" height="1.3" fill="#0d0d0d"/>
<rect x="233.7" y="259.4" width="1.3" height="1.3" fill="#0d0d0d"/>
<rect x="220.8" y="259.9" width="1.3" height="1.3" fill="#0d0d0d"/>
<rect x="221.7" y="259.4" width="1.3" height="1.3" fill="#0d0d0d"/>
<rect x="238.0" y="260.0" width="1.3" height="1.3" fill="#0d0d0d"/>
<rect x="224.7" y="261.0" width="1.3" height="1.3" fill="#0d0d0d"/>
<rect x="246.8" y="258.6" width="1.3" height="1.3" fill="#0d0d0d"/>
<rect x="252.3" y="258.9" width="1.3" height="1.3" fill="#0d0d0d"/>
<rect x="233.8" y="259.6" width="1.3" height="1.3" fill="#0d0d0d"/>
<rect x="245.9" y="259.8" width="1.3" height="1.3" fill="#0d0d0d"/>
<rect x="256.2" y="259.4" width="1.3" height="1.3" fill="#0d0d0d"/>
<rect x="242.5" y="259.6" width="1.3" height="1.3" fill="#0d0d0d"/>
<rect x="242.3" y="260.1" width="1.3" height="1.3" fill="#0d0d0d"/>
<rect x="221.4" y="261.3" width="1.3" height="1.3" fill="#0d0d0d"/>
<rect x="232.3" y="259.5" width="1.3" height="1.3" fill="#0d0d0d"/>
<rect x="224.5" y="259.2" width="1.3" height="1.3" fill="#0d0d0d"/>
<rect x="236.3" y="259.6" width="1.3" height="1.3" fill="#0d0d0d"/>
<rect x="218.1" y="259.5" width="1.3" height="1.3" fill="#0d0d0d"/>
<rect x="235.6" y="259.3" width="1.3" height="1.3" fill="#0d0d0d"/>
<rect x="232.0" y="260.8" width="1.3" height="1.3" fill="#0d0d0d"/>
<rect x="244.2" y="259.2" width="1.3" height="1.3" fill="#0d0d0d"/>
<rect x="255.2" y="259.5" width="1.3" height="1.3" fill="#0d0d0d"/>
<rect x="253.3" y="260.0" width="1.3" height="1.3" fill="#0d0d0d"/>
<rect x="253.8" y="259.7" width="1.3" height="1.3" fill="#0d0d0d"/>
<rect x="257.2" y="259.2" width="1.3" height="1.3" fill="#0d0d0d"/>
<rect x="248.9" y="260.5" width="1.3" height="1.3" fill="#0d0d0d"/>
<rect x="241.6" y="258.9" width="1.3" height="1.3" fill="#0d0d0d"/>
<rect x="224.2" y="259.7" width="1.3" height="1.3" fill="#0d0d0d"/>
<rect x="242.7" y="259.9" width="1.3" height="1.3" fill="#0d0d0d"/>
<rect x="216.5" y="262.0" width="1.3" height="1.3" fill="#0d0d0d"/>
<rect x="217.7" y="276.0" width="1.3" height="1.3" fill="#0d0d0d"/>
<rect x="216.7" y="262.2" width="1.3" height="1.3" fill="#0d0d0d"/>
<rect x="217.1" y="281.1" width="1.3" height="1.3" fill="#0d0d0d"/>
<rect x="216.3" y="276.4" width="1.3" height="1.3" fill="#0d0d0d"/>
<rect x="216.7" y="297.4" width="1.3" height="1.3" fill="#0d0d0d"/>
<rect x="215.7" y="291.8" width="1.3" height="1.3" fill="#0d0d0d"/>
<rect x="215.6" y="260.9" width="1.3" height="1.3" fill="#0d0d0d"/>
<rect x="217.7" y="290.4" width="1.3" height="1.3" fill="#0d0d0d"/>
<rect x="217.2" y="281.5" width="1.3" height="1.3" fill="#0d0d0d"/>
<rect x="216.2" y="306.9" width="1.3" height="1.3" fill="#0d0d0d"/>
<rect x="216.6" y="271.2" width="1.3" height="1.3" fill="#0d0d0d"/>
<rect x="217.3" y="276.0" width="1.3" height="1.3" fill="#0d0d0d"/>
<rect x="216.9" y="290.9" width="1.3" height="1.3" fill="#0d0d0d"/>
<rect x="217.2" y="290.2" width="1.3" height="1.3" fill="#0d0d0d"/>
<rect x="217.6" y="308.5" width="1.3" height="1.3" fill="#0d0d0d"/>
<rect x="217.0" y="298.0" width="1.3" height="1.3" fill="#0d0d0d"/>
<rect x="218.0" y="303.6" width="1.3" height="1.3" fill="#0d0d0d"/>
<rect x="233.8" y="301.3" width="1.3" height="1.3" fill="#0d0d0d"/>
<rect x="238.7" y="306.2" width="1.3" height="1.3" fill="#0d0d0d"/>
<rect x="228.3" y="303.4" width="1.3" height="1.3" fill="#0d0d0d"/>
<rect x="226.6" y="294.9" width="1.3" height="1.3" fill="#0d0d0d"/>
<rect x="240.9" y="299.6" width="1.3" height="1.3" fill="#0d0d0d"/>
<rect x="232.0" y="293.6" width="1.3" height="1.3" fill="#0d0d0d"/>
<rect x="229.9" y="291.8" width="1.3" height="1.3" fill="#0d0d0d"/>
<rect x="233.8" y="287.5" width="1.3" height="1.3" fill="#0d0d0d"/>
<rect x="241.3" y="298.3" width="1.3" height="1.3" fill="#0d0d0d"/>
<rect x="248.9" y="300.6" width="1.3" height="1.3" fill="#0d0d0d"/>
<rect x="250.5" y="303.2" width="1.3" height="1.3" fill="#0d0d0d"/>
<rect x="256.7" y="307.2" width="1.3" height="1.3" fill="#0d0d0d"/>
<rect x="255.3" y="310.7" width="1.3" height="1.3" fill="#0d0d0d"/>
<rect x="226.0" y="287.6" width="1.3" height="1.3" fill="#0d0d0d"/>
<rect x="237.4" y="297.3" width="1.3" height="1.3" fill="#0d0d0d"/>
<rect x="241.7" y="301.2" width="1.3" height="1.3" fill="#0d0d0d"/>
<rect x="226.8" y="295.3" width="1.3" height="1.3" fill="#0d0d0d"/>
<rect x="233.2" y="293.6" width="1.3" height="1.3" fill="#0d0d0d"/>
<rect x="230.4" y="289.3" width="1.3" height="1.3" fill="#0d0d0d"/>
<rect x="222.5" y="286.0" width="1.3" height="1.3" fill="#0d0d0d"/>
<rect x="233.2" y="290.5" width="1.3" height="1.3" fill="#0d0d0d"/>
<rect x="240.9" y="300.9" width="1.3" height="1.3" fill="#0d0d0d"/>
<rect x="238.8" y="295.1" width="1.3" height="1.3" fill="#0d0d0d"/>
<rect x="241.6" y="291.3" width="1.3" height="1.3" fill="#0d0d0d"/>
<rect x="229.5" y="291.0" width="1.3" height="1.3" fill="#0d0d0d"/>
<rect x="228.2" y="297.1" width="1.3" height="1.3" fill="#0d0d0d"/>
<rect x="233.7" y="290.2" width="1.3" height="1.3" fill="#0d0d0d"/>
<rect x="251.4" y="304.8" width="1.3" height="1.3" fill="#0d0d0d"/>
<rect x="232.5" y="284.3" width="1.3" height="1.3" fill="#0d0d0d"/>
<rect x="224.0" y="295.2" width="1.3" height="1.3" fill="#0d0d0d"/>
<rect x="255.8" y="307.4" width="1.3" height="1.3" fill="#0d0d0d"/>
<rect x="238.4" y="286.4" width="1.3" height="1.3" fill="#0d0d0d"/>
<rect x="236.3" y="290.7" width="1.3" height="1.3" fill="#0d0d0d"/>
<rect x="249.0" y="306.6" width="1.3" height="1.3" fill="#0d0d0d"/>
<rect x="237.1" y="290.8" width="1.3" height="1.3" fill="#0d0d0d"/>
<rect x="230.7" y="289.1" width="1.3" height="1.3" fill="#0d0d0d"/>
<rect x="229.7" y="288.7" width="1.3" height="1.3" fill="#0d0d0d"/>
<rect x="247.8" y="302.3" width="1.3" height="1.3" fill="#0d0d0d"/>
<rect x="240.5" y="293.9" width="1.3" height="1.3" fill="#0d0d0d"/>
<rect x="236.5" y="292.6" width="1.3" height="1.3" fill="#0d0d0d"/>
<rect x="249.1" y="301.8" width="1.3" height="1.3" fill="#0d0d0d"/>
<rect x="228.3" y="288.5" width="1.3" height="1.3" fill="#0d0d0d"/>
<rect x="249.0" y="295.1" width="1.3" height="1.3" fill="#0d0d0d"/>
<rect x="247.0" y="296.9" width="1.3" height="1.3" fill="#0d0d0d"/>
<rect x="247.4" y="305.9" width="1.3" height="1.3" fill="#0d0d0d"/>
<rect x="224.3" y="294.3" width="1.3" height="1.3" fill="#0d0d0d"/>
<rect x="242.7" y="308.3" width="1.3" height="1.3" fill="#0d0d0d"/>
<rect x="244.4" y="308.8" width="1.3" height="1.3" fill="#0d0d0d"/>
<rect x="229.2" y="292.8" width="1.3" height="1.3" fill="#0d0d0d"/>
<rect x="235.7" y="293.5" width="1.3" height="1.3" fill="#0d0d0d"/>
<rect x="247.0" y="304.7" width="1.3" height="1.3" fill="#0d0d0d"/>
<rect x="247.9" y="307.6" width="1.3" height="1.3" fill="#0d0d0d"/>
<rect x="237.5" y="291.1" width="1.3" height="1.3" fill="#0d0d0d"/>
<rect x="251.9" y="298.3" width="1.3" height="1.3" fill="#0d0d0d"/>
<rect x="243.2" y="296.7" width="1.3" height="1.3" fill="#0d0d0d"/>
<rect x="244.3" y="298.0" width="1.3" height="1.3" fill="#0d0d0d"/>
<rect x="253.3" y="305.1" width="1.3" height="1.3" fill="#0d0d0d"/>
<rect x="231.2" y="290.9" width="1.3" height="1.3" fill="#0d0d0d"/>
<rect x="233.5" y="289.0" width="1.3" height="1.3" fill="#0d0d0d"/>
<rect x="227.0" y="283.1" width="1.3" height="1.3" fill="#0d0d0d"/>
<rect x="228.9" y="281.7" width="1.3" height="1.3" fill="#0d0d0d"/>
<rect x="230.5" y="291.6" width="1.3" height="1.3" fill="#0d0d0d"/>
<rect x="241.9" y="293.8" width="1.3" height="1.3" fill="#0d0d0d"/>
<rect x="238.3" y="297.9" width="1.3" height="1.3" fill="#0d0d0d"/>
<rect x="237.2" y="303.7" width="1.3" height="1.3" fill="#0d0d0d"/>
<rect x="239.3" y="294.8" width="1.3" height="1.3" fill="#0d0d0d"/>
<rect x="236.0" y="287.3" width="1.3" height="1.3" fill="#0d0d0d"/>
<rect x="236.0" y="293.4" width="1.3" height="1.3" fill="#0d0d0d"/>
<rect x="242.1" y="299.9" width="1.3" height="1.3" fill="#0d0d0d"/>
<rect x="228.7" y="290.6" width="1.3" height="1.3" fill="#0d0d0d"/>
<rect x="228.2" y="287.1" width="1.3" height="1.3" fill="#0d0d0d"/>
<rect x="243.5" y="293.5" width="1.3" height="1.3" fill="#0d0d0d"/>
<rect x="227.6" y="283.0" width="1.3" height="1.3" fill="#0d0d0d"/>
<rect x="240.8" y="285.7" width="1.3" height="1.3" fill="#0d0d0d"/>
<rect x="234.3" y="289.7" width="1.3" height="1.3" fill="#0d0d0d"/>
<rect x="243.6" y="291.2" width="1.3" height="1.3" fill="#0d0d0d"/>
<rect x="236.9" y="288.3" width="1.3" height="1.3" fill="#0d0d0d"/>
<rect x="250.7" y="300.3" width="1.3" height="1.3" fill="#0d0d0d"/>
<rect x="238.7" y="298.5" width="1.3" height="1.3" fill="#0d0d0d"/>
<rect x="231.6" y="290.5" width="1.3" height="1.3" fill="#0d0d0d"/>
<rect x="229.4" y="295.3" width="1.3" height="1.3" fill="#0d0d0d"/>
<rect x="234.7" y="288.3" width="1.3" height="1.3" fill="#0d0d0d"/>
<rect x="249.9" y="301.1" width="1.3" height="1.3" fill="#0d0d0d"/>
<rect x="237.3" y="294.0" width="1.3" height="1.3" fill="#0d0d0d"/>
<rect x="228.0" y="287.5" width="1.3" height="1.3" fill="#0d0d0d"/>
<rect x="234.9" y="295.4" width="1.3" height="1.3" fill="#0d0d0d"/>
<rect x="236.1" y="298.1" width="1.3" height="1.3" fill="#0d0d0d"/>
<rect x="253.9" y="314.4" width="1.3" height="1.3" fill="#0d0d0d"/>
<rect x="230.9" y="297.4" width="1.3" height="1.3" fill="#0d0d0d"/>
<rect x="228.6" y="290.1" width="1.3" height="1.3" fill="#0d0d0d"/>
<rect x="224.4" y="290.9" width="1.3" height="1.3" fill="#0d0d0d"/>
<rect x="247.6" y="298.4" width="1.3" height="1.3" fill="#0d0d0d"/>
<rect x="235.0" y="286.1" width="1.3" height="1.3" fill="#0d0d0d"/>
<rect x="230.7" y="280.3" width="1.3" height="1.3" fill="#0d0d0d"/>
<rect x="229.0" y="286.7" width="1.3" height="1.3" fill="#0d0d0d"/>
<rect x="235.6" y="292.6" width="1.3" height="1.3" fill="#0d0d0d"/>
<rect x="238.5" y="303.5" width="1.3" height="1.3" fill="#0d0d0d"/>
<rect x="232.7" y="283.4" width="1.3" height="1.3" fill="#0d0d0d"/>
<rect x="236.6" y="295.0" width="1.3" height="1.3" fill="#0d0d0d"/>
<rect x="234.1" y="294.2" width="1.3" height="1.3" fill="#0d0d0d"/>
<rect x="236.6" y="289.3" width="1.3" height="1.3" fill="#0d0d0d"/>
<rect x="238.8" y="300.7" width="1.3" height="1.3" fill="#0d0d0d"/>
<rect x="223.2" y="286.6" width="1.3" height="1.3" fill="#0d0d0d"/>
<rect x="231.7" y="296.6" width="1.3" height="1.3" fill="#0d0d0d"/>
<rect x="237.4" y="286.3" width="1.3" height="1.3" fill="#0d0d0d"/>
<rect x="233.2" y="284.1" width="1.3" height="1.3" fill="#0d0d0d"/>
<rect x="228.6" y="280.3" width="1.3" height="1.3" fill="#0d0d0d"/>
<rect x="233.1" y="295.7" width="1.3" height="1.3" fill="#0d0d0d"/>
<rect x="231.4" y="293.3" width="1.3" height="1.3" fill="#0d0d0d"/>
<rect x="226.0" y="298.0" width="1.3" height="1.3" fill="#0d0d0d"/>
<rect x="228.0" y="293.8" width="1.3" height="1.3" fill="#0d0d0d"/>
<rect x="228.0" y="300.0" width="1.3" height="1.3" fill="#0d0d0d"/>
<rect x="225.7" y="291.7" width="1.3" height="1.3" fill="#0d0d0d"/>
<rect x="230.4" y="298.7" width="1.3" height="1.3" fill="#0d0d0d"/>
<rect x="224.0" y="291.2" width="1.3" height="1.3" fill="#0d0d0d"/>
<rect x="224.4" y="298.8" width="1.3" height="1.3" fill="#0d0d0d"/>
<rect x="225.5" y="305.7" width="1.3" height="1.3" fill="#0d0d0d"/>
<rect x="226.5" y="291.6" width="1.3" height="1.3" fill="#0d0d0d"/>
<rect x="227.3" y="292.5" width="1.3" height="1.3" fill="#0d0d0d"/>
<rect x="225.5" y="294.3" width="1.3" height="1.3" fill="#0d0d0d"/>
<rect x="223.4" y="294.8" width="1.3" height="1.3" fill="#0d0d0d"/>
<rect x="227.8" y="300.5" width="1.3" height="1.3" fill="#0d0d0d"/>
<rect x="227.7" y="304.3" width="1.3" height="1.3" fill="#0d0d0d"/>
<rect x="229.3" y="306.5" width="1.3" height="1.3" fill="#0d0d0d"/>
<rect x="224.7" y="301.5" width="1.3" height="1.3" fill="#0d0d0d"/>
<rect x="227.5" y="295.9" width="1.3" height="1.3" fill="#0d0d0d"/>
<rect x="231.2" y="293.7" width="1.3" height="1.3" fill="#0d0d0d"/>
<rect x="227.2" y="311.1" width="1.3" height="1.3" fill="#0d0d0d"/>
<rect x="227.4" y="299.0" width="1.3" height="1.3" fill="#0d0d0d"/>
<rect x="225.1" y="308.4" width="1.3" height="1.3" fill="#0d0d0d"/>
<rect x="226.6" y="303.1" width="1.3" height="1.3" fill="#0d0d0d"/>
<rect x="226.9" y="305.0" width="1.3" height="1.3" fill="#0d0d0d"/>
<rect x="226.8" y="291.2" width="1.3" height="1.3" fill="#0d0d0d"/>
<rect x="223.3" y="315.5" width="1.3" height="1.3" fill="#0d0d0d"/>
<rect x="225.6" y="306.7" width="1.3" height="1.3" fill="#0d0d0d"/>
<rect x="233.2" y="287.8" width="1.3" height="1.3" fill="#0d0d0d"/>
<rect x="225.2" y="302.6" width="1.3" height="1.3" fill="#0d0d0d"/>
<rect x="225.0" y="293.7" width="1.3" height="1.3" fill="#0d0d0d"/>
<rect x="224.3" y="296.9" width="1.3" height="1.3" fill="#0d0d0d"/>
<rect x="227.9" y="303.3" width="1.3" height="1.3" fill="#0d0d0d"/>
<rect x="225.7" y="297.5" width="1.3" height="1.3" fill="#0d0d0d"/>
<rect x="226.7" y="299.8" width="1.3" height="1.3" fill="#0d0d0d"/>
<rect x="226.4" y="302.6" width="1.3" height="1.3" fill="#0d0d0d"/>
<rect x="222.0" y="300.4" width="1.3" height="1.3" fill="#0d0d0d"/>
<rect x="228.2" y="303.6" width="1.3" height="1.3" fill="#0d0d0d"/>
<rect x="226.3" y="304.3" width="1.3" height="1.3" fill="#0d0d0d"/>
<rect x="228.2" y="300.9" width="1.3" height="1.3" fill="#0d0d0d"/>
<rect x="225.2" y="287.0" width="1.3" height="1.3" fill="#0d0d0d"/>
<rect x="231.6" y="300.1" width="1.3" height="1.3" fill="#0d0d0d"/>
<rect x="228.5" y="288.3" width="1.3" height="1.3" fill="#0d0d0d"/>
<rect x="227.4" y="296.2" width="1.3" height="1.3" fill="#0d0d0d"/>
<rect x="226.0" y="312.5" width="1.3" height="1.3" fill="#0d0d0d"/>
<rect x="223.0" y="298.0" width="1.3" height="1.3" fill="#0d0d0d"/>
<rect x="227.2" y="313.0" width="1.3" height="1.3" fill="#0d0d0d"/>
<rect x="228.5" y="296.7" width="1.3" height="1.3" fill="#0d0d0d"/>
<rect x="274.7" y="325.3" width="1.3" height="1.3" fill="#0d0d0d"/>
<rect x="237.1" y="297.9" width="1.3" height="1.3" fill="#0d0d0d"/>
<rect x="284.2" y="314.5" width="1.3" height="1.3" fill="#0d0d0d"/>
<rect x="254.0" y="295.4" width="1.3" height="1.3" fill="#0d0d0d"/>
<rect x="283.9" y="291.0" width="1.3" height="1.3" fill="#0d0d0d"/>
<rect x="289.1" y="290.7" width="1.3" height="1.3" fill="#0d0d0d"/>
<rect x="252.6" y="307.3" width="1.3" height="1.3" fill="#0d0d0d"/>
<rect x="266.6" y="318.8" width="1.3" height="1.3" fill="#0d0d0d"/>
<rect x="257.1" y="323.0" width="1.3" height="1.3" fill="#0d0d0d"/>
<rect x="252.2" y="302.2" width="1.3" height="1.3" fill="#0d0d0d"/>
<rect x="288.9" y="301.0" width="1.3" height="1.3" fill="#0d0d0d"/>
<rect x="261.6" y="291.8" width="1.3" height="1.3" fill="#0d0d0d"/>
<rect x="278.3" y="308.1" width="1.3" height="1.3" fill="#0d0d0d"/>
<rect x="281.7" y="313.6" width="1.3" height="1.3" fill="#0d0d0d"/>
<rect x="257.2" y="291.2" width="1.3" height="1.3" fill="#0d0d0d"/>
<rect x="253.6" y="306.9" width="1.3" height="1.3" fill="#0d0d0d"/>
<rect x="255.3" y="305.6" width="1.3" height="1.3" fill="#0d0d0d"/>
<rect x="247.5" y="297.4" width="1.3" height="1.3" fill="#0d0d0d"/>
<rect x="224.5" y="309.3" width="1.3" height="1.3" fill="#0d0d0d"/>
<rect x="218.8" y="312.0" width="1.3" height="1.3" fill="#0d0d0d"/>
<rect x="223.9" y="311.2" width="1.3" height="1.3" fill="#0d0d0d"/>
<rect x="221.1" y="311.3" width="1.3" height="1.3" fill="#0d0d0d"/>
<rect x="218.7" y="310.3" width="1.3" height="1.3" fill="#0d0d0d"/>
<rect x="220.9" y="311.2" width="1.3" height="1.3" fill="#0d0d0d"/>
<rect x="218.5" y="311.8" width="1.3" height="1.3" fill="#0d0d0d"/>
<rect x="225.0" y="309.1" width="1.3" height="1.3" fill="#0d0d0d"/>
<rect x="220.7" y="307.3" width="1.3" height="1.3" fill="#0d0d0d"/>
<rect x="225.3" y="311.0" width="1.3" height="1.3" fill="#0d0d0d"/>
<rect x="221.0" y="310.6" width="1.3" height="1.3" fill="#0d0d0d"/>
<rect x="222.4" y="312.7" width="1.3" height="1.3" fill="#0d0d0d"/>
<rect x="220.9" y="309.9" width="1.3" height="1.3" fill="#0d0d0d"/>
<rect x="219.5" y="312.8" width="1.3" height="1.3" fill="#0d0d0d"/>
<rect x="226.5" y="310.3" width="1.3" height="1.3" fill="#0d0d0d"/>
<rect x="224.9" y="308.6" width="1.3" height="1.3" fill="#0d0d0d"/>
<rect x="223.0" y="309.4" width="1.3" height="1.3" fill="#0d0d0d"/>
<rect x="221.3" y="311.9" width="1.3" height="1.3" fill="#0d0d0d"/>
<g filter="url(#soft)">
<rect x="217.80" y="281.00" width="8.80" height="30.50" rx="4.30" fill="rgb(185,185,185)" stroke="#808080" stroke-width="0.45"/>
<rect x="218.85" y="285.75" width="6.60" height="22.88" rx="3.22" fill="rgb(204,204,204)" stroke="#808080" stroke-width="0.45"/>
<rect x="219.90" y="290.50" width="4.40" height="15.25" rx="2.15" fill="rgb(224,224,224)" stroke="#808080" stroke-width="0.45"/>
<rect x="220.95" y="295.25" width="2.20" height="7.62" rx="1.07" fill="rgb(244,244,244)" stroke="#808080" stroke-width="0.45"/>
</g>
<g filter="url(#soft)">
<rect x="222.50" y="261.50" width="41.00" height="17.00" rx="8.50" fill="rgb(212,212,212)" stroke="#9a9a9a" stroke-width="0.45"/>
<rect x="225.92" y="262.75" width="34.17" height="14.17" rx="7.08" fill="rgb(219,219,219)" stroke="#9a9a9a" stroke-width="0.45"/>
<rect x="229.33" y="264.00" width="27.33" height="11.33" rx="5.67" fill="rgb(226,226,226)" stroke="#9a9a9a" stroke-width="0.45"/>
<rect x="232.75" y="265.25" width="20.50" height="8.50" rx="4.25" fill="rgb(233,233,233)" stroke="#9a9a9a" stroke-width="0.45"/>
<rect x="236.17" y="266.50" width="13.67" height="5.67" rx="2.83" fill="rgb(240,240,240)" stroke="#9a9a9a" stroke-width="0.45"/>
<rect x="239.58" y="267.75" width="6.83" height="2.83" rx="1.42" fill="rgb(248,248,248)" stroke="#9a9a9a" stroke-width="0.45"/>
</g>
<g filter="url(#soft)">
<rect x="217.60" y="260.80" width="15.20" height="22.60" rx="7.00" fill="rgb(168,168,168)" stroke="#777777" stroke-width="0.45"/>
<rect x="218.68" y="262.24" width="12.16" height="18.08" rx="5.60" fill="rgb(186,186,186)" stroke="#777777" stroke-width="0.45"/>
<rect x="219.76" y="263.68" width="9.12" height="13.56" rx="4.20" fill="rgb(205,205,205)" stroke="#777777" stroke-width="0.45"/>
<rect x="220.84" y="265.12" width="6.08" height="9.04" rx="2.80" fill="rgb(223,223,223)" stroke="#777777" stroke-width="0.45"/>
<rect x="221.92" y="266.56" width="3.04" height="4.52" rx="1.40" fill="rgb(242,242,242)" stroke="#777777" stroke-width="0.45"/>
</g>
<path d="M232.5,228.1 V330.8 M203.5,286.5 H306.8" stroke="#222" stroke-width="1.1"/>
<text x="205.29999999999998" y="243.8" font-size="11.8" font-weight="bold" text-anchor="start" fill="#111" stroke="#111" stroke-width="0.6" >57.3</text>
<text x="268.9" y="243.8" font-size="11.8" font-weight="bold" text-anchor="start" fill="#111" stroke="#111" stroke-width="0.6" >29.5</text>
<text x="205.7" y="321.3" font-size="11.8" font-weight="bold" text-anchor="start" fill="#111" stroke="#111" stroke-width="0.6" >11.6</text>
<text x="269.59999999999997" y="321.0" font-size="11.8" font-weight="bold" text-anchor="start" fill="#111" stroke="#111" stroke-width="0.6" >1.54</text>
<rect x="89.2" y="354.6" width="103.90" height="103.40" fill="#fff" stroke="#9a9a9a" stroke-width="0.9"/>
<path d="M86.40,364.40 H89.2" stroke="#444" stroke-width="0.8"/>
<path d="M87.90,366.10 H89.2" stroke="#666" stroke-width="0.55"/>
<path d="M87.90,367.80 H89.2" stroke="#666" stroke-width="0.55"/>
<path d="M87.90,369.50 H89.2" stroke="#666" stroke-width="0.55"/>
<path d="M87.90,371.20 H89.2" stroke="#666" stroke-width="0.55"/>
<path d="M87.90,372.90 H89.2" stroke="#666" stroke-width="0.55"/>
<path d="M87.90,374.60 H89.2" stroke="#666" stroke-width="0.55"/>
<path d="M87.90,376.30 H89.2" stroke="#666" stroke-width="0.55"/>
<path d="M87.90,378.00 H89.2" stroke="#666" stroke-width="0.55"/>
<path d="M86.40,379.80 H89.2" stroke="#444" stroke-width="0.8"/>
<path d="M87.90,381.50 H89.2" stroke="#666" stroke-width="0.55"/>
<path d="M87.90,383.20 H89.2" stroke="#666" stroke-width="0.55"/>
<path d="M87.90,384.90 H89.2" stroke="#666" stroke-width="0.55"/>
<path d="M87.90,386.60 H89.2" stroke="#666" stroke-width="0.55"/>
<path d="M87.90,388.30 H89.2" stroke="#666" stroke-width="0.55"/>
<path d="M87.90,390.00 H89.2" stroke="#666" stroke-width="0.55"/>
<path d="M87.90,391.70 H89.2" stroke="#666" stroke-width="0.55"/>
<path d="M87.90,393.40 H89.2" stroke="#666" stroke-width="0.55"/>
<path d="M86.40,395.20 H89.2" stroke="#444" stroke-width="0.8"/>
<path d="M87.90,396.90 H89.2" stroke="#666" stroke-width="0.55"/>
<path d="M87.90,398.60 H89.2" stroke="#666" stroke-width="0.55"/>
<path d="M87.90,400.30 H89.2" stroke="#666" stroke-width="0.55"/>
<path d="M87.90,402.00 H89.2" stroke="#666" stroke-width="0.55"/>
<path d="M87.90,403.70 H89.2" stroke="#666" stroke-width="0.55"/>
<path d="M87.90,405.40 H89.2" stroke="#666" stroke-width="0.55"/>
<path d="M87.90,407.10 H89.2" stroke="#666" stroke-width="0.55"/>
<path d="M87.90,408.80 H89.2" stroke="#666" stroke-width="0.55"/>
<path d="M86.40,410.60 H89.2" stroke="#444" stroke-width="0.8"/>
<path d="M87.90,412.30 H89.2" stroke="#666" stroke-width="0.55"/>
<path d="M87.90,414.00 H89.2" stroke="#666" stroke-width="0.55"/>
<path d="M87.90,415.70 H89.2" stroke="#666" stroke-width="0.55"/>
<path d="M87.90,417.40 H89.2" stroke="#666" stroke-width="0.55"/>
<path d="M87.90,419.10 H89.2" stroke="#666" stroke-width="0.55"/>
<path d="M87.90,420.80 H89.2" stroke="#666" stroke-width="0.55"/>
<path d="M87.90,422.50 H89.2" stroke="#666" stroke-width="0.55"/>
<path d="M87.90,424.20 H89.2" stroke="#666" stroke-width="0.55"/>
<path d="M86.40,426.00 H89.2" stroke="#444" stroke-width="0.8"/>
<path d="M87.90,427.70 H89.2" stroke="#666" stroke-width="0.55"/>
<path d="M87.90,429.40 H89.2" stroke="#666" stroke-width="0.55"/>
<path d="M87.90,431.10 H89.2" stroke="#666" stroke-width="0.55"/>
<path d="M87.90,432.80 H89.2" stroke="#666" stroke-width="0.55"/>
<path d="M87.90,434.50 H89.2" stroke="#666" stroke-width="0.55"/>
<path d="M87.90,436.20 H89.2" stroke="#666" stroke-width="0.55"/>
<path d="M87.90,437.90 H89.2" stroke="#666" stroke-width="0.55"/>
<path d="M87.90,439.60 H89.2" stroke="#666" stroke-width="0.55"/>
<path d="M86.40,441.40 H89.2" stroke="#444" stroke-width="0.8"/>
<path d="M87.90,443.10 H89.2" stroke="#666" stroke-width="0.55"/>
<path d="M87.90,444.80 H89.2" stroke="#666" stroke-width="0.55"/>
<path d="M87.90,446.50 H89.2" stroke="#666" stroke-width="0.55"/>
<path d="M87.90,448.20 H89.2" stroke="#666" stroke-width="0.55"/>
<path d="M87.90,449.90 H89.2" stroke="#666" stroke-width="0.55"/>
<path d="M87.90,451.60 H89.2" stroke="#666" stroke-width="0.55"/>
<path d="M87.90,453.30 H89.2" stroke="#666" stroke-width="0.55"/>
<path d="M87.90,455.00 H89.2" stroke="#666" stroke-width="0.55"/>
<path d="M86.40,456.80 H89.2" stroke="#444" stroke-width="0.8"/>
<path d="M92.20,458.0 V460.80" stroke="#444" stroke-width="0.8"/>
<path d="M93.90,458.0 V459.30" stroke="#666" stroke-width="0.55"/>
<path d="M95.60,458.0 V459.30" stroke="#666" stroke-width="0.55"/>
<path d="M97.30,458.0 V459.30" stroke="#666" stroke-width="0.55"/>
<path d="M99.00,458.0 V459.30" stroke="#666" stroke-width="0.55"/>
<path d="M100.70,458.0 V459.30" stroke="#666" stroke-width="0.55"/>
<path d="M102.40,458.0 V459.30" stroke="#666" stroke-width="0.55"/>
<path d="M104.10,458.0 V459.30" stroke="#666" stroke-width="0.55"/>
<path d="M105.80,458.0 V459.30" stroke="#666" stroke-width="0.55"/>
<path d="M107.60,458.0 V460.80" stroke="#444" stroke-width="0.8"/>
<path d="M109.30,458.0 V459.30" stroke="#666" stroke-width="0.55"/>
<path d="M111.00,458.0 V459.30" stroke="#666" stroke-width="0.55"/>
<path d="M112.70,458.0 V459.30" stroke="#666" stroke-width="0.55"/>
<path d="M114.40,458.0 V459.30" stroke="#666" stroke-width="0.55"/>
<path d="M116.10,458.0 V459.30" stroke="#666" stroke-width="0.55"/>
<path d="M117.80,458.0 V459.30" stroke="#666" stroke-width="0.55"/>
<path d="M119.50,458.0 V459.30" stroke="#666" stroke-width="0.55"/>
<path d="M121.20,458.0 V459.30" stroke="#666" stroke-width="0.55"/>
<path d="M123.00,458.0 V460.80" stroke="#444" stroke-width="0.8"/>
<path d="M124.70,458.0 V459.30" stroke="#666" stroke-width="0.55"/>
<path d="M126.40,458.0 V459.30" stroke="#666" stroke-width="0.55"/>
<path d="M128.10,458.0 V459.30" stroke="#666" stroke-width="0.55"/>
<path d="M129.80,458.0 V459.30" stroke="#666" stroke-width="0.55"/>
<path d="M131.50,458.0 V459.30" stroke="#666" stroke-width="0.55"/>
<path d="M133.20,458.0 V459.30" stroke="#666" stroke-width="0.55"/>
<path d="M134.90,458.0 V459.30" stroke="#666" stroke-width="0.55"/>
<path d="M136.60,458.0 V459.30" stroke="#666" stroke-width="0.55"/>
<path d="M138.40,458.0 V460.80" stroke="#444" stroke-width="0.8"/>
<path d="M140.10,458.0 V459.30" stroke="#666" stroke-width="0.55"/>
<path d="M141.80,458.0 V459.30" stroke="#666" stroke-width="0.55"/>
<path d="M143.50,458.0 V459.30" stroke="#666" stroke-width="0.55"/>
<path d="M145.20,458.0 V459.30" stroke="#666" stroke-width="0.55"/>
<path d="M146.90,458.0 V459.30" stroke="#666" stroke-width="0.55"/>
<path d="M148.60,458.0 V459.30" stroke="#666" stroke-width="0.55"/>
<path d="M150.30,458.0 V459.30" stroke="#666" stroke-width="0.55"/>
<path d="M152.00,458.0 V459.30" stroke="#666" stroke-width="0.55"/>
<path d="M153.80,458.0 V460.80" stroke="#444" stroke-width="0.8"/>
<path d="M155.50,458.0 V459.30" stroke="#666" stroke-width="0.55"/>
<path d="M157.20,458.0 V459.30" stroke="#666" stroke-width="0.55"/>
<path d="M158.90,458.0 V459.30" stroke="#666" stroke-width="0.55"/>
<path d="M160.60,458.0 V459.30" stroke="#666" stroke-width="0.55"/>
<path d="M162.30,458.0 V459.30" stroke="#666" stroke-width="0.55"/>
<path d="M164.00,458.0 V459.30" stroke="#666" stroke-width="0.55"/>
<path d="M165.70,458.0 V459.30" stroke="#666" stroke-width="0.55"/>
<path d="M167.40,458.0 V459.30" stroke="#666" stroke-width="0.55"/>
<path d="M169.20,458.0 V460.80" stroke="#444" stroke-width="0.8"/>
<path d="M170.90,458.0 V459.30" stroke="#666" stroke-width="0.55"/>
<path d="M172.60,458.0 V459.30" stroke="#666" stroke-width="0.55"/>
<path d="M174.30,458.0 V459.30" stroke="#666" stroke-width="0.55"/>
<path d="M176.00,458.0 V459.30" stroke="#666" stroke-width="0.55"/>
<path d="M177.70,458.0 V459.30" stroke="#666" stroke-width="0.55"/>
<path d="M179.40,458.0 V459.30" stroke="#666" stroke-width="0.55"/>
<path d="M181.10,458.0 V459.30" stroke="#666" stroke-width="0.55"/>
<path d="M182.80,458.0 V459.30" stroke="#666" stroke-width="0.55"/>
<path d="M184.60,458.0 V460.80" stroke="#444" stroke-width="0.8"/>
<path d="M186.30,458.0 V459.30" stroke="#666" stroke-width="0.55"/>
<path d="M188.00,458.0 V459.30" stroke="#666" stroke-width="0.55"/>
<path d="M189.70,458.0 V459.30" stroke="#666" stroke-width="0.55"/>
<path d="M191.40,458.0 V459.30" stroke="#666" stroke-width="0.55"/>
<rect x="86.8" y="427.0" width="1.9" height="3.2" fill="#222"/>
<rect x="103.2" y="459.2" width="8.5" height="2.4" fill="#222"/>
<g filter="url(#soft)">
<rect x="112" y="387.80" width="27.80" height="16.40" rx="8.20" fill="#f4f4f4" stroke="#9c9c9c" stroke-width="0.55"/>
<rect x="112" y="389.35" width="25.10" height="13.30" rx="6.65" fill="none" stroke="#9c9c9c" stroke-width="0.55"/>
<rect x="112" y="390.90" width="22.40" height="10.20" rx="5.10" fill="none" stroke="#9c9c9c" stroke-width="0.55"/>
<rect x="112" y="392.45" width="19.70" height="7.10" rx="3.55" fill="none" stroke="#9c9c9c" stroke-width="0.55"/>
<rect x="112" y="394.00" width="17.00" height="4.00" rx="2.00" fill="none" stroke="#9c9c9c" stroke-width="0.55"/>
</g>
<rect x="131.6" y="391.6" width="1.3" height="1.3" fill="#0d0d0d"/>
<rect x="138.8" y="391.0" width="1.3" height="1.3" fill="#0d0d0d"/>
<rect x="131.9" y="386.6" width="1.3" height="1.3" fill="#0d0d0d"/>
<rect x="139.8" y="392.8" width="1.3" height="1.3" fill="#0d0d0d"/>
<rect x="133.7" y="389.3" width="1.3" height="1.3" fill="#0d0d0d"/>
<rect x="125.6" y="394.1" width="1.3" height="1.3" fill="#0d0d0d"/>
<rect x="132.5" y="393.5" width="1.3" height="1.3" fill="#0d0d0d"/>
<rect x="143.3" y="392.1" width="1.3" height="1.3" fill="#0d0d0d"/>
<rect x="136.1" y="398.0" width="1.3" height="1.3" fill="#0d0d0d"/>
<rect x="135.9" y="394.4" width="1.3" height="1.3" fill="#0d0d0d"/>
<rect x="131.6" y="389.8" width="1.3" height="1.3" fill="#0d0d0d"/>
<rect x="129.6" y="398.2" width="1.3" height="1.3" fill="#0d0d0d"/>
<rect x="142.5" y="391.8" width="1.3" height="1.3" fill="#0d0d0d"/>
<rect x="136.4" y="392.3" width="1.3" height="1.3" fill="#0d0d0d"/>
<rect x="149.2" y="398.7" width="1.3" height="1.3" fill="#0d0d0d"/>
<rect x="136.7" y="397.4" width="1.3" height="1.3" fill="#0d0d0d"/>
<rect x="143.3" y="389.8" width="1.3" height="1.3" fill="#0d0d0d"/>
<rect x="140.2" y="397.1" width="1.3" height="1.3" fill="#0d0d0d"/>
<rect x="137.5" y="397.9" width="1.3" height="1.3" fill="#0d0d0d"/>
<rect x="142.8" y="394.6" width="1.3" height="1.3" fill="#0d0d0d"/>
<rect x="135.8" y="398.6" width="1.3" height="1.3" fill="#0d0d0d"/>
<rect x="138.2" y="396.3" width="1.3" height="1.3" fill="#0d0d0d"/>
<rect x="146.3" y="396.2" width="1.3" height="1.3" fill="#0d0d0d"/>
<rect x="137.3" y="388.6" width="1.3" height="1.3" fill="#0d0d0d"/>
<rect x="139.2" y="396.1" width="1.3" height="1.3" fill="#0d0d0d"/>
<rect x="140.2" y="397.0" width="1.3" height="1.3" fill="#0d0d0d"/>
<rect x="140.7" y="395.6" width="1.3" height="1.3" fill="#0d0d0d"/>
<rect x="138.2" y="397.2" width="1.3" height="1.3" fill="#0d0d0d"/>
<rect x="134.5" y="390.3" width="1.3" height="1.3" fill="#0d0d0d"/>
<rect x="133.2" y="395.1" width="1.3" height="1.3" fill="#0d0d0d"/>
<rect x="129.7" y="392.4" width="1.3" height="1.3" fill="#0d0d0d"/>
<rect x="136.7" y="396.0" width="1.3" height="1.3" fill="#0d0d0d"/>
<rect x="133.0" y="394.9" width="1.3" height="1.3" fill="#0d0d0d"/>
<rect x="137.8" y="392.2" width="1.3" height="1.3" fill="#0d0d0d"/>
<rect x="137.9" y="393.8" width="1.3" height="1.3" fill="#0d0d0d"/>
<rect x="132.6" y="393.1" width="1.3" height="1.3" fill="#0d0d0d"/>
<rect x="133.6" y="403.0" width="1.3" height="1.3" fill="#0d0d0d"/>
<rect x="136.6" y="391.8" width="1.3" height="1.3" fill="#0d0d0d"/>
<rect x="131.2" y="394.5" width="1.3" height="1.3" fill="#0d0d0d"/>
<rect x="139.2" y="394.8" width="1.3" height="1.3" fill="#0d0d0d"/>
<rect x="136.6" y="441.3" width="1.3" height="1.3" fill="#0d0d0d"/>
<rect x="132.2" y="425.3" width="1.3" height="1.3" fill="#0d0d0d"/>
<rect x="133.6" y="416.9" width="1.3" height="1.3" fill="#0d0d0d"/>
<rect x="145.4" y="453.4" width="1.3" height="1.3" fill="#0d0d0d"/>
<rect x="132.8" y="404.4" width="1.3" height="1.3" fill="#0d0d0d"/>
<rect x="130.1" y="445.1" width="1.3" height="1.3" fill="#0d0d0d"/>
<rect x="127.7" y="408.8" width="1.3" height="1.3" fill="#0d0d0d"/>
<rect x="123.3" y="440.4" width="1.3" height="1.3" fill="#0d0d0d"/>
<rect x="137.3" y="418.2" width="1.3" height="1.3" fill="#0d0d0d"/>
<rect x="137.3" y="442.9" width="1.3" height="1.3" fill="#0d0d0d"/>
<rect x="148.3" y="446.6" width="1.3" height="1.3" fill="#0d0d0d"/>
<rect x="131.2" y="445.4" width="1.3" height="1.3" fill="#0d0d0d"/>
<rect x="147.0" y="448.5" width="1.3" height="1.3" fill="#0d0d0d"/>
<rect x="141.4" y="433.9" width="1.3" height="1.3" fill="#0d0d0d"/>
<rect x="133.7" y="447.6" width="1.3" height="1.3" fill="#0d0d0d"/>
<rect x="137.4" y="440.9" width="1.3" height="1.3" fill="#0d0d0d"/>
<rect x="124.6" y="408.1" width="1.3" height="1.3" fill="#0d0d0d"/>
<rect x="126.0" y="433.7" width="1.3" height="1.3" fill="#0d0d0d"/>
<rect x="135.7" y="413.7" width="1.3" height="1.3" fill="#0d0d0d"/>
<rect x="123.4" y="452.8" width="1.3" height="1.3" fill="#0d0d0d"/>
<rect x="119.6" y="451.5" width="1.3" height="1.3" fill="#0d0d0d"/>
<rect x="142.1" y="433.2" width="1.3" height="1.3" fill="#0d0d0d"/>
<rect x="127.9" y="411.1" width="1.3" height="1.3" fill="#0d0d0d"/>
<rect x="130.4" y="412.0" width="1.3" height="1.3" fill="#0d0d0d"/>
<rect x="117.6" y="418.3" width="1.3" height="1.3" fill="#0d0d0d"/>
<rect x="124.0" y="408.3" width="1.3" height="1.3" fill="#0d0d0d"/>
<rect x="123.9" y="411.7" width="1.3" height="1.3" fill="#0d0d0d"/>
<rect x="124.4" y="400.9" width="1.3" height="1.3" fill="#0d0d0d"/>
<rect x="123.6" y="414.3" width="1.3" height="1.3" fill="#0d0d0d"/>
<rect x="119.8" y="419.3" width="1.3" height="1.3" fill="#0d0d0d"/>
<rect x="123.0" y="399.3" width="1.3" height="1.3" fill="#0d0d0d"/>
<rect x="128.3" y="409.3" width="1.3" height="1.3" fill="#0d0d0d"/>
<rect x="123.6" y="410.4" width="1.3" height="1.3" fill="#0d0d0d"/>
<rect x="129.3" y="411.8" width="1.3" height="1.3" fill="#0d0d0d"/>
<rect x="102.0" y="433.6" width="1.3" height="1.3" fill="#0d0d0d"/>
<rect x="104.6" y="435.1" width="1.3" height="1.3" fill="#0d0d0d"/>
<rect x="102.1" y="435.5" width="1.3" height="1.3" fill="#0d0d0d"/>
<rect x="102.1" y="434.6" width="1.3" height="1.3" fill="#0d0d0d"/>
<rect x="104.5" y="434.7" width="1.3" height="1.3" fill="#0d0d0d"/>
<rect x="104.0" y="434.7" width="1.3" height="1.3" fill="#0d0d0d"/>
<rect x="102.4" y="434.7" width="1.3" height="1.3" fill="#0d0d0d"/>
<rect x="104.1" y="432.9" width="1.3" height="1.3" fill="#0d0d0d"/>
<rect x="114.5" y="422.2" width="1.3" height="1.3" fill="#0d0d0d"/>
<rect x="115.9" y="421.1" width="1.3" height="1.3" fill="#0d0d0d"/>
<rect x="116.6" y="422.8" width="1.3" height="1.3" fill="#0d0d0d"/>
<rect x="115.4" y="424.0" width="1.3" height="1.3" fill="#0d0d0d"/>
<rect x="115.2" y="433.6" width="1.3" height="1.3" fill="#0d0d0d"/>
<rect x="116.9" y="419.8" width="1.3" height="1.3" fill="#0d0d0d"/>
<rect x="115.2" y="423.7" width="1.3" height="1.3" fill="#0d0d0d"/>
<rect x="115.7" y="413.7" width="1.3" height="1.3" fill="#0d0d0d"/>
<rect x="116.4" y="420.6" width="1.3" height="1.3" fill="#0d0d0d"/>
<rect x="116.8" y="418.4" width="1.3" height="1.3" fill="#0d0d0d"/>
<g filter="url(#soft)">
<ellipse cx="107.40" cy="419.50" rx="7.40" ry="15.00" fill="rgb(185,185,185)" stroke="#808080" stroke-width="0.45"/>
<ellipse cx="107.38" cy="420.20" rx="5.92" ry="12.00" fill="rgb(199,199,199)" stroke="#808080" stroke-width="0.45"/>
<ellipse cx="107.36" cy="420.90" rx="4.44" ry="9.00" fill="rgb(214,214,214)" stroke="#808080" stroke-width="0.45"/>
<ellipse cx="107.34" cy="421.60" rx="2.96" ry="6.00" fill="rgb(229,229,229)" stroke="#808080" stroke-width="0.45"/>
<ellipse cx="107.32" cy="422.30" rx="1.48" ry="3.00" fill="rgb(244,244,244)" stroke="#808080" stroke-width="0.45"/>
</g>
<g filter="url(#soft)">
<ellipse cx="109.40" cy="395.40" rx="9.00" ry="12.00" fill="rgb(168,168,168)" stroke="#777777" stroke-width="0.45"/>
<ellipse cx="109.22" cy="395.37" rx="7.50" ry="10.00" fill="rgb(182,182,182)" stroke="#777777" stroke-width="0.45"/>
<ellipse cx="109.03" cy="395.33" rx="6.00" ry="8.00" fill="rgb(197,197,197)" stroke="#777777" stroke-width="0.45"/>
<ellipse cx="108.85" cy="395.30" rx="4.50" ry="6.00" fill="rgb(212,212,212)" stroke="#777777" stroke-width="0.45"/>
<ellipse cx="108.67" cy="395.27" rx="3.00" ry="4.00" fill="rgb(227,227,227)" stroke="#777777" stroke-width="0.45"/>
<ellipse cx="108.48" cy="395.23" rx="1.50" ry="2.00" fill="rgb(242,242,242)" stroke="#777777" stroke-width="0.45"/>
</g>
<path d="M120.2,354.6 V458.0 M89.2,409.0 H193.1" stroke="#222" stroke-width="1.1"/>
<text x="91.5" y="370.3" font-size="11.8" font-weight="bold" text-anchor="start" fill="#111" stroke="#111" stroke-width="0.6" >57.8</text>
<text x="156.0" y="370.4" font-size="11.8" font-weight="bold" text-anchor="start" fill="#111" stroke="#111" stroke-width="0.6" >14.2</text>
<text x="91.4" y="447.8" font-size="11.8" font-weight="bold" text-anchor="start" fill="#111" stroke="#111" stroke-width="0.6" >27.0</text>
<text x="155.2" y="448.0" font-size="11.8" font-weight="bold" text-anchor="start" fill="#111" stroke="#111" stroke-width="0.6" >1.02</text>
<rect x="202.4" y="354.6" width="105.20" height="104.40" fill="#fff" stroke="#9a9a9a" stroke-width="0.9"/>
<path d="M199.60,364.40 H202.4" stroke="#444" stroke-width="0.8"/>
<path d="M201.10,366.10 H202.4" stroke="#666" stroke-width="0.55"/>
<path d="M201.10,367.80 H202.4" stroke="#666" stroke-width="0.55"/>
<path d="M201.10,369.50 H202.4" stroke="#666" stroke-width="0.55"/>
<path d="M201.10,371.20 H202.4" stroke="#666" stroke-width="0.55"/>
<path d="M201.10,372.90 H202.4" stroke="#666" stroke-width="0.55"/>
<path d="M201.10,374.60 H202.4" stroke="#666" stroke-width="0.55"/>
<path d="M201.10,376.30 H202.4" stroke="#666" stroke-width="0.55"/>
<path d="M201.10,378.00 H202.4" stroke="#666" stroke-width="0.55"/>
<path d="M199.60,379.80 H202.4" stroke="#444" stroke-width="0.8"/>
<path d="M201.10,381.50 H202.4" stroke="#666" stroke-width="0.55"/>
<path d="M201.10,383.20 H202.4" stroke="#666" stroke-width="0.55"/>
<path d="M201.10,384.90 H202.4" stroke="#666" stroke-width="0.55"/>
<path d="M201.10,386.60 H202.4" stroke="#666" stroke-width="0.55"/>
<path d="M201.10,388.30 H202.4" stroke="#666" stroke-width="0.55"/>
<path d="M201.10,390.00 H202.4" stroke="#666" stroke-width="0.55"/>
<path d="M201.10,391.70 H202.4" stroke="#666" stroke-width="0.55"/>
<path d="M201.10,393.40 H202.4" stroke="#666" stroke-width="0.55"/>
<path d="M199.60,395.20 H202.4" stroke="#444" stroke-width="0.8"/>
<path d="M201.10,396.90 H202.4" stroke="#666" stroke-width="0.55"/>
<path d="M201.10,398.60 H202.4" stroke="#666" stroke-width="0.55"/>
<path d="M201.10,400.30 H202.4" stroke="#666" stroke-width="0.55"/>
<path d="M201.10,402.00 H202.4" stroke="#666" stroke-width="0.55"/>
<path d="M201.10,403.70 H202.4" stroke="#666" stroke-width="0.55"/>
<path d="M201.10,405.40 H202.4" stroke="#666" stroke-width="0.55"/>
<path d="M201.10,407.10 H202.4" stroke="#666" stroke-width="0.55"/>
<path d="M201.10,408.80 H202.4" stroke="#666" stroke-width="0.55"/>
<path d="M199.60,410.60 H202.4" stroke="#444" stroke-width="0.8"/>
<path d="M201.10,412.30 H202.4" stroke="#666" stroke-width="0.55"/>
<path d="M201.10,414.00 H202.4" stroke="#666" stroke-width="0.55"/>
<path d="M201.10,415.70 H202.4" stroke="#666" stroke-width="0.55"/>
<path d="M201.10,417.40 H202.4" stroke="#666" stroke-width="0.55"/>
<path d="M201.10,419.10 H202.4" stroke="#666" stroke-width="0.55"/>
<path d="M201.10,420.80 H202.4" stroke="#666" stroke-width="0.55"/>
<path d="M201.10,422.50 H202.4" stroke="#666" stroke-width="0.55"/>
<path d="M201.10,424.20 H202.4" stroke="#666" stroke-width="0.55"/>
<path d="M199.60,426.00 H202.4" stroke="#444" stroke-width="0.8"/>
<path d="M201.10,427.70 H202.4" stroke="#666" stroke-width="0.55"/>
<path d="M201.10,429.40 H202.4" stroke="#666" stroke-width="0.55"/>
<path d="M201.10,431.10 H202.4" stroke="#666" stroke-width="0.55"/>
<path d="M201.10,432.80 H202.4" stroke="#666" stroke-width="0.55"/>
<path d="M201.10,434.50 H202.4" stroke="#666" stroke-width="0.55"/>
<path d="M201.10,436.20 H202.4" stroke="#666" stroke-width="0.55"/>
<path d="M201.10,437.90 H202.4" stroke="#666" stroke-width="0.55"/>
<path d="M201.10,439.60 H202.4" stroke="#666" stroke-width="0.55"/>
<path d="M199.60,441.40 H202.4" stroke="#444" stroke-width="0.8"/>
<path d="M201.10,443.10 H202.4" stroke="#666" stroke-width="0.55"/>
<path d="M201.10,444.80 H202.4" stroke="#666" stroke-width="0.55"/>
<path d="M201.10,446.50 H202.4" stroke="#666" stroke-width="0.55"/>
<path d="M201.10,448.20 H202.4" stroke="#666" stroke-width="0.55"/>
<path d="M201.10,449.90 H202.4" stroke="#666" stroke-width="0.55"/>
<path d="M201.10,451.60 H202.4" stroke="#666" stroke-width="0.55"/>
<path d="M201.10,453.30 H202.4" stroke="#666" stroke-width="0.55"/>
<path d="M201.10,455.00 H202.4" stroke="#666" stroke-width="0.55"/>
<path d="M199.60,456.80 H202.4" stroke="#444" stroke-width="0.8"/>
<path d="M205.40,459.0 V461.80" stroke="#444" stroke-width="0.8"/>
<path d="M207.10,459.0 V460.30" stroke="#666" stroke-width="0.55"/>
<path d="M208.80,459.0 V460.30" stroke="#666" stroke-width="0.55"/>
<path d="M210.50,459.0 V460.30" stroke="#666" stroke-width="0.55"/>
<path d="M212.20,459.0 V460.30" stroke="#666" stroke-width="0.55"/>
<path d="M213.90,459.0 V460.30" stroke="#666" stroke-width="0.55"/>
<path d="M215.60,459.0 V460.30" stroke="#666" stroke-width="0.55"/>
<path d="M217.30,459.0 V460.30" stroke="#666" stroke-width="0.55"/>
<path d="M219.00,459.0 V460.30" stroke="#666" stroke-width="0.55"/>
<path d="M220.80,459.0 V461.80" stroke="#444" stroke-width="0.8"/>
<path d="M222.50,459.0 V460.30" stroke="#666" stroke-width="0.55"/>
<path d="M224.20,459.0 V460.30" stroke="#666" stroke-width="0.55"/>
<path d="M225.90,459.0 V460.30" stroke="#666" stroke-width="0.55"/>
<path d="M227.60,459.0 V460.30" stroke="#666" stroke-width="0.55"/>
<path d="M229.30,459.0 V460.30" stroke="#666" stroke-width="0.55"/>
<path d="M231.00,459.0 V460.30" stroke="#666" stroke-width="0.55"/>
<path d="M232.70,459.0 V460.30" stroke="#666" stroke-width="0.55"/>
<path d="M234.40,459.0 V460.30" stroke="#666" stroke-width="0.55"/>
<path d="M236.20,459.0 V461.80" stroke="#444" stroke-width="0.8"/>
<path d="M237.90,459.0 V460.30" stroke="#666" stroke-width="0.55"/>
<path d="M239.60,459.0 V460.30" stroke="#666" stroke-width="0.55"/>
<path d="M241.30,459.0 V460.30" stroke="#666" stroke-width="0.55"/>
<path d="M243.00,459.0 V460.30" stroke="#666" stroke-width="0.55"/>
<path d="M244.70,459.0 V460.30" stroke="#666" stroke-width="0.55"/>
<path d="M246.40,459.0 V460.30" stroke="#666" stroke-width="0.55"/>
<path d="M248.10,459.0 V460.30" stroke="#666" stroke-width="0.55"/>
<path d="M249.80,459.0 V460.30" stroke="#666" stroke-width="0.55"/>
<path d="M251.60,459.0 V461.80" stroke="#444" stroke-width="0.8"/>
<path d="M253.30,459.0 V460.30" stroke="#666" stroke-width="0.55"/>
<path d="M255.00,459.0 V460.30" stroke="#666" stroke-width="0.55"/>
<path d="M256.70,459.0 V460.30" stroke="#666" stroke-width="0.55"/>
<path d="M258.40,459.0 V460.30" stroke="#666" stroke-width="0.55"/>
<path d="M260.10,459.0 V460.30" stroke="#666" stroke-width="0.55"/>
<path d="M261.80,459.0 V460.30" stroke="#666" stroke-width="0.55"/>
<path d="M263.50,459.0 V460.30" stroke="#666" stroke-width="0.55"/>
<path d="M265.20,459.0 V460.30" stroke="#666" stroke-width="0.55"/>
<path d="M267.00,459.0 V461.80" stroke="#444" stroke-width="0.8"/>
<path d="M268.70,459.0 V460.30" stroke="#666" stroke-width="0.55"/>
<path d="M270.40,459.0 V460.30" stroke="#666" stroke-width="0.55"/>
<path d="M272.10,459.0 V460.30" stroke="#666" stroke-width="0.55"/>
<path d="M273.80,459.0 V460.30" stroke="#666" stroke-width="0.55"/>
<path d="M275.50,459.0 V460.30" stroke="#666" stroke-width="0.55"/>
<path d="M277.20,459.0 V460.30" stroke="#666" stroke-width="0.55"/>
<path d="M278.90,459.0 V460.30" stroke="#666" stroke-width="0.55"/>
<path d="M280.60,459.0 V460.30" stroke="#666" stroke-width="0.55"/>
<path d="M282.40,459.0 V461.80" stroke="#444" stroke-width="0.8"/>
<path d="M284.10,459.0 V460.30" stroke="#666" stroke-width="0.55"/>
<path d="M285.80,459.0 V460.30" stroke="#666" stroke-width="0.55"/>
<path d="M287.50,459.0 V460.30" stroke="#666" stroke-width="0.55"/>
<path d="M289.20,459.0 V460.30" stroke="#666" stroke-width="0.55"/>
<path d="M290.90,459.0 V460.30" stroke="#666" stroke-width="0.55"/>
<path d="M292.60,459.0 V460.30" stroke="#666" stroke-width="0.55"/>
<path d="M294.30,459.0 V460.30" stroke="#666" stroke-width="0.55"/>
<path d="M296.00,459.0 V460.30" stroke="#666" stroke-width="0.55"/>
<path d="M297.80,459.0 V461.80" stroke="#444" stroke-width="0.8"/>
<path d="M299.50,459.0 V460.30" stroke="#666" stroke-width="0.55"/>
<path d="M301.20,459.0 V460.30" stroke="#666" stroke-width="0.55"/>
<path d="M302.90,459.0 V460.30" stroke="#666" stroke-width="0.55"/>
<path d="M304.60,459.0 V460.30" stroke="#666" stroke-width="0.55"/>
<path d="M306.30,459.0 V460.30" stroke="#666" stroke-width="0.55"/>
<rect x="200.0" y="427.7" width="1.9" height="3.2" fill="#222"/>
<rect x="216.4" y="460.2" width="8.5" height="2.4" fill="#222"/>
<rect x="262.8" y="396.6" width="1.3" height="1.3" fill="#0d0d0d"/>
<rect x="254.3" y="387.1" width="1.3" height="1.3" fill="#0d0d0d"/>
<rect x="264.2" y="396.2" width="1.3" height="1.3" fill="#0d0d0d"/>
<rect x="261.6" y="392.3" width="1.3" height="1.3" fill="#0d0d0d"/>
<rect x="257.2" y="403.5" width="1.3" height="1.3" fill="#0d0d0d"/>
<rect x="256.5" y="387.2" width="1.3" height="1.3" fill="#0d0d0d"/>
<rect x="255.4" y="405.2" width="1.3" height="1.3" fill="#0d0d0d"/>
<rect x="256.0" y="405.5" width="1.3" height="1.3" fill="#0d0d0d"/>
<rect x="253.7" y="385.1" width="1.3" height="1.3" fill="#0d0d0d"/>
<rect x="254.0" y="385.1" width="1.3" height="1.3" fill="#0d0d0d"/>
<rect x="261.9" y="389.9" width="1.3" height="1.3" fill="#0d0d0d"/>
<rect x="262.4" y="398.4" width="1.3" height="1.3" fill="#0d0d0d"/>
<rect x="259.6" y="402.7" width="1.3" height="1.3" fill="#0d0d0d"/>
<rect x="255.0" y="387.7" width="1.3" height="1.3" fill="#0d0d0d"/>
<rect x="258.7" y="401.2" width="1.3" height="1.3" fill="#0d0d0d"/>
<rect x="261.6" y="392.6" width="1.3" height="1.3" fill="#0d0d0d"/>
<rect x="257.4" y="403.5" width="1.3" height="1.3" fill="#0d0d0d"/>
<rect x="254.3" y="386.6" width="1.3" height="1.3" fill="#0d0d0d"/>
<rect x="262.3" y="398.4" width="1.3" height="1.3" fill="#0d0d0d"/>
<rect x="261.4" y="400.1" width="1.3" height="1.3" fill="#0d0d0d"/>
<rect x="260.3" y="400.4" width="1.3" height="1.3" fill="#0d0d0d"/>
<rect x="257.4" y="406.7" width="1.3" height="1.3" fill="#0d0d0d"/>
<rect x="252.8" y="387.0" width="1.3" height="1.3" fill="#0d0d0d"/>
<rect x="261.3" y="397.3" width="1.3" height="1.3" fill="#0d0d0d"/>
<rect x="259.2" y="392.4" width="1.3" height="1.3" fill="#0d0d0d"/>
<rect x="261.4" y="389.0" width="1.3" height="1.3" fill="#0d0d0d"/>
<rect x="260.7" y="392.2" width="1.3" height="1.3" fill="#0d0d0d"/>
<rect x="256.2" y="403.6" width="1.3" height="1.3" fill="#0d0d0d"/>
<rect x="258.1" y="405.5" width="1.3" height="1.3" fill="#0d0d0d"/>
<rect x="255.2" y="388.4" width="1.3" height="1.3" fill="#0d0d0d"/>
<rect x="254.9" y="405.7" width="1.3" height="1.3" fill="#0d0d0d"/>
<rect x="261.9" y="397.7" width="1.3" height="1.3" fill="#0d0d0d"/>
<rect x="258.2" y="405.8" width="1.3" height="1.3" fill="#0d0d0d"/>
<rect x="261.3" y="399.7" width="1.3" height="1.3" fill="#0d0d0d"/>
<rect x="259.4" y="401.0" width="1.3" height="1.3" fill="#0d0d0d"/>
<rect x="260.8" y="400.9" width="1.3" height="1.3" fill="#0d0d0d"/>
<rect x="262.4" y="397.6" width="1.3" height="1.3" fill="#0d0d0d"/>
<rect x="254.7" y="387.8" width="1.3" height="1.3" fill="#0d0d0d"/>
<rect x="261.3" y="400.3" width="1.3" height="1.3" fill="#0d0d0d"/>
<rect x="260.8" y="397.9" width="1.3" height="1.3" fill="#0d0d0d"/>
<rect x="261.2" y="400.1" width="1.3" height="1.3" fill="#0d0d0d"/>
<rect x="254.0" y="386.4" width="1.3" height="1.3" fill="#0d0d0d"/>
<rect x="253.3" y="386.3" width="1.3" height="1.3" fill="#0d0d0d"/>
<rect x="255.0" y="389.3" width="1.3" height="1.3" fill="#0d0d0d"/>
<rect x="258.0" y="404.6" width="1.3" height="1.3" fill="#0d0d0d"/>
<rect x="258.2" y="391.1" width="1.3" height="1.3" fill="#0d0d0d"/>
<rect x="258.5" y="389.4" width="1.3" height="1.3" fill="#0d0d0d"/>
<rect x="262.8" y="393.4" width="1.3" height="1.3" fill="#0d0d0d"/>
<rect x="261.4" y="396.8" width="1.3" height="1.3" fill="#0d0d0d"/>
<rect x="261.1" y="392.3" width="1.3" height="1.3" fill="#0d0d0d"/>
<rect x="261.6" y="400.1" width="1.3" height="1.3" fill="#0d0d0d"/>
<rect x="263.1" y="394.2" width="1.3" height="1.3" fill="#0d0d0d"/>
<rect x="264.3" y="394.2" width="1.3" height="1.3" fill="#0d0d0d"/>
<rect x="256.9" y="386.9" width="1.3" height="1.3" fill="#0d0d0d"/>
<rect x="261.2" y="400.7" width="1.3" height="1.3" fill="#0d0d0d"/>
<rect x="252.7" y="386.4" width="1.3" height="1.3" fill="#0d0d0d"/>
<rect x="258.6" y="404.0" width="1.3" height="1.3" fill="#0d0d0d"/>
<rect x="258.3" y="386.9" width="1.3" height="1.3" fill="#0d0d0d"/>
<rect x="254.9" y="387.7" width="1.3" height="1.3" fill="#0d0d0d"/>
<rect x="255.3" y="404.2" width="1.3" height="1.3" fill="#0d0d0d"/>
<rect x="256.9" y="387.3" width="1.3" height="1.3" fill="#0d0d0d"/>
<rect x="255.0" y="403.8" width="1.3" height="1.3" fill="#0d0d0d"/>
<rect x="260.4" y="388.2" width="1.3" height="1.3" fill="#0d0d0d"/>
<rect x="255.6" y="387.1" width="1.3" height="1.3" fill="#0d0d0d"/>
<rect x="257.1" y="385.5" width="1.3" height="1.3" fill="#0d0d0d"/>
<rect x="260.4" y="398.9" width="1.3" height="1.3" fill="#0d0d0d"/>
<rect x="253.9" y="403.7" width="1.3" height="1.3" fill="#0d0d0d"/>
<rect x="253.2" y="404.8" width="1.3" height="1.3" fill="#0d0d0d"/>
<rect x="255.9" y="405.5" width="1.3" height="1.3" fill="#0d0d0d"/>
<rect x="259.9" y="387.9" width="1.3" height="1.3" fill="#0d0d0d"/>
<rect x="262.3" y="396.0" width="1.3" height="1.3" fill="#0d0d0d"/>
<rect x="253.3" y="385.8" width="1.3" height="1.3" fill="#0d0d0d"/>
<rect x="260.2" y="391.0" width="1.3" height="1.3" fill="#0d0d0d"/>
<rect x="261.9" y="394.0" width="1.3" height="1.3" fill="#0d0d0d"/>
<rect x="260.0" y="399.3" width="1.3" height="1.3" fill="#0d0d0d"/>
<rect x="254.7" y="385.1" width="1.3" height="1.3" fill="#0d0d0d"/>
<rect x="253.7" y="406.7" width="1.3" height="1.3" fill="#0d0d0d"/>
<rect x="263.0" y="398.0" width="1.3" height="1.3" fill="#0d0d0d"/>
<rect x="252.8" y="405.0" width="1.3" height="1.3" fill="#0d0d0d"/>
<rect x="260.6" y="401.5" width="1.3" height="1.3" fill="#0d0d0d"/>
<rect x="257.3" y="387.1" width="1.3" height="1.3" fill="#0d0d0d"/>
<rect x="260.5" y="387.8" width="1.3" height="1.3" fill="#0d0d0d"/>
<rect x="263.7" y="394.8" width="1.3" height="1.3" fill="#0d0d0d"/>
<rect x="255.0" y="407.2" width="1.3" height="1.3" fill="#0d0d0d"/>
<rect x="260.8" y="393.0" width="1.3" height="1.3" fill="#0d0d0d"/>
<rect x="256.9" y="388.4" width="1.3" height="1.3" fill="#0d0d0d"/>
<rect x="252.6" y="388.0" width="1.3" height="1.3" fill="#0d0d0d"/>
<rect x="254.0" y="407.0" width="1.3" height="1.3" fill="#0d0d0d"/>
<rect x="255.9" y="388.1" width="1.3" height="1.3" fill="#0d0d0d"/>
<rect x="259.0" y="403.0" width="1.3" height="1.3" fill="#0d0d0d"/>
<rect x="261.4" y="400.6" width="1.3" height="1.3" fill="#0d0d0d"/>
<rect x="265.2" y="394.6" width="1.3" height="1.3" fill="#0d0d0d"/>
<rect x="254.8" y="388.1" width="1.3" height="1.3" fill="#0d0d0d"/>
<rect x="263.0" y="394.6" width="1.3" height="1.3" fill="#0d0d0d"/>
<rect x="260.9" y="403.5" width="1.3" height="1.3" fill="#0d0d0d"/>
<rect x="258.9" y="402.1" width="1.3" height="1.3" fill="#0d0d0d"/>
<rect x="261.7" y="392.1" width="1.3" height="1.3" fill="#0d0d0d"/>
<rect x="262.0" y="397.6" width="1.3" height="1.3" fill="#0d0d0d"/>
<rect x="260.1" y="388.6" width="1.3" height="1.3" fill="#0d0d0d"/>
<rect x="256.5" y="406.3" width="1.3" height="1.3" fill="#0d0d0d"/>
<rect x="264.3" y="396.5" width="1.3" height="1.3" fill="#0d0d0d"/>
<rect x="263.0" y="396.2" width="1.3" height="1.3" fill="#0d0d0d"/>
<rect x="261.3" y="401.3" width="1.3" height="1.3" fill="#0d0d0d"/>
<rect x="253.4" y="387.3" width="1.3" height="1.3" fill="#0d0d0d"/>
<rect x="264.3" y="396.6" width="1.3" height="1.3" fill="#0d0d0d"/>
<rect x="257.2" y="404.5" width="1.3" height="1.3" fill="#0d0d0d"/>
<rect x="260.9" y="402.3" width="1.3" height="1.3" fill="#0d0d0d"/>
<rect x="263.0" y="390.7" width="1.3" height="1.3" fill="#0d0d0d"/>
<rect x="256.8" y="387.5" width="1.3" height="1.3" fill="#0d0d0d"/>
<rect x="259.3" y="401.9" width="1.3" height="1.3" fill="#0d0d0d"/>
<rect x="257.4" y="405.7" width="1.3" height="1.3" fill="#0d0d0d"/>
<rect x="261.6" y="399.4" width="1.3" height="1.3" fill="#0d0d0d"/>
<rect x="255.7" y="388.0" width="1.3" height="1.3" fill="#0d0d0d"/>
<rect x="259.8" y="400.9" width="1.3" height="1.3" fill="#0d0d0d"/>
<rect x="252.2" y="406.2" width="1.3" height="1.3" fill="#0d0d0d"/>
<rect x="257.2" y="403.1" width="1.3" height="1.3" fill="#0d0d0d"/>
<rect x="262.1" y="395.7" width="1.3" height="1.3" fill="#0d0d0d"/>
<rect x="255.7" y="385.4" width="1.3" height="1.3" fill="#0d0d0d"/>
<rect x="253.1" y="387.9" width="1.3" height="1.3" fill="#0d0d0d"/>
<rect x="259.7" y="402.6" width="1.3" height="1.3" fill="#0d0d0d"/>
<rect x="260.5" y="390.7" width="1.3" height="1.3" fill="#0d0d0d"/>
<rect x="257.0" y="388.7" width="1.3" height="1.3" fill="#0d0d0d"/>
<rect x="257.5" y="404.4" width="1.3" height="1.3" fill="#0d0d0d"/>
<rect x="256.8" y="386.3" width="1.3" height="1.3" fill="#0d0d0d"/>
<rect x="256.0" y="388.3" width="1.3" height="1.3" fill="#0d0d0d"/>
<rect x="261.3" y="402.0" width="1.3" height="1.3" fill="#0d0d0d"/>
<rect x="259.9" y="401.5" width="1.3" height="1.3" fill="#0d0d0d"/>
<rect x="262.4" y="397.4" width="1.3" height="1.3" fill="#0d0d0d"/>
<rect x="261.5" y="391.0" width="1.3" height="1.3" fill="#0d0d0d"/>
<rect x="257.5" y="387.6" width="1.3" height="1.3" fill="#0d0d0d"/>
<rect x="258.4" y="392.9" width="1.3" height="1.3" fill="#0d0d0d"/>
<rect x="261.1" y="393.6" width="1.3" height="1.3" fill="#0d0d0d"/>
<rect x="259.9" y="401.3" width="1.3" height="1.3" fill="#0d0d0d"/>
<rect x="262.4" y="393.3" width="1.3" height="1.3" fill="#0d0d0d"/>
<rect x="259.8" y="394.8" width="1.3" height="1.3" fill="#0d0d0d"/>
<rect x="262.3" y="395.9" width="1.3" height="1.3" fill="#0d0d0d"/>
<rect x="262.4" y="402.6" width="1.3" height="1.3" fill="#0d0d0d"/>
<rect x="256.7" y="388.1" width="1.3" height="1.3" fill="#0d0d0d"/>
<rect x="262.4" y="394.5" width="1.3" height="1.3" fill="#0d0d0d"/>
<rect x="252.0" y="403.3" width="1.3" height="1.3" fill="#0d0d0d"/>
<rect x="263.2" y="395.0" width="1.3" height="1.3" fill="#0d0d0d"/>
<rect x="259.7" y="402.6" width="1.3" height="1.3" fill="#0d0d0d"/>
<rect x="254.6" y="385.5" width="1.3" height="1.3" fill="#0d0d0d"/>
<rect x="259.6" y="384.9" width="1.3" height="1.3" fill="#0d0d0d"/>
<rect x="255.7" y="386.9" width="1.3" height="1.3" fill="#0d0d0d"/>
<rect x="256.5" y="405.2" width="1.3" height="1.3" fill="#0d0d0d"/>
<rect x="257.6" y="405.5" width="1.3" height="1.3" fill="#0d0d0d"/>
<rect x="259.2" y="393.1" width="1.3" height="1.3" fill="#0d0d0d"/>
<rect x="254.0" y="388.0" width="1.3" height="1.3" fill="#0d0d0d"/>
<rect x="263.4" y="396.6" width="1.3" height="1.3" fill="#0d0d0d"/>
<rect x="261.8" y="399.0" width="1.3" height="1.3" fill="#0d0d0d"/>
<rect x="263.7" y="394.0" width="1.3" height="1.3" fill="#0d0d0d"/>
<rect x="258.4" y="401.9" width="1.3" height="1.3" fill="#0d0d0d"/>
<rect x="260.3" y="390.6" width="1.3" height="1.3" fill="#0d0d0d"/>
<rect x="252.5" y="406.5" width="1.3" height="1.3" fill="#0d0d0d"/>
<rect x="254.2" y="405.3" width="1.3" height="1.3" fill="#0d0d0d"/>
<rect x="259.0" y="402.4" width="1.3" height="1.3" fill="#0d0d0d"/>
<rect x="253.9" y="389.8" width="1.3" height="1.3" fill="#0d0d0d"/>
<rect x="253.6" y="387.9" width="1.3" height="1.3" fill="#0d0d0d"/>
<rect x="259.4" y="404.2" width="1.3" height="1.3" fill="#0d0d0d"/>
<rect x="256.8" y="404.3" width="1.3" height="1.3" fill="#0d0d0d"/>
<rect x="263.5" y="398.1" width="1.3" height="1.3" fill="#0d0d0d"/>
<rect x="251.4" y="404.1" width="1.3" height="1.3" fill="#0d0d0d"/>
<rect x="262.0" y="398.7" width="1.3" height="1.3" fill="#0d0d0d"/>
<rect x="260.0" y="402.5" width="1.3" height="1.3" fill="#0d0d0d"/>
<rect x="258.9" y="401.4" width="1.3" height="1.3" fill="#0d0d0d"/>
<rect x="255.5" y="404.8" width="1.3" height="1.3" fill="#0d0d0d"/>
<rect x="257.5" y="386.2" width="1.3" height="1.3" fill="#0d0d0d"/>
<rect x="261.8" y="397.1" width="1.3" height="1.3" fill="#0d0d0d"/>
<rect x="261.5" y="401.5" width="1.3" height="1.3" fill="#0d0d0d"/>
<rect x="264.1" y="404.4" width="1.3" height="1.3" fill="#0d0d0d"/>
<rect x="259.2" y="396.0" width="1.3" height="1.3" fill="#0d0d0d"/>
<rect x="263.9" y="397.4" width="1.3" height="1.3" fill="#0d0d0d"/>
<rect x="265.2" y="396.7" width="1.3" height="1.3" fill="#0d0d0d"/>
<rect x="262.0" y="395.6" width="1.3" height="1.3" fill="#0d0d0d"/>
<rect x="261.8" y="400.0" width="1.3" height="1.3" fill="#0d0d0d"/>
<rect x="263.1" y="392.7" width="1.3" height="1.3" fill="#0d0d0d"/>
<rect x="264.7" y="392.4" width="1.3" height="1.3" fill="#0d0d0d"/>
<rect x="263.8" y="390.6" width="1.3" height="1.3" fill="#0d0d0d"/>
<rect x="266.1" y="384.9" width="1.3" height="1.3" fill="#0d0d0d"/>
<rect x="264.0" y="395.6" width="1.3" height="1.3" fill="#0d0d0d"/>
<rect x="265.1" y="394.8" width="1.3" height="1.3" fill="#0d0d0d"/>
<rect x="267.2" y="396.9" width="1.3" height="1.3" fill="#0d0d0d"/>
<rect x="266.1" y="390.2" width="1.3" height="1.3" fill="#0d0d0d"/>
<rect x="264.4" y="389.1" width="1.3" height="1.3" fill="#0d0d0d"/>
<rect x="265.0" y="394.9" width="1.3" height="1.3" fill="#0d0d0d"/>
<rect x="268.3" y="393.0" width="1.3" height="1.3" fill="#0d0d0d"/>
<rect x="268.7" y="398.7" width="1.3" height="1.3" fill="#0d0d0d"/>
<rect x="267.7" y="390.9" width="1.3" height="1.3" fill="#0d0d0d"/>
<rect x="264.5" y="393.4" width="1.3" height="1.3" fill="#0d0d0d"/>
<rect x="266.6" y="399.6" width="1.3" height="1.3" fill="#0d0d0d"/>
<rect x="269.4" y="397.2" width="1.3" height="1.3" fill="#0d0d0d"/>
<rect x="268.7" y="395.5" width="1.3" height="1.3" fill="#0d0d0d"/>
<rect x="264.6" y="392.5" width="1.3" height="1.3" fill="#0d0d0d"/>
<rect x="269.4" y="395.2" width="1.3" height="1.3" fill="#0d0d0d"/>
<rect x="265.4" y="386.6" width="1.3" height="1.3" fill="#0d0d0d"/>
<rect x="262.6" y="393.2" width="1.3" height="1.3" fill="#0d0d0d"/>
<rect x="261.7" y="390.0" width="1.3" height="1.3" fill="#0d0d0d"/>
<rect x="265.1" y="395.9" width="1.3" height="1.3" fill="#0d0d0d"/>
<rect x="267.6" y="393.6" width="1.3" height="1.3" fill="#0d0d0d"/>
<rect x="275.1" y="386.7" width="1.3" height="1.3" fill="#0d0d0d"/>
<rect x="271.6" y="399.1" width="1.3" height="1.3" fill="#0d0d0d"/>
<rect x="261.9" y="404.4" width="1.3" height="1.3" fill="#0d0d0d"/>
<rect x="265.7" y="391.0" width="1.3" height="1.3" fill="#0d0d0d"/>
<rect x="265.7" y="393.0" width="1.3" height="1.3" fill="#0d0d0d"/>
<rect x="268.6" y="391.1" width="1.3" height="1.3" fill="#0d0d0d"/>
<rect x="268.7" y="394.6" width="1.3" height="1.3" fill="#0d0d0d"/>
<rect x="264.6" y="391.0" width="1.3" height="1.3" fill="#0d0d0d"/>
<rect x="265.2" y="396.9" width="1.3" height="1.3" fill="#0d0d0d"/>
<rect x="264.0" y="381.3" width="1.3" height="1.3" fill="#0d0d0d"/>
<rect x="264.4" y="396.3" width="1.3" height="1.3" fill="#0d0d0d"/>
<rect x="267.1" y="397.1" width="1.3" height="1.3" fill="#0d0d0d"/>
<rect x="265.2" y="390.7" width="1.3" height="1.3" fill="#0d0d0d"/>
<rect x="259.6" y="397.8" width="1.3" height="1.3" fill="#0d0d0d"/>
<rect x="265.0" y="393.9" width="1.3" height="1.3" fill="#0d0d0d"/>
<rect x="257.9" y="405.1" width="1.3" height="1.3" fill="#0d0d0d"/>
<rect x="246.8" y="406.6" width="1.3" height="1.3" fill="#0d0d0d"/>
<rect x="250.8" y="405.3" width="1.3" height="1.3" fill="#0d0d0d"/>
<rect x="238.0" y="406.1" width="1.3" height="1.3" fill="#0d0d0d"/>
<rect x="244.8" y="404.3" width="1.3" height="1.3" fill="#0d0d0d"/>
<rect x="252.1" y="407.2" width="1.3" height="1.3" fill="#0d0d0d"/>
<rect x="251.1" y="404.8" width="1.3" height="1.3" fill="#0d0d0d"/>
<rect x="240.1" y="404.2" width="1.3" height="1.3" fill="#0d0d0d"/>
<rect x="248.7" y="405.3" width="1.3" height="1.3" fill="#0d0d0d"/>
<rect x="250.3" y="406.6" width="1.3" height="1.3" fill="#0d0d0d"/>
<rect x="239.4" y="408.7" width="1.3" height="1.3" fill="#0d0d0d"/>
<rect x="239.8" y="405.2" width="1.3" height="1.3" fill="#0d0d0d"/>
<rect x="254.0" y="406.6" width="1.3" height="1.3" fill="#0d0d0d"/>
<rect x="249.1" y="406.0" width="1.3" height="1.3" fill="#0d0d0d"/>
<rect x="253.0" y="405.2" width="1.3" height="1.3" fill="#0d0d0d"/>
<rect x="238.8" y="405.1" width="1.3" height="1.3" fill="#0d0d0d"/>
<rect x="260.7" y="405.1" width="1.3" height="1.3" fill="#0d0d0d"/>
<rect x="240.2" y="404.4" width="1.3" height="1.3" fill="#0d0d0d"/>
<rect x="239.7" y="405.5" width="1.3" height="1.3" fill="#0d0d0d"/>
<rect x="254.4" y="407.0" width="1.3" height="1.3" fill="#0d0d0d"/>
<rect x="234.3" y="406.2" width="1.3" height="1.3" fill="#0d0d0d"/>
<rect x="257.2" y="406.0" width="1.3" height="1.3" fill="#0d0d0d"/>
<rect x="241.7" y="406.3" width="1.3" height="1.3" fill="#0d0d0d"/>
<rect x="240.2" y="409.5" width="1.3" height="1.3" fill="#0d0d0d"/>
<rect x="234.7" y="404.2" width="1.3" height="1.3" fill="#0d0d0d"/>
<rect x="262.1" y="404.4" width="1.3" height="1.3" fill="#0d0d0d"/>
<rect x="264.5" y="403.2" width="1.3" height="1.3" fill="#0d0d0d"/>
<rect x="257.4" y="404.9" width="1.3" height="1.3" fill="#0d0d0d"/>
<rect x="242.8" y="406.1" width="1.3" height="1.3" fill="#0d0d0d"/>
<rect x="254.8" y="405.4" width="1.3" height="1.3" fill="#0d0d0d"/>
<rect x="242.5" y="407.7" width="1.3" height="1.3" fill="#0d0d0d"/>
<rect x="244.0" y="407.1" width="1.3" height="1.3" fill="#0d0d0d"/>
<rect x="241.5" y="406.6" width="1.3" height="1.3" fill="#0d0d0d"/>
<rect x="231.5" y="404.1" width="1.3" height="1.3" fill="#0d0d0d"/>
<rect x="241.2" y="406.7" width="1.3" height="1.3" fill="#0d0d0d"/>
<rect x="250.6" y="405.8" width="1.3" height="1.3" fill="#0d0d0d"/>
<rect x="249.7" y="408.0" width="1.3" height="1.3" fill="#0d0d0d"/>
<rect x="241.7" y="404.7" width="1.3" height="1.3" fill="#0d0d0d"/>
<rect x="251.0" y="407.1" width="1.3" height="1.3" fill="#0d0d0d"/>
<rect x="262.8" y="402.9" width="1.3" height="1.3" fill="#0d0d0d"/>
<rect x="245.8" y="408.8" width="1.3" height="1.3" fill="#0d0d0d"/>
<rect x="247.6" y="406.2" width="1.3" height="1.3" fill="#0d0d0d"/>
<rect x="255.4" y="407.3" width="1.3" height="1.3" fill="#0d0d0d"/>
<rect x="251.3" y="409.8" width="1.3" height="1.3" fill="#0d0d0d"/>
<rect x="245.5" y="408.0" width="1.3" height="1.3" fill="#0d0d0d"/>
<rect x="258.2" y="408.9" width="1.3" height="1.3" fill="#0d0d0d"/>
<rect x="246.5" y="407.5" width="1.3" height="1.3" fill="#0d0d0d"/>
<rect x="243.4" y="407.2" width="1.3" height="1.3" fill="#0d0d0d"/>
<rect x="259.3" y="407.7" width="1.3" height="1.3" fill="#0d0d0d"/>
<rect x="251.8" y="406.9" width="1.3" height="1.3" fill="#0d0d0d"/>
<rect x="256.6" y="406.5" width="1.3" height="1.3" fill="#0d0d0d"/>
<rect x="225.2" y="406.0" width="1.3" height="1.3" fill="#0d0d0d"/>
<rect x="267.2" y="406.9" width="1.3" height="1.3" fill="#0d0d0d"/>
<rect x="251.3" y="407.3" width="1.3" height="1.3" fill="#0d0d0d"/>
<rect x="261.0" y="404.5" width="1.3" height="1.3" fill="#0d0d0d"/>
<rect x="250.0" y="405.6" width="1.3" height="1.3" fill="#0d0d0d"/>
<rect x="250.3" y="407.4" width="1.3" height="1.3" fill="#0d0d0d"/>
<rect x="239.3" y="408.1" width="1.3" height="1.3" fill="#0d0d0d"/>
<rect x="256.8" y="406.7" width="1.3" height="1.3" fill="#0d0d0d"/>
<rect x="253.3" y="406.2" width="1.3" height="1.3" fill="#0d0d0d"/>
<rect x="238.7" y="405.7" width="1.3" height="1.3" fill="#0d0d0d"/>
<rect x="238.3" y="404.9" width="1.3" height="1.3" fill="#0d0d0d"/>
<rect x="236.2" y="407.2" width="1.3" height="1.3" fill="#0d0d0d"/>
<rect x="266.9" y="399.4" width="1.3" height="1.3" fill="#0d0d0d"/>
<rect x="248.9" y="409.4" width="1.3" height="1.3" fill="#0d0d0d"/>
<rect x="245.6" y="404.0" width="1.3" height="1.3" fill="#0d0d0d"/>
<rect x="230.8" y="407.1" width="1.3" height="1.3" fill="#0d0d0d"/>
<rect x="256.1" y="405.9" width="1.3" height="1.3" fill="#0d0d0d"/>
<rect x="257.4" y="406.5" width="1.3" height="1.3" fill="#0d0d0d"/>
<rect x="246.8" y="406.9" width="1.3" height="1.3" fill="#0d0d0d"/>
<rect x="239.1" y="405.5" width="1.3" height="1.3" fill="#0d0d0d"/>
<rect x="246.9" y="404.4" width="1.3" height="1.3" fill="#0d0d0d"/>
<rect x="247.4" y="405.7" width="1.3" height="1.3" fill="#0d0d0d"/>
<rect x="258.6" y="405.5" width="1.3" height="1.3" fill="#0d0d0d"/>
<rect x="252.3" y="406.5" width="1.3" height="1.3" fill="#0d0d0d"/>
<rect x="260.3" y="404.9" width="1.3" height="1.3" fill="#0d0d0d"/>
<rect x="260.2" y="407.3" width="1.3" height="1.3" fill="#0d0d0d"/>
<rect x="236.7" y="406.9" width="1.3" height="1.3" fill="#0d0d0d"/>
<rect x="247.1" y="405.2" width="1.3" height="1.3" fill="#0d0d0d"/>
<rect x="240.1" y="405.1" width="1.3" height="1.3" fill="#0d0d0d"/>
<rect x="250.6" y="405.7" width="1.3" height="1.3" fill="#0d0d0d"/>
<rect x="254.0" y="407.0" width="1.3" height="1.3" fill="#0d0d0d"/>
<rect x="249.8" y="407.0" width="1.3" height="1.3" fill="#0d0d0d"/>
<rect x="230.9" y="405.3" width="1.3" height="1.3" fill="#0d0d0d"/>
<rect x="215.3" y="403.3" width="1.3" height="1.3" fill="#0d0d0d"/>
<rect x="239.2" y="405.0" width="1.3" height="1.3" fill="#0d0d0d"/>
<rect x="256.9" y="405.6" width="1.3" height="1.3" fill="#0d0d0d"/>
<rect x="241.8" y="405.5" width="1.3" height="1.3" fill="#0d0d0d"/>
<rect x="246.0" y="406.2" width="1.3" height="1.3" fill="#0d0d0d"/>
<rect x="250.3" y="407.2" width="1.3" height="1.3" fill="#0d0d0d"/>
<rect x="235.8" y="408.1" width="1.3" height="1.3" fill="#0d0d0d"/>
<rect x="238.7" y="407.2" width="1.3" height="1.3" fill="#0d0d0d"/>
<rect x="234.2" y="407.0" width="1.3" height="1.3" fill="#0d0d0d"/>
<rect x="260.0" y="402.1" width="1.3" height="1.3" fill="#0d0d0d"/>
<rect x="246.7" y="407.8" width="1.3" height="1.3" fill="#0d0d0d"/>
<rect x="234.1" y="407.3" width="1.3" height="1.3" fill="#0d0d0d"/>
<rect x="241.8" y="407.0" width="1.3" height="1.3" fill="#0d0d0d"/>
<rect x="252.3" y="405.4" width="1.3" height="1.3" fill="#0d0d0d"/>
<rect x="252.2" y="406.4" width="1.3" height="1.3" fill="#0d0d0d"/>
<rect x="231.0" y="405.5" width="1.3" height="1.3" fill="#0d0d0d"/>
<rect x="251.4" y="406.0" width="1.3" height="1.3" fill="#0d0d0d"/>
<rect x="260.8" y="407.3" width="1.3" height="1.3" fill="#0d0d0d"/>
<rect x="248.9" y="405.7" width="1.3" height="1.3" fill="#0d0d0d"/>
<rect x="240.1" y="406.9" width="1.3" height="1.3" fill="#0d0d0d"/>
<rect x="243.5" y="407.7" width="1.3" height="1.3" fill="#0d0d0d"/>
<rect x="237.1" y="407.0" width="1.3" height="1.3" fill="#0d0d0d"/>
<rect x="245.4" y="407.5" width="1.3" height="1.3" fill="#0d0d0d"/>
<rect x="236.6" y="405.2" width="1.3" height="1.3" fill="#0d0d0d"/>
<rect x="240.0" y="406.2" width="1.3" height="1.3" fill="#0d0d0d"/>
<rect x="228.5" y="406.6" width="1.3" height="1.3" fill="#0d0d0d"/>
<rect x="246.3" y="407.1" width="1.3" height="1.3" fill="#0d0d0d"/>
<rect x="240.3" y="406.6" width="1.3" height="1.3" fill="#0d0d0d"/>
<rect x="246.1" y="407.5" width="1.3" height="1.3" fill="#0d0d0d"/>
<rect x="257.9" y="405.4" width="1.3" height="1.3" fill="#0d0d0d"/>
<rect x="234.3" y="407.1" width="1.3" height="1.3" fill="#0d0d0d"/>
<rect x="233.6" y="406.9" width="1.3" height="1.3" fill="#0d0d0d"/>
<rect x="240.8" y="405.0" width="1.3" height="1.3" fill="#0d0d0d"/>
<rect x="232.0" y="411.1" width="1.3" height="1.3" fill="#0d0d0d"/>
<rect x="247.2" y="404.1" width="1.3" height="1.3" fill="#0d0d0d"/>
<rect x="241.5" y="404.9" width="1.3" height="1.3" fill="#0d0d0d"/>
<rect x="251.7" y="408.9" width="1.3" height="1.3" fill="#0d0d0d"/>
<rect x="240.6" y="408.0" width="1.3" height="1.3" fill="#0d0d0d"/>
<rect x="253.7" y="404.4" width="1.3" height="1.3" fill="#0d0d0d"/>
<rect x="234.2" y="406.0" width="1.3" height="1.3" fill="#0d0d0d"/>
<rect x="241.1" y="408.9" width="1.3" height="1.3" fill="#0d0d0d"/>
<rect x="240.9" y="408.8" width="1.3" height="1.3" fill="#0d0d0d"/>
<rect x="242.2" y="405.4" width="1.3" height="1.3" fill="#0d0d0d"/>
<rect x="254.4" y="405.4" width="1.3" height="1.3" fill="#0d0d0d"/>
<rect x="254.4" y="405.5" width="1.3" height="1.3" fill="#0d0d0d"/>
<rect x="250.2" y="404.8" width="1.3" height="1.3" fill="#0d0d0d"/>
<rect x="239.2" y="407.0" width="1.3" height="1.3" fill="#0d0d0d"/>
<rect x="247.6" y="404.1" width="1.3" height="1.3" fill="#0d0d0d"/>
<rect x="245.0" y="406.3" width="1.3" height="1.3" fill="#0d0d0d"/>
<rect x="245.9" y="406.0" width="1.3" height="1.3" fill="#0d0d0d"/>
<rect x="241.0" y="407.2" width="1.3" height="1.3" fill="#0d0d0d"/>
<rect x="243.8" y="405.0" width="1.3" height="1.3" fill="#0d0d0d"/>
<rect x="233.2" y="406.0" width="1.3" height="1.3" fill="#0d0d0d"/>
<rect x="234.6" y="405.6" width="1.3" height="1.3" fill="#0d0d0d"/>
<rect x="240.8" y="406.5" width="1.3" height="1.3" fill="#0d0d0d"/>
<rect x="233.8" y="411.2" width="1.3" height="1.3" fill="#0d0d0d"/>
<rect x="233.9" y="411.7" width="1.3" height="1.3" fill="#0d0d0d"/>
<rect x="226.9" y="406.8" width="1.3" height="1.3" fill="#0d0d0d"/>
<rect x="227.5" y="410.7" width="1.3" height="1.3" fill="#0d0d0d"/>
<rect x="228.8" y="411.9" width="1.3" height="1.3" fill="#0d0d0d"/>
<rect x="227.9" y="406.2" width="1.3" height="1.3" fill="#0d0d0d"/>
<rect x="231.3" y="413.6" width="1.3" height="1.3" fill="#0d0d0d"/>
<rect x="233.0" y="408.4" width="1.3" height="1.3" fill="#0d0d0d"/>
<rect x="223.5" y="409.0" width="1.3" height="1.3" fill="#0d0d0d"/>
<rect x="228.8" y="409.3" width="1.3" height="1.3" fill="#0d0d0d"/>
<rect x="232.2" y="408.3" width="1.3" height="1.3" fill="#0d0d0d"/>
<rect x="232.6" y="412.8" width="1.3" height="1.3" fill="#0d0d0d"/>
<rect x="226.4" y="413.6" width="1.3" height="1.3" fill="#0d0d0d"/>
<rect x="228.4" y="410.9" width="1.3" height="1.3" fill="#0d0d0d"/>
<rect x="232.3" y="413.0" width="1.3" height="1.3" fill="#0d0d0d"/>
<rect x="230.7" y="411.0" width="1.3" height="1.3" fill="#0d0d0d"/>
<rect x="226.8" y="412.0" width="1.3" height="1.3" fill="#0d0d0d"/>
<rect x="239.7" y="409.7" width="1.3" height="1.3" fill="#0d0d0d"/>
<rect x="231.2" y="406.1" width="1.3" height="1.3" fill="#0d0d0d"/>
<rect x="227.1" y="409.2" width="1.3" height="1.3" fill="#0d0d0d"/>
<rect x="227.6" y="414.4" width="1.3" height="1.3" fill="#0d0d0d"/>
<rect x="230.5" y="409.6" width="1.3" height="1.3" fill="#0d0d0d"/>
<rect x="234.3" y="413.6" width="1.3" height="1.3" fill="#0d0d0d"/>
<rect x="241.8" y="404.3" width="1.3" height="1.3" fill="#0d0d0d"/>
<rect x="229.6" y="412.1" width="1.3" height="1.3" fill="#0d0d0d"/>
<rect x="231.2" y="408.5" width="1.3" height="1.3" fill="#0d0d0d"/>
<rect x="228.9" y="409.6" width="1.3" height="1.3" fill="#0d0d0d"/>
<rect x="232.0" y="411.5" width="1.3" height="1.3" fill="#0d0d0d"/>
<rect x="230.3" y="409.5" width="1.3" height="1.3" fill="#0d0d0d"/>
<rect x="229.1" y="410.0" width="1.3" height="1.3" fill="#0d0d0d"/>
<rect x="230.0" y="414.1" width="1.3" height="1.3" fill="#0d0d0d"/>
<rect x="231.9" y="409.8" width="1.3" height="1.3" fill="#0d0d0d"/>
<rect x="230.5" y="411.1" width="1.3" height="1.3" fill="#0d0d0d"/>
<rect x="230.4" y="411.5" width="1.3" height="1.3" fill="#0d0d0d"/>
<rect x="233.8" y="411.2" width="1.3" height="1.3" fill="#0d0d0d"/>
<rect x="226.9" y="411.6" width="1.3" height="1.3" fill="#0d0d0d"/>
<rect x="235.2" y="405.5" width="1.3" height="1.3" fill="#0d0d0d"/>
<rect x="231.2" y="409.4" width="1.3" height="1.3" fill="#0d0d0d"/>
<rect x="231.3" y="409.2" width="1.3" height="1.3" fill="#0d0d0d"/>
<rect x="226.4" y="407.9" width="1.3" height="1.3" fill="#0d0d0d"/>
<rect x="226.6" y="412.3" width="1.3" height="1.3" fill="#0d0d0d"/>
<rect x="224.5" y="407.2" width="1.3" height="1.3" fill="#0d0d0d"/>
<rect x="229.6" y="412.2" width="1.3" height="1.3" fill="#0d0d0d"/>
<rect x="228.1" y="409.8" width="1.3" height="1.3" fill="#0d0d0d"/>
<rect x="228.6" y="405.2" width="1.3" height="1.3" fill="#0d0d0d"/>
<rect x="234.6" y="386.3" width="1.3" height="1.3" fill="#0d0d0d"/>
<rect x="252.3" y="386.1" width="1.3" height="1.3" fill="#0d0d0d"/>
<rect x="254.8" y="387.1" width="1.3" height="1.3" fill="#0d0d0d"/>
<rect x="229.0" y="385.2" width="1.3" height="1.3" fill="#0d0d0d"/>
<rect x="245.3" y="386.1" width="1.3" height="1.3" fill="#0d0d0d"/>
<rect x="257.0" y="386.2" width="1.3" height="1.3" fill="#0d0d0d"/>
<rect x="222.6" y="385.1" width="1.3" height="1.3" fill="#0d0d0d"/>
<rect x="244.4" y="384.9" width="1.3" height="1.3" fill="#0d0d0d"/>
<rect x="226.4" y="386.1" width="1.3" height="1.3" fill="#0d0d0d"/>
<rect x="232.5" y="386.0" width="1.3" height="1.3" fill="#0d0d0d"/>
<rect x="215.2" y="385.9" width="1.3" height="1.3" fill="#0d0d0d"/>
<rect x="216.5" y="386.6" width="1.3" height="1.3" fill="#0d0d0d"/>
<rect x="225.6" y="385.5" width="1.3" height="1.3" fill="#0d0d0d"/>
<rect x="223.4" y="386.6" width="1.3" height="1.3" fill="#0d0d0d"/>
<rect x="227.6" y="384.9" width="1.3" height="1.3" fill="#0d0d0d"/>
<rect x="224.8" y="387.4" width="1.3" height="1.3" fill="#0d0d0d"/>
<rect x="250.2" y="387.1" width="1.3" height="1.3" fill="#0d0d0d"/>
<rect x="226.3" y="385.5" width="1.3" height="1.3" fill="#0d0d0d"/>
<rect x="221.9" y="386.2" width="1.3" height="1.3" fill="#0d0d0d"/>
<rect x="242.5" y="384.8" width="1.3" height="1.3" fill="#0d0d0d"/>
<rect x="256.1" y="385.8" width="1.3" height="1.3" fill="#0d0d0d"/>
<rect x="217.2" y="386.8" width="1.3" height="1.3" fill="#0d0d0d"/>
<rect x="249.5" y="385.3" width="1.3" height="1.3" fill="#0d0d0d"/>
<rect x="218.7" y="387.5" width="1.3" height="1.3" fill="#0d0d0d"/>
<rect x="251.8" y="384.8" width="1.3" height="1.3" fill="#0d0d0d"/>
<rect x="236.5" y="386.0" width="1.3" height="1.3" fill="#0d0d0d"/>
<rect x="250.5" y="385.5" width="1.3" height="1.3" fill="#0d0d0d"/>
<rect x="215.5" y="387.0" width="1.3" height="1.3" fill="#0d0d0d"/>
<rect x="223.4" y="385.3" width="1.3" height="1.3" fill="#0d0d0d"/>
<rect x="221.0" y="386.9" width="1.3" height="1.3" fill="#0d0d0d"/>
<rect x="223.4" y="385.3" width="1.3" height="1.3" fill="#0d0d0d"/>
<rect x="216.0" y="386.6" width="1.3" height="1.3" fill="#0d0d0d"/>
<rect x="217.3" y="385.2" width="1.3" height="1.3" fill="#0d0d0d"/>
<rect x="219.9" y="386.1" width="1.3" height="1.3" fill="#0d0d0d"/>
<rect x="258.2" y="384.9" width="1.3" height="1.3" fill="#0d0d0d"/>
<rect x="220.0" y="385.4" width="1.3" height="1.3" fill="#0d0d0d"/>
<rect x="237.5" y="386.9" width="1.3" height="1.3" fill="#0d0d0d"/>
<rect x="243.4" y="386.0" width="1.3" height="1.3" fill="#0d0d0d"/>
<rect x="217.8" y="384.6" width="1.3" height="1.3" fill="#0d0d0d"/>
<rect x="227.0" y="384.1" width="1.3" height="1.3" fill="#0d0d0d"/>
<rect x="241.3" y="386.7" width="1.3" height="1.3" fill="#0d0d0d"/>
<rect x="243.1" y="385.0" width="1.3" height="1.3" fill="#0d0d0d"/>
<rect x="239.6" y="387.1" width="1.3" height="1.3" fill="#0d0d0d"/>
<rect x="237.0" y="384.5" width="1.3" height="1.3" fill="#0d0d0d"/>
<rect x="230.5" y="386.5" width="1.3" height="1.3" fill="#0d0d0d"/>
<rect x="214.2" y="409.2" width="1.3" height="1.3" fill="#0d0d0d"/>
<rect x="215.0" y="400.9" width="1.3" height="1.3" fill="#0d0d0d"/>
<rect x="214.6" y="394.0" width="1.3" height="1.3" fill="#0d0d0d"/>
<rect x="213.3" y="420.5" width="1.3" height="1.3" fill="#0d0d0d"/>
<rect x="214.3" y="397.0" width="1.3" height="1.3" fill="#0d0d0d"/>
<rect x="213.5" y="410.3" width="1.3" height="1.3" fill="#0d0d0d"/>
<rect x="214.8" y="414.3" width="1.3" height="1.3" fill="#0d0d0d"/>
<rect x="214.2" y="388.1" width="1.3" height="1.3" fill="#0d0d0d"/>
<rect x="214.1" y="434.5" width="1.3" height="1.3" fill="#0d0d0d"/>
<rect x="213.8" y="411.4" width="1.3" height="1.3" fill="#0d0d0d"/>
<rect x="213.0" y="405.3" width="1.3" height="1.3" fill="#0d0d0d"/>
<rect x="213.3" y="397.2" width="1.3" height="1.3" fill="#0d0d0d"/>
<rect x="213.4" y="415.9" width="1.3" height="1.3" fill="#0d0d0d"/>
<rect x="212.4" y="398.7" width="1.3" height="1.3" fill="#0d0d0d"/>
<rect x="212.1" y="396.9" width="1.3" height="1.3" fill="#0d0d0d"/>
<rect x="213.7" y="416.0" width="1.3" height="1.3" fill="#0d0d0d"/>
<rect x="213.2" y="392.2" width="1.3" height="1.3" fill="#0d0d0d"/>
<rect x="214.7" y="433.4" width="1.3" height="1.3" fill="#0d0d0d"/>
<rect x="223.9" y="429.4" width="1.3" height="1.3" fill="#0d0d0d"/>
<rect x="229.5" y="420.9" width="1.3" height="1.3" fill="#0d0d0d"/>
<rect x="230.4" y="415.1" width="1.3" height="1.3" fill="#0d0d0d"/>
<rect x="233.5" y="423.0" width="1.3" height="1.3" fill="#0d0d0d"/>
<rect x="232.3" y="428.8" width="1.3" height="1.3" fill="#0d0d0d"/>
<rect x="232.9" y="433.5" width="1.3" height="1.3" fill="#0d0d0d"/>
<rect x="227.5" y="429.7" width="1.3" height="1.3" fill="#0d0d0d"/>
<rect x="225.0" y="427.5" width="1.3" height="1.3" fill="#0d0d0d"/>
<rect x="230.0" y="425.3" width="1.3" height="1.3" fill="#0d0d0d"/>
<rect x="232.8" y="426.4" width="1.3" height="1.3" fill="#0d0d0d"/>
<rect x="226.4" y="438.0" width="1.3" height="1.3" fill="#0d0d0d"/>
<rect x="227.2" y="425.6" width="1.3" height="1.3" fill="#0d0d0d"/>
<rect x="231.2" y="426.7" width="1.3" height="1.3" fill="#0d0d0d"/>
<rect x="233.4" y="426.1" width="1.3" height="1.3" fill="#0d0d0d"/>
<rect x="228.8" y="435.9" width="1.3" height="1.3" fill="#0d0d0d"/>
<rect x="232.3" y="417.1" width="1.3" height="1.3" fill="#0d0d0d"/>
<rect x="232.3" y="418.8" width="1.3" height="1.3" fill="#0d0d0d"/>
<rect x="231.8" y="416.7" width="1.3" height="1.3" fill="#0d0d0d"/>
<rect x="233.6" y="440.4" width="1.3" height="1.3" fill="#0d0d0d"/>
<rect x="234.2" y="423.1" width="1.3" height="1.3" fill="#0d0d0d"/>
<rect x="229.1" y="414.8" width="1.3" height="1.3" fill="#0d0d0d"/>
<rect x="230.0" y="430.4" width="1.3" height="1.3" fill="#0d0d0d"/>
<rect x="233.8" y="428.2" width="1.3" height="1.3" fill="#0d0d0d"/>
<rect x="228.7" y="421.7" width="1.3" height="1.3" fill="#0d0d0d"/>
<rect x="232.1" y="421.6" width="1.3" height="1.3" fill="#0d0d0d"/>
<rect x="227.4" y="419.5" width="1.3" height="1.3" fill="#0d0d0d"/>
<rect x="227.7" y="418.2" width="1.3" height="1.3" fill="#0d0d0d"/>
<rect x="233.5" y="424.4" width="1.3" height="1.3" fill="#0d0d0d"/>
<rect x="234.3" y="405.9" width="1.3" height="1.3" fill="#0d0d0d"/>
<rect x="228.8" y="442.1" width="1.3" height="1.3" fill="#0d0d0d"/>
<rect x="231.9" y="437.8" width="1.3" height="1.3" fill="#0d0d0d"/>
<rect x="231.9" y="429.8" width="1.3" height="1.3" fill="#0d0d0d"/>
<rect x="228.6" y="414.7" width="1.3" height="1.3" fill="#0d0d0d"/>
<rect x="228.9" y="415.8" width="1.3" height="1.3" fill="#0d0d0d"/>
<rect x="227.2" y="435.9" width="1.3" height="1.3" fill="#0d0d0d"/>
<rect x="228.6" y="421.2" width="1.3" height="1.3" fill="#0d0d0d"/>
<rect x="230.2" y="434.8" width="1.3" height="1.3" fill="#0d0d0d"/>
<rect x="234.0" y="439.1" width="1.3" height="1.3" fill="#0d0d0d"/>
<rect x="226.2" y="435.1" width="1.3" height="1.3" fill="#0d0d0d"/>
<rect x="227.7" y="422.5" width="1.3" height="1.3" fill="#0d0d0d"/>
<rect x="232.3" y="446.6" width="1.3" height="1.3" fill="#0d0d0d"/>
<rect x="232.5" y="434.4" width="1.3" height="1.3" fill="#0d0d0d"/>
<rect x="222.0" y="415.8" width="1.3" height="1.3" fill="#0d0d0d"/>
<rect x="228.8" y="427.0" width="1.3" height="1.3" fill="#0d0d0d"/>
<rect x="227.0" y="426.8" width="1.3" height="1.3" fill="#0d0d0d"/>
<rect x="230.2" y="435.0" width="1.3" height="1.3" fill="#0d0d0d"/>
<rect x="231.1" y="424.5" width="1.3" height="1.3" fill="#0d0d0d"/>
<rect x="224.0" y="425.1" width="1.3" height="1.3" fill="#0d0d0d"/>
<rect x="234.0" y="420.5" width="1.3" height="1.3" fill="#0d0d0d"/>
<rect x="229.3" y="417.7" width="1.3" height="1.3" fill="#0d0d0d"/>
<rect x="235.1" y="434.7" width="1.3" height="1.3" fill="#0d0d0d"/>
<rect x="222.8" y="429.6" width="1.3" height="1.3" fill="#0d0d0d"/>
<rect x="226.8" y="426.5" width="1.3" height="1.3" fill="#0d0d0d"/>
<rect x="229.5" y="417.7" width="1.3" height="1.3" fill="#0d0d0d"/>
<rect x="222.9" y="418.1" width="1.3" height="1.3" fill="#0d0d0d"/>
<rect x="246.2" y="415.3" width="1.3" height="1.3" fill="#0d0d0d"/>
<rect x="249.9" y="432.7" width="1.3" height="1.3" fill="#0d0d0d"/>
<rect x="251.5" y="446.8" width="1.3" height="1.3" fill="#0d0d0d"/>
<rect x="252.4" y="435.8" width="1.3" height="1.3" fill="#0d0d0d"/>
<rect x="237.2" y="419.1" width="1.3" height="1.3" fill="#0d0d0d"/>
<rect x="255.3" y="419.8" width="1.3" height="1.3" fill="#0d0d0d"/>
<rect x="239.7" y="438.4" width="1.3" height="1.3" fill="#0d0d0d"/>
<rect x="243.3" y="414.2" width="1.3" height="1.3" fill="#0d0d0d"/>
<rect x="254.2" y="422.9" width="1.3" height="1.3" fill="#0d0d0d"/>
<rect x="254.0" y="446.8" width="1.3" height="1.3" fill="#0d0d0d"/>
<rect x="237.4" y="412.2" width="1.3" height="1.3" fill="#0d0d0d"/>
<rect x="250.2" y="442.1" width="1.3" height="1.3" fill="#0d0d0d"/>
<rect x="250.6" y="431.2" width="1.3" height="1.3" fill="#0d0d0d"/>
<rect x="237.2" y="421.4" width="1.3" height="1.3" fill="#0d0d0d"/>
<rect x="251.0" y="435.0" width="1.3" height="1.3" fill="#0d0d0d"/>
<rect x="250.7" y="428.3" width="1.3" height="1.3" fill="#0d0d0d"/>
<rect x="269.5" y="410.3" width="1.3" height="1.3" fill="#0d0d0d"/>
<rect x="276.5" y="391.6" width="1.3" height="1.3" fill="#0d0d0d"/>
<rect x="267.9" y="385.8" width="1.3" height="1.3" fill="#0d0d0d"/>
<rect x="287.5" y="397.3" width="1.3" height="1.3" fill="#0d0d0d"/>
<rect x="268.4" y="406.4" width="1.3" height="1.3" fill="#0d0d0d"/>
<rect x="263.1" y="415.6" width="1.3" height="1.3" fill="#0d0d0d"/>
<rect x="262.1" y="394.9" width="1.3" height="1.3" fill="#0d0d0d"/>
<rect x="270.3" y="418.1" width="1.3" height="1.3" fill="#0d0d0d"/>
<rect x="218.3" y="438.1" width="1.3" height="1.3" fill="#0d0d0d"/>
<rect x="225.1" y="438.3" width="1.3" height="1.3" fill="#0d0d0d"/>
<rect x="228.2" y="438.5" width="1.3" height="1.3" fill="#0d0d0d"/>
<rect x="218.4" y="439.6" width="1.3" height="1.3" fill="#0d0d0d"/>
<rect x="222.4" y="435.7" width="1.3" height="1.3" fill="#0d0d0d"/>
<rect x="219.5" y="437.7" width="1.3" height="1.3" fill="#0d0d0d"/>
<rect x="218.8" y="440.1" width="1.3" height="1.3" fill="#0d0d0d"/>
<rect x="215.9" y="437.7" width="1.3" height="1.3" fill="#0d0d0d"/>
<rect x="223.5" y="440.1" width="1.3" height="1.3" fill="#0d0d0d"/>
<rect x="221.6" y="438.1" width="1.3" height="1.3" fill="#0d0d0d"/>
<rect x="219.5" y="439.6" width="1.3" height="1.3" fill="#0d0d0d"/>
<rect x="216.5" y="439.4" width="1.3" height="1.3" fill="#0d0d0d"/>
<rect x="221.3" y="438.5" width="1.3" height="1.3" fill="#0d0d0d"/>
<rect x="219.9" y="439.0" width="1.3" height="1.3" fill="#0d0d0d"/>
<rect x="224.4" y="438.2" width="1.3" height="1.3" fill="#0d0d0d"/>
<rect x="226.3" y="439.6" width="1.3" height="1.3" fill="#0d0d0d"/>
<rect x="221.7" y="437.8" width="1.3" height="1.3" fill="#0d0d0d"/>
<rect x="220.3" y="438.0" width="1.3" height="1.3" fill="#0d0d0d"/>
<rect x="222.9" y="441.7" width="1.3" height="1.3" fill="#0d0d0d"/>
<rect x="223.7" y="438.1" width="1.3" height="1.3" fill="#0d0d0d"/>
<rect x="223.2" y="437.6" width="1.3" height="1.3" fill="#0d0d0d"/>
<rect x="216.9" y="439.4" width="1.3" height="1.3" fill="#0d0d0d"/>
<rect x="222.7" y="438.6" width="1.3" height="1.3" fill="#0d0d0d"/>
<rect x="220.7" y="438.5" width="1.3" height="1.3" fill="#0d0d0d"/>
<rect x="221.2" y="437.7" width="1.3" height="1.3" fill="#0d0d0d"/>
<rect x="215.3" y="437.9" width="1.3" height="1.3" fill="#0d0d0d"/>
<rect x="221.4" y="436.0" width="1.3" height="1.3" fill="#0d0d0d"/>
<rect x="223.3" y="437.4" width="1.3" height="1.3" fill="#0d0d0d"/>
<rect x="217.0" y="441.1" width="1.3" height="1.3" fill="#0d0d0d"/>
<rect x="222.9" y="438.8" width="1.3" height="1.3" fill="#0d0d0d"/>
<g filter="url(#soft)">
<rect x="216.00" y="405.00" width="11.00" height="35.00" rx="5.50" fill="rgb(185,185,185)" stroke="#808080" stroke-width="0.45"/>
<rect x="217.25" y="410.50" width="8.25" height="26.25" rx="4.12" fill="rgb(204,204,204)" stroke="#808080" stroke-width="0.45"/>
<rect x="218.50" y="416.00" width="5.50" height="17.50" rx="2.75" fill="rgb(224,224,224)" stroke="#808080" stroke-width="0.45"/>
<rect x="219.75" y="421.50" width="2.75" height="8.75" rx="1.38" fill="rgb(244,244,244)" stroke="#808080" stroke-width="0.45"/>
</g>
<g filter="url(#soft)">
<rect x="227.50" y="388.00" width="33.50" height="17.00" rx="8.50" fill="rgb(212,212,212)" stroke="#9a9a9a" stroke-width="0.45"/>
<rect x="230.58" y="389.33" width="27.92" height="14.17" rx="7.08" fill="rgb(219,219,219)" stroke="#9a9a9a" stroke-width="0.45"/>
<rect x="233.67" y="390.67" width="22.33" height="11.33" rx="5.67" fill="rgb(226,226,226)" stroke="#9a9a9a" stroke-width="0.45"/>
<rect x="236.75" y="392.00" width="16.75" height="8.50" rx="4.25" fill="rgb(233,233,233)" stroke="#9a9a9a" stroke-width="0.45"/>
<rect x="239.83" y="393.33" width="11.17" height="5.67" rx="2.83" fill="rgb(240,240,240)" stroke="#9a9a9a" stroke-width="0.45"/>
<rect x="242.92" y="394.67" width="5.58" height="2.83" rx="1.42" fill="rgb(248,248,248)" stroke="#9a9a9a" stroke-width="0.45"/>
</g>
<g filter="url(#soft)">
<rect x="214.80" y="386.30" width="19.80" height="25.00" rx="9.00" fill="rgb(168,168,168)" stroke="#777777" stroke-width="0.45"/>
<rect x="216.25" y="387.92" width="16.50" height="20.83" rx="7.50" fill="rgb(182,182,182)" stroke="#777777" stroke-width="0.45"/>
<rect x="217.70" y="389.53" width="13.20" height="16.67" rx="6.00" fill="rgb(197,197,197)" stroke="#777777" stroke-width="0.45"/>
<rect x="219.15" y="391.15" width="9.90" height="12.50" rx="4.50" fill="rgb(212,212,212)" stroke="#777777" stroke-width="0.45"/>
<rect x="220.60" y="392.77" width="6.60" height="8.33" rx="3.00" fill="rgb(227,227,227)" stroke="#777777" stroke-width="0.45"/>
<rect x="222.05" y="394.38" width="3.30" height="4.17" rx="1.50" fill="rgb(242,242,242)" stroke="#777777" stroke-width="0.45"/>
</g>
<path d="M234.0,354.6 V459.0 M202.4,415.0 H307.6" stroke="#222" stroke-width="1.1"/>
<text x="204.0" y="370.7" font-size="11.8" font-weight="bold" text-anchor="start" fill="#111" stroke="#111" stroke-width="0.6" >65.8</text>
<text x="269.3" y="370.7" font-size="11.8" font-weight="bold" text-anchor="start" fill="#111" stroke="#111" stroke-width="0.6" >24.4</text>
<text x="203.6" y="448.9" font-size="11.8" font-weight="bold" text-anchor="start" fill="#111" stroke="#111" stroke-width="0.6" >9.36</text>
<text x="269.3" y="449.2" font-size="11.8" font-weight="bold" text-anchor="start" fill="#111" stroke="#111" stroke-width="0.6" >0.39</text>
<rect x="118.3" y="228.9" width="73.3" height="57.8" fill="none" stroke="#111" stroke-width="2"/>
<text x="360.5" y="197.5" font-size="11.6" text-anchor="start" fill="#1a1a1a" stroke="#1a1a1a" stroke-width="0.14" >Proliferation</text>
<path d="M334,202.2 H444.4" stroke="#4a4a4a" stroke-width="1.3"/>
<path d="M363.1,213.70000000000002 V330.0 M358.1,330.0 H440.0" stroke="#111" stroke-width="1.6" fill="none"/>
<path d="M358.1,214.4 H363.1" stroke="#111" stroke-width="1.5"/>
<text x="356.5" y="217.6" font-size="8.8" font-weight="bold" text-anchor="end" fill="#111" stroke="#111" stroke-width="0.45" >6.0</text>
<path d="M358.1,243.3 H363.1" stroke="#111" stroke-width="1.5"/>
<text x="356.5" y="246.5" font-size="8.8" font-weight="bold" text-anchor="end" fill="#111" stroke="#111" stroke-width="0.45" >5.5</text>
<path d="M358.1,272.2 H363.1" stroke="#111" stroke-width="1.5"/>
<text x="356.5" y="275.4" font-size="8.8" font-weight="bold" text-anchor="end" fill="#111" stroke="#111" stroke-width="0.45" >5.0</text>
<path d="M358.1,301.1 H363.1" stroke="#111" stroke-width="1.5"/>
<text x="356.5" y="304.3" font-size="8.8" font-weight="bold" text-anchor="end" fill="#111" stroke="#111" stroke-width="0.45" >4.5</text>
<path d="M358.1,330.0 H363.1" stroke="#111" stroke-width="1.5"/>
<text x="356.5" y="333.2" font-size="8.8" font-weight="bold" text-anchor="end" fill="#111" stroke="#111" stroke-width="0.45" >4.0</text>
<path d="M384.9,330.0 V334.8" stroke="#111" stroke-width="1.5"/>
<path d="M418.1,330.0 V334.8" stroke="#111" stroke-width="1.5"/>
<path d="M384.5,220.3 H418.2" stroke="#3a3a3a" stroke-width="1.3"/>
<text x="401.35" y="219.80" font-size="10.5" font-weight="bold" text-anchor="middle" fill="#0a0a0a" stroke="#0a0a0a" stroke-width="0.3" stroke-linejoin="round">****</text>
<circle cx="384.9" cy="272.1" r="1.95" fill="#dc1428"/>
<circle cx="381.5" cy="277.2" r="1.95" fill="#dc1428"/>
<circle cx="388.3" cy="276.4" r="1.95" fill="#dc1428"/>
<circle cx="381.5" cy="282.2" r="1.95" fill="#dc1428"/>
<circle cx="381.5" cy="286.9" r="1.95" fill="#dc1428"/>
<circle cx="388.3" cy="285.2" r="1.95" fill="#dc1428"/>
<circle cx="384.9" cy="294.7" r="1.95" fill="#dc1428"/>
<circle cx="381.5" cy="309.8" r="1.95" fill="#dc1428"/>
<circle cx="388.3" cy="310.9" r="1.95" fill="#dc1428"/>
<circle cx="384.9" cy="315.9" r="1.95" fill="#dc1428"/>
<circle cx="418" cy="226.3" r="1.95" fill="#7326bc"/>
<circle cx="418" cy="230.3" r="1.95" fill="#7326bc"/>
<circle cx="418" cy="234.9" r="1.95" fill="#7326bc"/>
<circle cx="418" cy="247.8" r="1.95" fill="#7326bc"/>
<circle cx="414.4" cy="254.4" r="1.95" fill="#7326bc"/>
<circle cx="421.5" cy="252.4" r="1.95" fill="#7326bc"/>
<circle cx="421.5" cy="257.2" r="1.95" fill="#7326bc"/>
<circle cx="418" cy="261.5" r="1.95" fill="#7326bc"/>
<circle cx="421.5" cy="265.6" r="1.95" fill="#7326bc"/>
<circle cx="414.4" cy="268.3" r="1.95" fill="#7326bc"/>
<path d="M385.1,286.6 V296.3 M379.2,286.6 H390.7 M379.2,296.3 H390.7" stroke="#4a4a4a" stroke-width="1.05" fill="none"/>
<path d="M374.1,291.2 H396.1" stroke="#111" stroke-width="1.8"/>
<path d="M418.1,245.4 V253.9 M412.1,245.4 H423.8 M412.1,253.9 H423.8" stroke="#4a4a4a" stroke-width="1.05" fill="none"/>
<path d="M407.0,249.8 H429.2" stroke="#111" stroke-width="1.8"/>
<text transform="translate(335.2,327.7) rotate(-90)" font-size="9.15" font-weight="bold" fill="#111" stroke="#111" stroke-width="0.3">#TIM-3+Ki67+ PD-1+<tspan font-size="7.05"> (Log</tspan><tspan font-size="4.94" dy="1.8">10</tspan><tspan font-size="7.05" dy="-1.8">)</tspan></text>
<path d="M363.1,353.1 V469.3 M358.1,469.3 H440.0" stroke="#111" stroke-width="1.6" fill="none"/>
<path d="M358.1,353.8 H363.1" stroke="#111" stroke-width="1.5"/>
<text x="356.5" y="357.0" font-size="8.8" font-weight="bold" text-anchor="end" fill="#111" stroke="#111" stroke-width="0.45" >5.5</text>
<path d="M358.1,373.1 H363.1" stroke="#111" stroke-width="1.5"/>
<text x="356.5" y="376.3" font-size="8.8" font-weight="bold" text-anchor="end" fill="#111" stroke="#111" stroke-width="0.45" >5.0</text>
<path d="M358.1,392.3 H363.1" stroke="#111" stroke-width="1.5"/>
<text x="356.5" y="395.5" font-size="8.8" font-weight="bold" text-anchor="end" fill="#111" stroke="#111" stroke-width="0.45" >4.5</text>
<path d="M358.1,411.5 H363.1" stroke="#111" stroke-width="1.5"/>
<text x="356.5" y="414.7" font-size="8.8" font-weight="bold" text-anchor="end" fill="#111" stroke="#111" stroke-width="0.45" >4.0</text>
<path d="M358.1,430.8 H363.1" stroke="#111" stroke-width="1.5"/>
<text x="356.5" y="434.0" font-size="8.8" font-weight="bold" text-anchor="end" fill="#111" stroke="#111" stroke-width="0.45" >3.5</text>
<path d="M358.1,450.0 H363.1" stroke="#111" stroke-width="1.5"/>
<text x="356.5" y="453.2" font-size="8.8" font-weight="bold" text-anchor="end" fill="#111" stroke="#111" stroke-width="0.45" >3.0</text>
<path d="M358.1,469.3 H363.1" stroke="#111" stroke-width="1.5"/>
<text x="356.5" y="472.5" font-size="8.8" font-weight="bold" text-anchor="end" fill="#111" stroke="#111" stroke-width="0.45" >2.5</text>
<path d="M384.9,469.3 V474.1" stroke="#111" stroke-width="1.5"/>
<path d="M418.1,469.3 V474.1" stroke="#111" stroke-width="1.5"/>
<path d="M384.4,356.4 H418.1" stroke="#262626" stroke-width="1.25"/>
<text x="401.25" y="355.90" font-size="10.5" font-weight="bold" text-anchor="middle" fill="#0a0a0a" stroke="#0a0a0a" stroke-width="0.3" stroke-linejoin="round">*</text>
<circle cx="381.5" cy="400.2" r="1.95" fill="#dc1428"/>
<circle cx="388.4" cy="396.4" r="1.95" fill="#dc1428"/>
<circle cx="381.5" cy="404.6" r="1.95" fill="#dc1428"/>
<circle cx="388.4" cy="401.5" r="1.95" fill="#dc1428"/>
<circle cx="381.5" cy="414.3" r="1.95" fill="#dc1428"/>
<circle cx="388.4" cy="415.5" r="1.95" fill="#dc1428"/>
<circle cx="384.9" cy="423.1" r="1.95" fill="#dc1428"/>
<circle cx="381.5" cy="431.4" r="1.95" fill="#dc1428"/>
<circle cx="388.4" cy="429.9" r="1.95" fill="#dc1428"/>
<circle cx="384.9" cy="438.8" r="1.95" fill="#dc1428"/>
<circle cx="384.9" cy="444.1" r="1.95" fill="#dc1428"/>
<circle cx="417.8" cy="360.2" r="1.95" fill="#7326bc"/>
<circle cx="417.8" cy="374.6" r="1.95" fill="#7326bc"/>
<circle cx="417.8" cy="380.4" r="1.95" fill="#7326bc"/>
<circle cx="414.3" cy="386.8" r="1.95" fill="#7326bc"/>
<circle cx="421.4" cy="385.8" r="1.95" fill="#7326bc"/>
<circle cx="417.8" cy="401.6" r="1.95" fill="#7326bc"/>
<circle cx="424.8" cy="400.8" r="1.95" fill="#7326bc"/>
<circle cx="410.7" cy="404.9" r="1.95" fill="#7326bc"/>
<circle cx="424.8" cy="405.3" r="1.95" fill="#7326bc"/>
<circle cx="418.1" cy="425.6" r="1.95" fill="#7326bc"/>
<circle cx="418.1" cy="436.3" r="1.95" fill="#7326bc"/>
<path d="M385.1,413.5 V423.3 M379.2,413.5 H390.7 M379.2,423.3 H390.7" stroke="#4a4a4a" stroke-width="1.05" fill="none"/>
<path d="M374.1,417.9 H396.1" stroke="#111" stroke-width="1.8"/>
<path d="M417.9,389.8 V403.3 M412.7,389.8 H423.5 M412.7,403.3 H423.5" stroke="#4a4a4a" stroke-width="1.05" fill="none"/>
<path d="M407.0,396.5 H428.8" stroke="#111" stroke-width="1.8"/>
<text transform="translate(335.0,468.6) rotate(-90)" font-size="9.45" font-weight="bold" fill="#111" stroke="#111" stroke-width="0.3">TIM-3+Ki67+ Gp33+<tspan font-size="7.28"> (Log</tspan><tspan font-size="5.10" dy="1.8">10</tspan><tspan font-size="7.28" dy="-1.8">)</tspan></text>
<text transform="translate(387.20,483.50) rotate(-45)" font-size="8.7" font-weight="bold" text-anchor="end" fill="#111" stroke="#111" stroke-width="0.35">Concomitant</text>
<text transform="translate(420.70,483.50) rotate(-45)" font-size="8.7" font-weight="bold" text-anchor="end" fill="#111" stroke="#111" stroke-width="0.35">Sequential</text>
<text x="93.0" y="529.4" font-size="14" font-weight="bold" text-anchor="start" fill="#111" stroke="#111" stroke-width="0.5" >D</text>
<text x="144.2" y="537.7" font-size="11.5" text-anchor="start" fill="#1a1a1a" stroke="#1a1a1a" stroke-width="0.14" >IFN<tspan font-size="10">&#947;</tspan> production</text>
<path d="M114.8,541.9 H248" stroke="#8e8e8e" stroke-width="1.6"/>
<path d="M151.3,557.6999999999999 V674.4 M146.3,674.4 H228.8" stroke="#111" stroke-width="1.6" fill="none"/>
<path d="M146.3,558.4 H151.3" stroke="#111" stroke-width="1.5"/>
<text x="144.70000000000002" y="561.6" font-size="8.8" font-weight="bold" text-anchor="end" fill="#111" stroke="#111" stroke-width="0.45" >6.0</text>
<path d="M146.3,581.6 H151.3" stroke="#111" stroke-width="1.5"/>
<text x="144.70000000000002" y="584.8000000000001" font-size="8.8" font-weight="bold" text-anchor="end" fill="#111" stroke="#111" stroke-width="0.45" >5.5</text>
<path d="M146.3,604.8 H151.3" stroke="#111" stroke-width="1.5"/>
<text x="144.70000000000002" y="608.0" font-size="8.8" font-weight="bold" text-anchor="end" fill="#111" stroke="#111" stroke-width="0.45" >5.0</text>
<path d="M146.3,628.0 H151.3" stroke="#111" stroke-width="1.5"/>
<text x="144.70000000000002" y="631.2" font-size="8.8" font-weight="bold" text-anchor="end" fill="#111" stroke="#111" stroke-width="0.45" >4.5</text>
<path d="M146.3,651.2 H151.3" stroke="#111" stroke-width="1.5"/>
<text x="144.70000000000002" y="654.4000000000001" font-size="8.8" font-weight="bold" text-anchor="end" fill="#111" stroke="#111" stroke-width="0.45" >4.0</text>
<path d="M146.3,674.4 H151.3" stroke="#111" stroke-width="1.5"/>
<text x="144.70000000000002" y="677.6" font-size="8.8" font-weight="bold" text-anchor="end" fill="#111" stroke="#111" stroke-width="0.45" >3.5</text>
<path d="M173.7,674.4 V679.1999999999999" stroke="#111" stroke-width="1.5"/>
<path d="M206.9,674.4 V679.1999999999999" stroke="#111" stroke-width="1.5"/>
<path d="M173.5,563.5 H207.1" stroke="#444" stroke-width="1.3"/>
<text x="190.30" y="563.00" font-size="10.5" font-weight="bold" text-anchor="middle" fill="#0a0a0a" stroke="#0a0a0a" stroke-width="0.3" stroke-linejoin="round">*</text>
<circle cx="170.2" cy="613.7" r="1.95" fill="#dc1428"/>
<circle cx="177.3" cy="612.8" r="1.95" fill="#dc1428"/>
<circle cx="177.3" cy="616.4" r="1.95" fill="#dc1428"/>
<circle cx="170.2" cy="619.1" r="1.95" fill="#dc1428"/>
<circle cx="173.8" cy="628.5" r="1.95" fill="#dc1428"/>
<circle cx="173.8" cy="635.0" r="1.95" fill="#dc1428"/>
<circle cx="170.2" cy="645.1" r="1.95" fill="#dc1428"/>
<circle cx="177.3" cy="644.7" r="1.95" fill="#dc1428"/>
<circle cx="177.3" cy="648.2" r="1.95" fill="#dc1428"/>
<circle cx="170.2" cy="651.1" r="1.95" fill="#dc1428"/>
<circle cx="206.8" cy="569.8" r="1.95" fill="#7326bc"/>
<circle cx="210.2" cy="576.7" r="1.95" fill="#7326bc"/>
<circle cx="203.3" cy="579.2" r="1.95" fill="#7326bc"/>
<circle cx="206.8" cy="594.6" r="1.95" fill="#7326bc"/>
<circle cx="210.2" cy="606.7" r="1.95" fill="#7326bc"/>
<circle cx="203.3" cy="610.4" r="1.95" fill="#7326bc"/>
<circle cx="206.8" cy="617.5" r="1.95" fill="#7326bc"/>
<circle cx="206.8" cy="621.9" r="1.95" fill="#7326bc"/>
<circle cx="206.8" cy="640.0" r="1.95" fill="#7326bc"/>
<circle cx="206.8" cy="643.1" r="1.95" fill="#7326bc"/>
<path d="M173.75,626.6 V636.3 M168.2,626.6 H178.9 M168.2,636.3 H178.9" stroke="#4a4a4a" stroke-width="1.05" fill="none"/>
<path d="M162.8,631.6 H184.7" stroke="#111" stroke-width="1.8"/>
<path d="M207.0,597.7 V614.4 M201.3,597.7 H212.5 M201.3,614.4 H212.5" stroke="#4a4a4a" stroke-width="1.05" fill="none"/>
<path d="M196.2,605.8 H217.8" stroke="#111" stroke-width="1.8"/>
<text transform="translate(125.2,674.0) rotate(-90)" font-size="9.65" font-weight="bold" fill="#111" stroke="#111" stroke-width="0.3"># IFN&#947;+ CD8 T cells<tspan font-size="7.43"> (Log</tspan><tspan font-size="5.21" dy="1.8">10</tspan><tspan font-size="7.43" dy="-1.8">)</tspan></text>
<text transform="translate(175.70,688.50) rotate(-45)" font-size="8.7" font-weight="bold" text-anchor="end" fill="#111" stroke="#111" stroke-width="0.35">Concomitant</text>
<text transform="translate(208.70,688.50) rotate(-45)" font-size="8.7" font-weight="bold" text-anchor="end" fill="#111" stroke="#111" stroke-width="0.35">Sequential</text>
<text x="258.8" y="529.8" font-size="14" font-weight="bold" text-anchor="start" fill="#111" stroke="#111" stroke-width="0.5" >E</text>
<text x="324.5" y="537.7" font-size="11.4" text-anchor="start" fill="#1a1a1a" stroke="#1a1a1a" stroke-width="0.14" >Viral control</text>
<path d="M278.8,541.9 H411.8" stroke="#8e8e8e" stroke-width="1.6"/>
<path d="M317.0,557.4 V673.8 M312.0,673.8 H394.3" stroke="#111" stroke-width="1.6" fill="none"/>
<path d="M312.0,558.1 H317.0" stroke="#111" stroke-width="1.5"/>
<text x="310.4" y="561.3000000000001" font-size="8.8" font-weight="bold" text-anchor="end" fill="#111" stroke="#111" stroke-width="0.45" >6.5</text>
<path d="M312.0,587.0 H317.0" stroke="#111" stroke-width="1.5"/>
<text x="310.4" y="590.2" font-size="8.8" font-weight="bold" text-anchor="end" fill="#111" stroke="#111" stroke-width="0.45" >6.0</text>
<path d="M312.0,616.0 H317.0" stroke="#111" stroke-width="1.5"/>
<text x="310.4" y="619.2" font-size="8.8" font-weight="bold" text-anchor="end" fill="#111" stroke="#111" stroke-width="0.45" >5.5</text>
<path d="M312.0,644.9 H317.0" stroke="#111" stroke-width="1.5"/>
<text x="310.4" y="648.1" font-size="8.8" font-weight="bold" text-anchor="end" fill="#111" stroke="#111" stroke-width="0.45" >5.0</text>
<path d="M312.0,673.8 H317.0" stroke="#111" stroke-width="1.5"/>
<text x="310.4" y="677.0" font-size="8.8" font-weight="bold" text-anchor="end" fill="#111" stroke="#111" stroke-width="0.45" >4.5</text>
<path d="M338.8,673.8 V678.5999999999999" stroke="#111" stroke-width="1.5"/>
<path d="M372.0,673.8 V678.5999999999999" stroke="#111" stroke-width="1.5"/>
<path d="M338.8,573.1 H372.5" stroke="#626262" stroke-width="1.5"/>
<text x="355.65" y="572.60" font-size="10.5" font-weight="bold" text-anchor="middle" fill="#0a0a0a" stroke="#0a0a0a" stroke-width="0.3" stroke-linejoin="round">***</text>
<circle cx="338.8" cy="583.0" r="1.95" fill="#dc1428"/>
<circle cx="346.0" cy="581.2" r="1.95" fill="#dc1428"/>
<circle cx="338.8" cy="587.0" r="1.95" fill="#dc1428"/>
<circle cx="331.8" cy="591.0" r="1.95" fill="#dc1428"/>
<circle cx="346.0" cy="592.4" r="1.95" fill="#dc1428"/>
<circle cx="338.8" cy="593.7" r="1.95" fill="#dc1428"/>
<circle cx="338.8" cy="601.1" r="1.95" fill="#dc1428"/>
<circle cx="335.5" cy="606.5" r="1.95" fill="#dc1428"/>
<circle cx="342.5" cy="606.8" r="1.95" fill="#dc1428"/>
<circle cx="338.8" cy="614.3" r="1.95" fill="#dc1428"/>
<circle cx="365.6" cy="611.4" r="1.95" fill="#7326bc"/>
<circle cx="372.0" cy="609.8" r="1.95" fill="#7326bc"/>
<circle cx="378.6" cy="611.4" r="1.95" fill="#7326bc"/>
<circle cx="372.0" cy="615.2" r="1.95" fill="#7326bc"/>
<circle cx="375.3" cy="619.5" r="1.95" fill="#7326bc"/>
<circle cx="381.7" cy="619.2" r="1.95" fill="#7326bc"/>
<circle cx="362.6" cy="621.2" r="1.95" fill="#7326bc"/>
<circle cx="368.9" cy="621.9" r="1.95" fill="#7326bc"/>
<circle cx="372.0" cy="641.8" r="1.95" fill="#7326bc"/>
<circle cx="372.0" cy="646.8" r="1.95" fill="#7326bc"/>
<path d="M339.0,592.4 V599.1 M333.5,592.4 H344.5 M333.5,599.1 H344.5" stroke="#4a4a4a" stroke-width="1.05" fill="none"/>
<path d="M328.1,595.8 H349.9" stroke="#111" stroke-width="1.8"/>
<path d="M372.29999999999995,617.6 V626.0 M366.6,617.6 H378.0 M366.6,626.0 H378.0" stroke="#4a4a4a" stroke-width="1.05" fill="none"/>
<path d="M360.9,621.9 H383.7" stroke="#111" stroke-width="1.8"/>
<text transform="translate(291.6,643.3) rotate(-90)" font-size="9.7" font-weight="bold" fill="#111" stroke="#111" stroke-width="0.3">PFU/g<tspan font-size="7.47"> (Log</tspan><tspan font-size="5.24" dy="1.8">10</tspan><tspan font-size="7.47" dy="-1.8">)</tspan></text>
<text transform="translate(340.70,688.00) rotate(-45)" font-size="8.7" font-weight="bold" text-anchor="end" fill="#111" stroke="#111" stroke-width="0.35">Concomitant</text>
<text transform="translate(373.40,688.00) rotate(-45)" font-size="8.7" font-weight="bold" text-anchor="end" fill="#111" stroke="#111" stroke-width="0.35">Sequential</text>
</svg>
</body></html>
